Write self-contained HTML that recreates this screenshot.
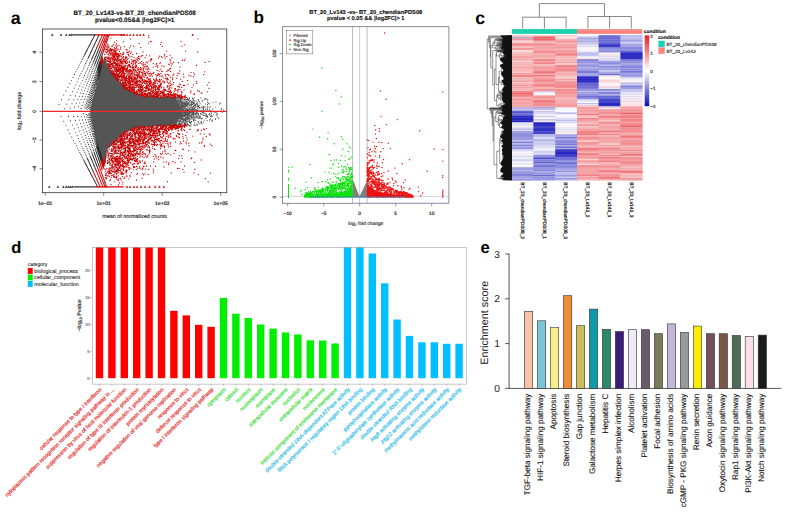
<!DOCTYPE html>
<html><head><meta charset="utf-8"><style>
html,body{margin:0;padding:0;background:#fff;}
svg{display:block;}
text{font-family:"Liberation Sans", sans-serif;text-rendering:geometricPrecision;}
</style></head><body>
<svg width="785" height="513" viewBox="0 0 785 513">
<rect width="785" height="513" fill="#fff"/>
<text x="10.8" y="23.6" font-size="17.8" text-anchor="start" font-weight="bold" fill="#000">a</text>
<text x="253.6" y="22.6" font-size="17.2" text-anchor="start" font-weight="bold" fill="#000">b</text>
<text x="475.3" y="23.6" font-size="17.8" text-anchor="start" font-weight="bold" fill="#000">c</text>
<text x="11.2" y="253.3" font-size="16.5" text-anchor="start" font-weight="bold" fill="#000">d</text>
<text x="480.6" y="253" font-size="16.6" text-anchor="start" font-weight="bold" fill="#000">e</text>
<text x="134.7" y="14.9" font-size="6.35" text-anchor="middle" font-weight="bold" fill="#111" stroke="#111" stroke-width="0.13">BT_20_Lv143-vs-BT_20_chendianPDS08</text>
<text x="134.7" y="21.9" font-size="6.35" text-anchor="middle" font-weight="bold" fill="#111" stroke="#111" stroke-width="0.13">pvalue&lt;0.05&amp;&amp; |log2FC|&gt;1</text>
<clipPath id="aclip"><rect x="42.5" y="29.0" width="184.3" height="163.7"/></clipPath>
<g clip-path="url(#aclip)">
<path d="M94.8 34.9h0M94.5 35.4h0M94.2 36h0M94 36.5h0M93.7 37.1h0M93.4 37.6h0M93.1 38.2h0M92.8 38.8h0M92.5 39.3h0M92.3 39.8h0M92 40.4h0M91.7 40.9h0M91.4 41.5h0M91.1 42h0M90.8 42.6h0M90.6 43.1h0M90.3 43.7h0M90 44.2h0M89.7 44.8h0M89.4 45.4h0M89.1 45.9h0M88.9 46.5h0M88.6 47h0M88.3 47.6h0M88 48.1h0M87.7 48.7h0M87.4 49.2h0M87.2 49.8h0M86.9 50.3h0M86.6 50.9h0M86.3 51.4h0M86 52h0M85.7 52.5h0M85.5 53.1h0M85.2 53.6h0M84.9 54.2h0M84.6 54.7h0M84.3 55.3h0M83.6 56.6h0M82.9 58h0M82.1 59.6h0M81.3 61.2h0M80.3 63h0M79.3 65h0M78.3 67.1h0M77.1 69.3h0M75.8 71.7h0M74.5 74.4h0M73 77.2h0M71.5 80.3h0M69.8 83.6h0M67.9 87.1h0M66 90.9h0M63.8 95.1h0M61.5 99.6h0M59.1 104.4h0M99 34.9h0M98.7 35.4h0M98.5 36h0M98.2 36.5h0M98 37.1h0M97.7 37.6h0M97.5 38.2h0M97.2 38.8h0M96.9 39.3h0M96.7 39.8h0M96.4 40.4h0M96.2 40.9h0M95.9 41.5h0M95.7 42h0M95.4 42.6h0M95.1 43.1h0M94.9 43.7h0M94.6 44.2h0M94.4 44.8h0M94.1 45.4h0M93.9 45.9h0M93.6 46.5h0M93.3 47h0M93.1 47.6h0M92.8 48.1h0M92.6 48.7h0M92.3 49.2h0M92.1 49.8h0M91.8 50.3h0M91.6 50.9h0M91.3 51.4h0M91 52h0M90.8 52.5h0M90.5 53.1h0M90.3 53.6h0M90 54.2h0M89.8 54.7h0M89.5 55.3h0M89.2 55.8h0M89 56.4h0M88.7 56.9h0M88.5 57.5h0M87.9 58.8h0M87.2 60.2h0M86.5 61.7h0M85.7 63.4h0M84.9 65.1h0M84 67h0M83.1 69h0M82 71.2h0M80.9 73.6h0M79.8 76.1h0M78.5 78.8h0M77.2 81.7h0M75.7 84.8h0M74.2 88.1h0M72.5 91.7h0M70.7 95.5h0M68.8 99.6h0M66.7 104.1h0M64.5 108.8h0M96.8 47.6h0M96.6 48.1h0M96.3 48.7h0M96.1 49.2h0M95.8 49.8h0M95.6 50.3h0M95.3 50.9h0M95.1 51.4h0M94.9 52h0M94.6 52.5h0M94.4 53.1h0M94.1 53.6h0M93.9 54.2h0M93.6 54.7h0M93.4 55.3h0M93.2 55.8h0M92.9 56.4h0M92.7 56.9h0M92.4 57.5h0M92.2 58h0M91.9 58.6h0M91.7 59.1h0M91.5 59.7h0M90.9 61h0M90.2 62.4h0M89.6 63.9h0M88.9 65.5h0M88.1 67.2h0M87.3 69.1h0M86.4 71h0M85.5 73.1h0M84.5 75.4h0M83.4 77.7h0M82.3 80.3h0M81.1 83h0M79.8 85.9h0M78.5 89h0M77 92.3h0M75.4 95.9h0M73.8 99.7h0M72 103.7h0M70.1 108h0M98.7 49.2h0M98.4 49.8h0M98.2 50.3h0M98 50.9h0M97.8 51.4h0M97.5 52h0M97.3 52.5h0M97.1 53.1h0M96.8 53.6h0M96.6 54.2h0M96.4 54.7h0M96.2 55.3h0M95.9 55.8h0M95.7 56.4h0M95.5 56.9h0M95.2 57.5h0M95 58h0M94.8 58.6h0M94.6 59.1h0M94.3 59.7h0M94.1 60.2h0M93.9 60.8h0M93.7 61.3h0M93.4 61.9h0M92.9 63.2h0M92.3 64.6h0M91.7 66.1h0M91 67.6h0M90.3 69.3h0M89.6 71.1h0M88.8 73h0M88 75h0M87.1 77.1h0M86.1 79.4h0M85.2 81.8h0M84.1 84.3h0M83 87h0M81.8 89.9h0M80.5 93h0M79.2 96.2h0M77.8 99.6h0M76.2 103.3h0M74.6 107.1h0M100.3 50.3h0M100.1 50.9h0M99.9 51.4h0M99.6 52h0M99.4 52.5h0M99.2 53.1h0M99 53.6h0M98.8 54.2h0M98.6 54.7h0M98.4 55.3h0M98.1 55.8h0M97.9 56.4h0M97.7 56.9h0M97.5 57.5h0M97.3 58h0M97.1 58.6h0M96.9 59.1h0M96.6 59.7h0M96.4 60.2h0M96.2 60.8h0M96 61.3h0M95.8 61.9h0M95.6 62.4h0M95.4 63h0M95.1 63.5h0M94.9 64.1h0M94.4 65.4h0M93.9 66.8h0M93.3 68.2h0M92.7 69.8h0M92.1 71.4h0M91.4 73.1h0M90.7 74.9h0M89.9 76.9h0M89.1 78.9h0M88.3 81h0M87.4 83.2h0M86.5 85.6h0M85.5 88.1h0M84.5 90.7h0M83.4 93.5h0M82.3 96.4h0M81.1 99.5h0M79.8 102.8h0M78.5 106.2h0M101.6 52h0M101.4 52.5h0M101.2 53.1h0M101 53.6h0M100.8 54.2h0M100.6 54.7h0M100.4 55.3h0M100.2 55.8h0M100 56.4h0M99.8 56.9h0M99.6 57.5h0M99.4 58h0M99.2 58.6h0M99 59.1h0M98.8 59.7h0M98.6 60.2h0M98.4 60.8h0M98.2 61.3h0M98 61.9h0M97.8 62.4h0M97.6 63h0M97.4 63.5h0M97.2 64.1h0M97 64.6h0M96.8 65.2h0M96.6 65.7h0M96.4 66.3h0M96 67.6h0M95.5 68.9h0M94.9 70.4h0M94.4 71.9h0M93.8 73.5h0M93.2 75.1h0M92.6 76.9h0M91.9 78.7h0M91.2 80.6h0M90.5 82.6h0M89.8 84.7h0M89 86.8h0M88.1 89.1h0M87.3 91.5h0M86.4 94h0M85.4 96.7h0M84.4 99.4h0M83.4 102.3h0M82.3 105.3h0M81.1 108.4h0M102.6 53.6h0M102.4 54.2h0M102.3 54.7h0M102.1 55.3h0M101.9 55.8h0M101.7 56.4h0M101.5 56.9h0M101.3 57.5h0M101.1 58h0M100.9 58.6h0M100.7 59.1h0M100.5 59.7h0M100.4 60.2h0M100.2 60.8h0M100 61.3h0M99.8 61.9h0M99.6 62.4h0M99.4 63h0M99.2 63.5h0M99 64.1h0M98.8 64.6h0M98.6 65.2h0M98.5 65.7h0M98.3 66.3h0M98.1 66.8h0M97.9 67.4h0M97.7 67.9h0M97.5 68.5h0M97.1 69.8h0M96.6 71.1h0M96.1 72.5h0M95.6 74h0M95.1 75.5h0M94.5 77.1h0M93.9 78.8h0M93.3 80.5h0M92.7 82.3h0M92.1 84.1h0M91.4 86h0M90.7 88h0M90 90.1h0M89.3 92.3h0M88.5 94.5h0M87.7 96.8h0M86.9 99.2h0M86 101.7h0M85.1 104.3h0M84.2 107h0M100.5 62.4h0M100.3 63h0M100.1 63.5h0M99.9 64.1h0M99.8 64.6h0M99.6 65.2h0M99.4 65.7h0M99.2 66.3h0M99 66.8h0M98.8 67.4h0M98.6 67.9h0M98.5 68.5h0M98.3 69h0M98.1 69.6h0M97.9 70.1h0M97.7 70.7h0M97.3 72h0M96.8 73.3h0M96.4 74.7h0M95.9 76.1h0M95.4 77.6h0M94.9 79.1h0M94.4 80.7h0M93.8 82.3h0M93.3 83.9h0M92.7 85.6h0M92.1 87.4h0M91.5 89.2h0M90.9 91h0M90.3 92.9h0M89.6 94.9h0M88.9 96.9h0M88.2 99h0M87.5 101.1h0M86.8 103.4h0M86 105.6h0M85.2 108h0M101 63.5h0M100.8 64.1h0M100.6 64.6h0M100.4 65.2h0M100.3 65.7h0M100.1 66.3h0M99.9 66.8h0M99.7 67.4h0M99.6 67.9h0M99.4 68.5h0M99.2 69h0M99 69.6h0M98.8 70.1h0M98.7 70.7h0M98.5 71.2h0M98.3 71.8h0M98.1 72.3h0M97.9 72.8h0M97.5 74.2h0M97.1 75.5h0M96.6 76.8h0M96.2 78.2h0M95.7 79.6h0M95.3 81.1h0M94.8 82.5h0M94.3 84h0M93.8 85.5h0M93.3 87.1h0M92.8 88.7h0M92.3 90.3h0M91.7 91.9h0M91.2 93.6h0M90.6 95.3h0M90.1 97h0M89.5 98.8h0M88.9 100.6h0M88.3 102.4h0M87.7 104.3h0M87.1 106.2h0M86.5 108.1h0M101.4 64.6h0M101.2 65.2h0M101.1 65.7h0M100.9 66.3h0M100.7 66.8h0M100.5 67.4h0M100.4 67.9h0M100.2 68.5h0M100 69h0M99.8 69.6h0M99.7 70.1h0M99.5 70.7h0M99.3 71.2h0M99.1 71.8h0M99 72.3h0M98.8 72.8h0M98.6 73.4h0M98.4 73.9h0M98.2 74.5h0M98.1 75h0M97.7 76.4h0M97.2 77.7h0M96.8 79h0M96.4 80.4h0M95.9 81.7h0M95.5 83.1h0M95.1 84.5h0M94.6 85.9h0M94.1 87.3h0M93.7 88.8h0M93.2 90.2h0M92.7 91.7h0M92.3 93.2h0M91.8 94.7h0M91.3 96.3h0M90.8 97.8h0M90.3 99.4h0M89.8 101h0M89.3 102.6h0M88.8 104.2h0M88.2 105.8h0M87.7 107.5h0M87.2 109.2h0M101.8 65.7h0M101.6 66.3h0M101.5 66.8h0M101.3 67.4h0M101.1 67.9h0M100.9 68.5h0M100.8 69h0M100.6 69.6h0M100.4 70.1h0M100.3 70.7h0M100.1 71.2h0M99.9 71.8h0M99.7 72.3h0M99.6 72.8h0M99.4 73.4h0M99.2 73.9h0M99.1 74.5h0M98.9 75h0M98.7 75.6h0M98.5 76.1h0M98.4 76.7h0M98.2 77.2h0M97.8 78.6h0M97.4 79.9h0M97 81.2h0M96.5 82.6h0M96.1 83.9h0M95.7 85.3h0M95.2 86.7h0M94.8 88.1h0M94.3 89.6h0M93.9 91h0M93.4 92.5h0M93 94h0M92.5 95.5h0M92 97h0M91.5 98.6h0M91.1 100.2h0M90.6 101.7h0M90.1 103.3h0M89.6 105h0M89 106.6h0M88.5 108.3h0M102.3 66.8h0M102.1 67.4h0M102 67.9h0M101.8 68.5h0M101.6 69h0M101.5 69.6h0M101.3 70.1h0M101.1 70.7h0M101 71.2h0M100.8 71.8h0M100.6 72.3h0M100.5 72.8h0M100.3 73.4h0M100.1 73.9h0M100 74.5h0M99.8 75h0M99.6 75.6h0M99.5 76.1h0M99.3 76.7h0M99.1 77.2h0M99 77.8h0M98.8 78.3h0M98.6 78.9h0M98.5 79.4h0M98.1 80.8h0M97.7 82.1h0M97.2 83.4h0M96.8 84.8h0M96.4 86.1h0M96 87.5h0M95.6 89h0M95.1 90.4h0M94.7 91.8h0M94.2 93.3h0M93.8 94.8h0M93.3 96.3h0M92.9 97.8h0M92.4 99.4h0M91.9 100.9h0M91.4 102.5h0M90.9 104.1h0M90.5 105.8h0M89.9 107.4h0M89.4 109.1h0M102.7 67.9h0M102.5 68.5h0M102.3 69h0M102.2 69.6h0M102 70.1h0M101.9 70.7h0M101.7 71.2h0M101.5 71.8h0M101.4 72.3h0M101.2 72.8h0M101 73.4h0M100.9 73.9h0M100.7 74.5h0M100.6 75h0M100.4 75.6h0M100.2 76.1h0M100.1 76.7h0M99.9 77.2h0M99.7 77.8h0M99.6 78.3h0M99.4 78.9h0M99.3 79.4h0M98.9 80.8h0M98.5 82.1h0M98.1 83.4h0M97.7 84.8h0M97.3 86.1h0M96.9 87.5h0M96.5 89h0M96 90.4h0M95.6 91.8h0M95.2 93.3h0M94.7 94.8h0M94.3 96.3h0M93.8 97.8h0M93.4 99.4h0M92.9 100.9h0M92.5 102.5h0M92 104.1h0M91.5 105.8h0M91 107.4h0M90.5 109.1h0M102.8 69.6h0M102.7 70.1h0M102.5 70.7h0M102.4 71.2h0M102.2 71.8h0M102 72.3h0M101.9 72.8h0M101.7 73.4h0M101.6 73.9h0M101.4 74.5h0M101.2 75h0M101.1 75.6h0M100.9 76.1h0M100.8 76.7h0M100.6 77.2h0M100.4 77.8h0M100.3 78.3h0M100.1 78.9h0M100 79.4h0M99.6 80.8h0M99.2 82.1h0M98.8 83.4h0M98.4 84.8h0M98 86.1h0M97.6 87.5h0M97.2 89h0M96.8 90.4h0M96.4 91.8h0M95.9 93.3h0M95.5 94.8h0M95.1 96.3h0M94.6 97.8h0M94.2 99.4h0M93.7 100.9h0M93.3 102.5h0M92.8 104.1h0M92.3 105.8h0M91.9 107.4h0M91.4 109.1h0M103.1 70.7h0M103 71.2h0M102.8 71.8h0M102.7 72.3h0M102.5 72.8h0M102.4 73.4h0M102.2 73.9h0M102 74.5h0M101.9 75h0M101.7 75.6h0M101.6 76.1h0M101.4 76.7h0M101.3 77.2h0M101.1 77.8h0M101 78.3h0M100.8 78.9h0M100.6 79.4h0M100.3 80.8h0M99.9 82.1h0M99.5 83.4h0M99.1 84.8h0M98.7 86.1h0M98.3 87.5h0M97.9 89h0M97.5 90.4h0M97.1 91.8h0M96.7 93.3h0M96.3 94.8h0M95.9 96.3h0M95.4 97.8h0M95 99.4h0M94.5 100.9h0M94.1 102.5h0M93.6 104.1h0M93.2 105.8h0M92.7 107.4h0M92.2 109.1h0M103.5 71.8h0M103.3 72.3h0M103.1 72.8h0M103 73.4h0M102.8 73.9h0M102.7 74.5h0M102.5 75h0M102.4 75.6h0M102.2 76.1h0M102.1 76.7h0M101.9 77.2h0M101.8 77.8h0M101.6 78.3h0M101.5 78.9h0M101.3 79.4h0M101 80.8h0M100.6 82.1h0M100.2 83.4h0M99.8 84.8h0M99.5 86.1h0M99.1 87.5h0M98.7 89h0M98.3 90.4h0M97.9 91.8h0M97.5 93.3h0M97.1 94.8h0M96.6 96.3h0M96.2 97.8h0M95.8 99.4h0M95.3 100.9h0M94.9 102.5h0M94.5 104.1h0M94 105.8h0M93.5 107.4h0M93.1 109.1h0M103.7 72.8h0M103.6 73.4h0M103.4 73.9h0M103.3 74.5h0M103.1 75h0M103 75.6h0M102.8 76.1h0M102.7 76.7h0M102.5 77.2h0M102.4 77.8h0M102.2 78.3h0M102.1 78.9h0M101.9 79.4h0M101.6 80.8h0M101.2 82.1h0M100.8 83.4h0M100.5 84.8h0M100.1 86.1h0M99.7 87.5h0M99.3 89h0M98.9 90.4h0M98.5 91.8h0M98.1 93.3h0M97.7 94.8h0M97.3 96.3h0M96.9 97.8h0M96.5 99.4h0M96 100.9h0M95.6 102.5h0M95.2 104.1h0M94.7 105.8h0M94.3 107.4h0M93.8 109.1h0M104 73.9h0M103.9 74.5h0M103.7 75h0M103.6 75.6h0M103.4 76.1h0M103.3 76.7h0M103.1 77.2h0M103 77.8h0M102.8 78.3h0M102.7 78.9h0M102.5 79.4h0M102.2 80.8h0M101.8 82.1h0M101.5 83.4h0M101.1 84.8h0M100.7 86.1h0M100.3 87.5h0M100 89h0M99.6 90.4h0M99.2 91.8h0M98.8 93.3h0M98.4 94.8h0M98 96.3h0M97.6 97.8h0M97.2 99.4h0M96.8 100.9h0M96.3 102.5h0M95.9 104.1h0M95.5 105.8h0M95 107.4h0M94.6 109.1h0M97.7 186.9h0M97.4 186.3h0M97.1 185.8h0M96.8 185.2h0M96.6 184.7h0M96.3 184.2h0M96 183.6h0M95.7 183.1h0M95.4 182.5h0M95.1 182h0M94.8 181.4h0M94.6 180.8h0M94.3 180.3h0M94 179.8h0M93.7 179.2h0M93.4 178.7h0M93.1 178.1h0M92.8 177.6h0M92.6 177h0M92.3 176.5h0M92 175.9h0M91.7 175.3h0M91.4 174.8h0M91.1 174.2h0M90.8 173.7h0M90.6 173.2h0M90.3 172.6h0M90 172.1h0M89.7 171.5h0M89.4 170.9h0M89.1 170.4h0M88.8 169.8h0M88.6 169.3h0M88.3 168.8h0M88 168.2h0M87.7 167.7h0M87.4 167.1h0M87.1 166.5h0M86.8 166h0M86.6 165.4h0M86.3 164.9h0M86 164.3h0M85.7 163.8h0M85.4 163.2h0M85.1 162.7h0M84.8 162.1h0M84.6 161.6h0M84.3 161h0M84 160.5h0M83.3 159.2h0M82.5 157.7h0M81.7 156.1h0M80.8 154.4h0M79.8 152.5h0M78.8 150.5h0M77.6 148.2h0M76.3 145.8h0M75 143.1h0M73.5 140.2h0M71.8 137.1h0M70 133.6h0M68.1 129.9h0M66 125.8h0M63.7 121.3h0M61.1 116.5h0M93 170.9h0M92.8 170.4h0M92.5 169.8h0M92.3 169.3h0M92 168.8h0M91.8 168.2h0M91.5 167.7h0M91.3 167.1h0M91 166.5h0M90.8 166h0M90.5 165.4h0M90.3 164.9h0M90.1 164.3h0M89.8 163.8h0M89.6 163.2h0M89.3 162.7h0M89.1 162.1h0M88.8 161.6h0M88.6 161h0M88.3 160.5h0M88.1 159.9h0M87.8 159.4h0M87.6 158.8h0M87.3 158.3h0M86.7 157h0M86.1 155.5h0M85.4 154h0M84.6 152.3h0M83.8 150.4h0M82.9 148.4h0M81.9 146.2h0M80.9 143.9h0M79.7 141.3h0M78.5 138.6h0M77.1 135.6h0M75.7 132.3h0M74.1 128.8h0M72.4 125h0M70.5 120.9h0M68.5 116.4h0M95.7 169.3h0M95.4 168.8h0M95.2 168.2h0M95 167.7h0M94.8 167.1h0M94.5 166.5h0M94.3 166h0M94.1 165.4h0M93.8 164.9h0M93.6 164.3h0M93.4 163.8h0M93.2 163.2h0M92.9 162.7h0M92.7 162.1h0M92.5 161.6h0M92.2 161h0M92 160.5h0M91.8 159.9h0M91.6 159.4h0M91.3 158.8h0M91.1 158.3h0M90.9 157.7h0M90.6 157.2h0M90.4 156.6h0M90.2 156.1h0M89.6 154.8h0M89 153.3h0M88.4 151.8h0M87.7 150.1h0M86.9 148.3h0M86.1 146.4h0M85.3 144.3h0M84.3 142h0M83.3 139.6h0M82.2 137h0M81.1 134.2h0M79.8 131.1h0M78.4 127.8h0M77 124.3h0M75.4 120.5h0M73.6 116.4h0M97.4 167.1h0M97.2 166.5h0M96.9 166h0M96.7 165.4h0M96.5 164.9h0M96.3 164.3h0M96.1 163.8h0M95.9 163.2h0M95.7 162.7h0M95.5 162.1h0M95.3 161.6h0M95 161h0M94.8 160.5h0M94.6 159.9h0M94.4 159.4h0M94.2 158.8h0M94 158.3h0M93.8 157.7h0M93.6 157.2h0M93.3 156.6h0M93.1 156.1h0M92.9 155.5h0M92.7 155h0M92.5 154.4h0M92.3 153.9h0M91.8 152.6h0M91.2 151.1h0M90.6 149.6h0M90 148h0M89.3 146.2h0M88.6 144.4h0M87.8 142.4h0M87 140.2h0M86.1 137.9h0M85.2 135.4h0M84.1 132.8h0M83.1 129.9h0M81.9 126.9h0M80.6 123.6h0M79.3 120.1h0M77.8 116.4h0M98.9 165.4h0M98.7 164.9h0M98.5 164.3h0M98.3 163.8h0M98.1 163.2h0M97.9 162.7h0M97.7 162.1h0M97.5 161.6h0M97.3 161h0M97.1 160.5h0M96.9 159.9h0M96.7 159.4h0M96.5 158.8h0M96.3 158.3h0M96.1 157.7h0M95.9 157.2h0M95.7 156.6h0M95.5 156.1h0M95.3 155.5h0M95.1 155h0M94.9 154.4h0M94.8 153.9h0M94.6 153.3h0M94.4 152.8h0M94.2 152.2h0M94 151.7h0M93.5 150.4h0M93 149h0M92.4 147.5h0M91.9 145.9h0M91.3 144.2h0M90.6 142.4h0M89.9 140.4h0M89.2 138.4h0M88.4 136.2h0M87.6 133.9h0M86.7 131.4h0M85.7 128.8h0M84.7 126h0M83.7 123.1h0M82.5 119.9h0M81.3 116.5h0M99.9 162.7h0M99.7 162.1h0M99.5 161.6h0M99.4 161h0M99.2 160.5h0M99 159.9h0M98.8 159.4h0M98.6 158.8h0M98.4 158.3h0M98.3 157.7h0M98.1 157.2h0M97.9 156.6h0M97.7 156.1h0M97.5 155.5h0M97.3 155h0M97.1 154.4h0M97 153.9h0M96.8 153.3h0M96.6 152.8h0M96.4 152.2h0M96.2 151.7h0M96 151.2h0M95.9 150.6h0M95.7 150.1h0M95.5 149.5h0M95.1 148.2h0M94.6 146.8h0M94.1 145.3h0M93.6 143.8h0M93 142.1h0M92.4 140.4h0M91.8 138.6h0M91.2 136.6h0M90.5 134.6h0M89.8 132.4h0M89 130.2h0M88.2 127.8h0M87.4 125.2h0M86.5 122.6h0M85.5 119.7h0M84.6 116.8h0M83.5 113.6h0M101.2 161.6h0M101 161h0M100.8 160.5h0M100.6 159.9h0M100.5 159.4h0M100.3 158.8h0M100.1 158.3h0M99.9 157.7h0M99.8 157.2h0M99.6 156.6h0M99.4 156.1h0M99.2 155.5h0M99.1 155h0M98.9 154.4h0M98.7 153.9h0M98.6 153.3h0M98.4 152.8h0M98.2 152.2h0M98 151.7h0M97.9 151.2h0M97.7 150.6h0M97.5 150.1h0M97.3 149.5h0M97.2 149h0M97 148.4h0M96.8 147.9h0M96.6 147.3h0M96.2 146h0M95.8 144.6h0M95.3 143.2h0M94.8 141.7h0M94.3 140.1h0M93.8 138.4h0M93.3 136.7h0M92.7 134.9h0M92.1 133h0M91.5 131h0M90.8 128.9h0M90.1 126.8h0M89.4 124.5h0M88.6 122.1h0M87.9 119.7h0M87 117.1h0M86.2 114.4h0M101.6 160.5h0M101.5 159.9h0M101.3 159.4h0M101.1 158.8h0M100.9 158.3h0M100.8 157.7h0M100.6 157.2h0M100.4 156.6h0M100.3 156.1h0M100.1 155.5h0M99.9 155h0M99.8 154.4h0M99.6 153.9h0M99.4 153.3h0M99.2 152.8h0M99.1 152.2h0M98.9 151.7h0M98.7 151.2h0M98.6 150.6h0M98.4 150.1h0M98.2 149.5h0M98 149h0M97.9 148.4h0M97.7 147.9h0M97.5 147.3h0M97.4 146.8h0M97.2 146.2h0M97 145.7h0M96.9 145.1h0M96.4 143.8h0M96 142.4h0M95.6 141h0M95.1 139.6h0M94.7 138h0M94.2 136.5h0M93.7 134.9h0M93.2 133.2h0M92.6 131.5h0M92.1 129.7h0M91.5 127.8h0M90.9 125.9h0M90.3 123.9h0M89.6 121.8h0M89 119.7h0M88.3 117.5h0M87.6 115.2h0M101.9 158.8h0M101.7 158.3h0M101.5 157.7h0M101.4 157.2h0M101.2 156.6h0M101 156.1h0M100.9 155.5h0M100.7 155h0M100.5 154.4h0M100.4 153.9h0M100.2 153.3h0M100.1 152.8h0M99.9 152.2h0M99.7 151.7h0M99.6 151.2h0M99.4 150.6h0M99.2 150.1h0M99.1 149.5h0M98.9 149h0M98.7 148.4h0M98.6 147.9h0M98.4 147.3h0M98.2 146.8h0M98.1 146.2h0M97.9 145.7h0M97.7 145.1h0M97.6 144.6h0M97.4 144h0M97.2 143.5h0M97.1 142.9h0M96.7 141.6h0M96.3 140.3h0M95.9 138.9h0M95.5 137.5h0M95 136h0M94.6 134.6h0M94.1 133.1h0M93.7 131.5h0M93.2 130h0M92.7 128.4h0M92.2 126.7h0M91.7 125h0M91.2 123.3h0M90.7 121.5h0M90.1 119.7h0M89.6 117.9h0M89 116h0M88.4 114.1h0M102.2 157.7h0M102.1 157.2h0M101.9 156.6h0M101.7 156.1h0M101.6 155.5h0M101.4 155h0M101.2 154.4h0M101.1 153.9h0M100.9 153.3h0M100.8 152.8h0M100.6 152.2h0M100.4 151.7h0M100.3 151.2h0M100.1 150.6h0M100 150.1h0M99.8 149.5h0M99.6 149h0M99.5 148.4h0M99.3 147.9h0M99.1 147.3h0M99 146.8h0M98.8 146.2h0M98.7 145.7h0M98.5 145.1h0M98.3 144.6h0M98.2 144h0M98 143.5h0M97.9 142.9h0M97.7 142.4h0M97.5 141.8h0M97.4 141.3h0M97.2 140.7h0M96.8 139.4h0M96.4 138.1h0M96 136.7h0M95.6 135.4h0M95.2 134h0M94.8 132.6h0M94.4 131.2h0M94 129.7h0M93.5 128.3h0M93.1 126.8h0M92.7 125.3h0M92.2 123.7h0M91.8 122.2h0M91.3 120.6h0M90.8 119h0M90.4 117.4h0M89.9 115.8h0M89.4 114.1h0M102.6 156.6h0M102.4 156.1h0M102.3 155.5h0M102.1 155h0M101.9 154.4h0M101.8 153.9h0M101.6 153.3h0M101.5 152.8h0M101.3 152.2h0M101.2 151.7h0M101 151.2h0M100.8 150.6h0M100.7 150.1h0M100.5 149.5h0M100.4 149h0M100.2 148.4h0M100 147.9h0M99.9 147.3h0M99.7 146.8h0M99.6 146.2h0M99.4 145.7h0M99.3 145.1h0M99.1 144.6h0M98.9 144h0M98.8 143.5h0M98.6 142.9h0M98.5 142.4h0M98.3 141.8h0M98.1 141.3h0M98 140.7h0M97.8 140.2h0M97.7 139.6h0M97.5 139.1h0M97.4 138.5h0M97 137.2h0M96.6 135.9h0M96.2 134.5h0M95.8 133.2h0M95.4 131.8h0M95 130.4h0M94.6 128.9h0M94.2 127.5h0M93.8 126h0M93.3 124.5h0M92.9 123h0M92.4 121.4h0M92 119.9h0M91.5 118.3h0M91.1 116.6h0M90.6 115h0M90.1 113.3h0M103 155.5h0M102.8 155h0M102.6 154.4h0M102.5 153.9h0M102.3 153.3h0M102.2 152.8h0M102 152.2h0M101.9 151.7h0M101.7 151.2h0M101.6 150.6h0M101.4 150.1h0M101.3 149.5h0M101.1 149h0M100.9 148.4h0M100.8 147.9h0M100.6 147.3h0M100.5 146.8h0M100.3 146.2h0M100.2 145.7h0M100 145.1h0M99.9 144.6h0M99.7 144h0M99.5 143.5h0M99.4 142.9h0M99.2 142.4h0M99.1 141.8h0M98.9 141.3h0M98.8 140.7h0M98.6 140.2h0M98.5 139.6h0M98.3 139.1h0M98.2 138.5h0M98 138h0M97.8 137.4h0M97.7 136.9h0M97.5 136.3h0M97.2 135h0M96.8 133.7h0M96.4 132.3h0M96 130.9h0M95.6 129.5h0M95.2 128.1h0M94.8 126.7h0M94.4 125.2h0M94 123.7h0M93.6 122.2h0M93.1 120.6h0M92.7 119.1h0M92.2 117.5h0M91.8 115.9h0M91.3 114.2h0M103.3 154.4h0M103.1 153.9h0M103 153.3h0M102.8 152.8h0M102.7 152.2h0M102.5 151.7h0M102.4 151.2h0M102.2 150.6h0M102.1 150.1h0M101.9 149.5h0M101.8 149h0M101.6 148.4h0M101.5 147.9h0M101.3 147.3h0M101.2 146.8h0M101 146.2h0M100.9 145.7h0M100.7 145.1h0M100.6 144.6h0M100.4 144h0M100.3 143.5h0M100.1 142.9h0M100 142.4h0M99.8 141.8h0M99.7 141.3h0M99.5 140.7h0M99.4 140.2h0M99.2 139.6h0M99.1 139.1h0M98.9 138.5h0M98.8 138h0M98.6 137.4h0M98.5 136.9h0M98.3 136.3h0M98 135h0M97.6 133.7h0M97.2 132.3h0M96.9 130.9h0M96.5 129.5h0M96.1 128.1h0M95.7 126.7h0M95.3 125.2h0M94.9 123.7h0M94.5 122.2h0M94 120.6h0M93.6 119.1h0M93.2 117.5h0M92.7 115.9h0M92.3 114.2h0M103.5 152.8h0M103.3 152.2h0M103.2 151.7h0M103 151.2h0M102.9 150.6h0M102.7 150.1h0M102.6 149.5h0M102.4 149h0M102.3 148.4h0M102.1 147.9h0M102 147.3h0M101.8 146.8h0M101.7 146.2h0M101.5 145.7h0M101.4 145.1h0M101.2 144.6h0M101.1 144h0M101 143.5h0M100.8 142.9h0M100.7 142.4h0M100.5 141.8h0M100.4 141.3h0M100.2 140.7h0M100.1 140.2h0M99.9 139.6h0M99.8 139.1h0M99.6 138.5h0M99.5 138h0M99.3 137.4h0M99.2 136.9h0M99 136.3h0M98.7 135h0M98.3 133.7h0M98 132.3h0M97.6 130.9h0M97.2 129.5h0M96.8 128.1h0M96.5 126.7h0M96.1 125.2h0M95.7 123.7h0M95.3 122.2h0M94.8 120.6h0M94.4 119.1h0M94 117.5h0M93.6 115.9h0M93.1 114.2h0M103.7 151.7h0M103.6 151.2h0M103.4 150.6h0M103.3 150.1h0M103.1 149.5h0M103 149h0M102.9 148.4h0M102.7 147.9h0M102.6 147.3h0M102.4 146.8h0M102.3 146.2h0M102.1 145.7h0M102 145.1h0M101.8 144.6h0M101.7 144h0M101.6 143.5h0M101.4 142.9h0M101.3 142.4h0M101.1 141.8h0M101 141.3h0M100.8 140.7h0M100.7 140.2h0M100.5 139.6h0M100.4 139.1h0M100.2 138.5h0M100.1 138h0M100 137.4h0M99.8 136.9h0M99.7 136.3h0M99.3 135h0M99 133.7h0M98.6 132.3h0M98.3 130.9h0M97.9 129.5h0M97.5 128.1h0M97.1 126.7h0M96.7 125.2h0M96.4 123.7h0M96 122.2h0M95.5 120.6h0M95.1 119.1h0M94.7 117.5h0M94.3 115.9h0M93.8 114.2h0M104 150.6h0M103.9 150.1h0M103.7 149.5h0M103.6 149h0M103.4 148.4h0M103.3 147.9h0M103.1 147.3h0M103 146.8h0M102.9 146.2h0M102.7 145.7h0M102.6 145.1h0M102.4 144.6h0M102.3 144h0M102.2 143.5h0M102 142.9h0M101.9 142.4h0M101.7 141.8h0M101.6 141.3h0M101.4 140.7h0M101.3 140.2h0M101.2 139.6h0M101 139.1h0M100.9 138.5h0M100.7 138h0M100.6 137.4h0M100.4 136.9h0M100.3 136.3h0M100 135h0M99.6 133.7h0M99.3 132.3h0M98.9 130.9h0M98.6 129.5h0M98.2 128.1h0M97.8 126.7h0M97.4 125.2h0M97 123.7h0M96.7 122.2h0M96.3 120.6h0M95.8 119.1h0M95.4 117.5h0M95 115.9h0M94.6 114.2h0M104.2 149.5h0M104.1 149h0M104 148.4h0M103.8 147.9h0M103.7 147.3h0M103.6 146.8h0M103.4 146.2h0M103.3 145.7h0M103.1 145.1h0M103 144.6h0M102.9 144h0M102.7 143.5h0M102.6 142.9h0M102.4 142.4h0M102.3 141.8h0M102.2 141.3h0M102 140.7h0M101.9 140.2h0M101.7 139.6h0M101.6 139.1h0M101.5 138.5h0M101.3 138h0M101.2 137.4h0M101.1 136.9h0M100.9 136.3h0M100.6 135h0M100.2 133.7h0M99.9 132.3h0M99.6 130.9h0M99.2 129.5h0M98.8 128.1h0M98.5 126.7h0M98.1 125.2h0M97.7 123.7h0M97.3 122.2h0M97 120.6h0M96.6 119.1h0M96.2 117.5h0M95.7 115.9h0M95.3 114.2h0M104.6 148.4h0M104.5 147.9h0M104.3 147.3h0M104.2 146.8h0M104 146.2h0M103.9 145.7h0M103.8 145.1h0M103.6 144.6h0M103.5 144h0M103.4 143.5h0M103.2 142.9h0M103.1 142.4h0M102.9 141.8h0M102.8 141.3h0M102.7 140.7h0M102.5 140.2h0M102.4 139.6h0M102.3 139.1h0M102.1 138.5h0M102 138h0M101.8 137.4h0M101.7 136.9h0M101.6 136.3h0M101.2 135h0M100.9 133.7h0M100.6 132.3h0M100.2 130.9h0M99.9 129.5h0M99.5 128.1h0M99.2 126.7h0M98.8 125.2h0M98.4 123.7h0M98 122.2h0M97.7 120.6h0M97.3 119.1h0M96.9 117.5h0M96.5 115.9h0M96.1 114.2h0" stroke="#2e2e2e" stroke-width="1.12" stroke-linecap="round" fill="none"/>
<path d="M102.4 34.9h0M102.2 35.4h0M101.9 36h0M101.7 36.5h0M101.4 37.1h0M101.2 37.6h0M100.9 38.2h0M100.7 38.8h0M100.5 39.3h0M100.2 39.8h0M100 40.4h0M99.7 40.9h0M99.5 41.5h0M99.2 42h0M99 42.6h0M98.8 43.1h0M98.5 43.7h0M98.3 44.2h0M98 44.8h0M97.8 45.4h0M97.5 45.9h0M97.3 46.5h0M97 47h0M104.6 34.9h0M104.4 35.4h0M104.1 36h0M103.9 36.5h0M103.7 37.1h0M103.5 37.6h0M103.2 38.2h0M103 38.8h0M102.8 39.3h0M102.5 39.8h0M102.3 40.4h0M102.1 40.9h0M101.9 41.5h0M101.6 42h0M101.4 42.6h0M101.2 43.1h0M101 43.7h0M100.7 44.2h0M100.5 44.8h0M100.3 45.4h0M100 45.9h0M99.8 46.5h0M99.6 47h0M99.4 47.6h0M99.1 48.1h0M98.9 48.7h0M106.3 34.9h0M106.1 35.4h0M105.9 36h0M105.7 36.5h0M105.4 37.1h0M105.2 37.6h0M105 38.2h0M104.8 38.8h0M104.6 39.3h0M104.4 39.8h0M104.2 40.4h0M103.9 40.9h0M103.7 41.5h0M103.5 42h0M103.3 42.6h0M103.1 43.1h0M102.9 43.7h0M102.7 44.2h0M102.4 44.8h0M102.2 45.4h0M102 45.9h0M101.8 46.5h0M101.6 47h0M101.4 47.6h0M101.1 48.1h0M100.9 48.7h0M100.7 49.2h0M100.5 49.8h0M107.8 34.9h0M107.6 35.4h0M107.4 36h0M107.2 36.5h0M107 37.1h0M106.8 37.6h0M106.6 38.2h0M106.4 38.8h0M106.2 39.3h0M106 39.8h0M105.8 40.4h0M105.6 40.9h0M105.4 41.5h0M105.2 42h0M105 42.6h0M104.8 43.1h0M104.6 43.7h0M104.4 44.2h0M104.2 44.8h0M104 45.4h0M103.8 45.9h0M103.6 46.5h0M103.4 47h0M103.2 47.6h0M103 48.1h0M102.8 48.7h0M102.6 49.2h0M102.4 49.8h0M102.2 50.3h0M102 50.9h0M101.8 51.4h0M109.1 34.9h0M108.9 35.4h0M108.7 36h0M108.5 36.5h0M108.3 37.1h0M108.1 37.6h0M108 38.2h0M107.8 38.8h0M107.6 39.3h0M107.4 39.8h0M107.2 40.4h0M107 40.9h0M106.8 41.5h0M106.6 42h0M106.4 42.6h0M106.2 43.1h0M106.1 43.7h0M105.9 44.2h0M105.7 44.8h0M105.5 45.4h0M105.3 45.9h0M105.1 46.5h0M104.9 47h0M104.7 47.6h0M104.5 48.1h0M104.3 48.7h0M104.2 49.2h0M104 49.8h0M103.8 50.3h0M103.6 50.9h0M103.4 51.4h0M103.2 52h0M103 52.5h0M102.8 53.1h0M102.3 56.9h0M102.1 57.5h0M102 58h0M101.8 58.6h0M101.6 59.1h0M101.4 59.7h0M101.2 60.2h0M101 60.8h0M100.9 61.3h0M100.7 61.9h0M102.6 58.6h0M102.4 59.1h0M102.2 59.7h0M102.1 60.2h0M101.9 60.8h0M101.7 61.3h0M101.5 61.9h0M101.3 62.4h0M101.2 63h0M103 59.7h0M102.8 60.2h0M102.6 60.8h0M102.5 61.3h0M102.3 61.9h0M102.1 62.4h0M101.9 63h0M101.8 63.5h0M101.6 64.1h0M103.3 60.8h0M103.2 61.3h0M103 61.9h0M102.8 62.4h0M102.7 63h0M102.5 63.5h0M102.3 64.1h0M102.1 64.6h0M102 65.2h0M103.8 61.9h0M103.6 62.4h0M103.5 63h0M103.3 63.5h0M103.1 64.1h0M103 64.6h0M102.8 65.2h0M102.6 65.7h0M102.5 66.3h0M104.1 63h0M104 63.5h0M103.8 64.1h0M103.6 64.6h0M103.5 65.2h0M103.3 65.7h0M103.2 66.3h0M103 66.8h0M102.8 67.4h0M104.3 64.6h0M104.1 65.2h0M104 65.7h0M103.8 66.3h0M103.6 66.8h0M103.5 67.4h0M103.3 67.9h0M103.2 68.5h0M103 69h0M104.5 65.7h0M104.4 66.3h0M104.2 66.8h0M104.1 67.4h0M103.9 67.9h0M103.8 68.5h0M103.6 69h0M103.5 69.6h0M103.3 70.1h0M104.8 66.8h0M104.7 67.4h0M104.5 67.9h0M104.4 68.5h0M104.2 69h0M104.1 69.6h0M103.9 70.1h0M103.8 70.7h0M103.6 71.2h0M105.1 67.9h0M104.9 68.5h0M104.8 69h0M104.6 69.6h0M104.5 70.1h0M104.3 70.7h0M104.2 71.2h0M104 71.8h0M103.9 72.3h0M105.3 69h0M105.2 69.6h0M105 70.1h0M104.9 70.7h0M104.7 71.2h0M104.6 71.8h0M104.4 72.3h0M104.3 72.8h0M104.2 73.4h0M100.2 186.9h0M100 186.3h0M99.7 185.8h0M99.5 185.2h0M99.2 184.7h0M99 184.2h0M98.7 183.6h0M98.5 183.1h0M98.2 182.5h0M98 182h0M97.7 181.4h0M97.5 180.8h0M97.2 180.3h0M97 179.8h0M96.7 179.2h0M96.5 178.7h0M96.2 178.1h0M96 177.6h0M95.7 177h0M95.5 176.5h0M95.3 175.9h0M95 175.3h0M94.8 174.8h0M94.5 174.2h0M94.3 173.7h0M94 173.2h0M93.8 172.6h0M93.5 172.1h0M93.3 171.5h0M103 186.9h0M102.8 186.3h0M102.5 185.8h0M102.3 185.2h0M102.1 184.7h0M101.9 184.2h0M101.6 183.6h0M101.4 183.1h0M101.2 182.5h0M100.9 182h0M100.7 181.4h0M100.5 180.8h0M100.3 180.3h0M100 179.8h0M99.8 179.2h0M99.6 178.7h0M99.3 178.1h0M99.1 177.6h0M98.9 177h0M98.7 176.5h0M98.4 175.9h0M98.2 175.3h0M98 174.8h0M97.7 174.2h0M97.5 173.7h0M97.3 173.2h0M97.1 172.6h0M96.8 172.1h0M96.6 171.5h0M96.4 170.9h0M96.1 170.4h0M95.9 169.8h0M105 186.9h0M104.8 186.3h0M104.6 185.8h0M104.4 185.2h0M104.2 184.7h0M103.9 184.2h0M103.7 183.6h0M103.5 183.1h0M103.3 182.5h0M103.1 182h0M102.9 181.4h0M102.7 180.8h0M102.5 180.3h0M102.2 179.8h0M102 179.2h0M101.8 178.7h0M101.6 178.1h0M101.4 177.6h0M101.2 177h0M101 176.5h0M100.8 175.9h0M100.6 175.3h0M100.3 174.8h0M100.1 174.2h0M99.9 173.7h0M99.7 173.2h0M99.5 172.6h0M99.3 172.1h0M99.1 171.5h0M98.9 170.9h0M98.6 170.4h0M98.4 169.8h0M98.2 169.3h0M98 168.8h0M97.8 168.2h0M97.6 167.7h0M106.6 186.9h0M106.4 186.3h0M106.2 185.8h0M106 185.2h0M105.8 184.7h0M105.6 184.2h0M105.4 183.6h0M105.2 183.1h0M105 182.5h0M104.8 182h0M104.6 181.4h0M104.4 180.8h0M104.2 180.3h0M104 179.8h0M103.8 179.2h0M103.6 178.7h0M103.4 178.1h0M103.2 177.6h0M103 177h0M102.8 176.5h0M102.7 175.9h0M102.5 175.3h0M102.3 174.8h0M102.1 174.2h0M101.9 173.7h0M101.7 173.2h0M101.5 172.6h0M101.3 172.1h0M101.1 171.5h0M100.9 170.9h0M100.7 170.4h0M100.5 169.8h0M100.3 169.3h0M100.1 168.8h0M99.9 168.2h0M99.7 167.7h0M99.5 167.1h0M99.3 166.5h0M99.1 166h0M102.3 169.8h0M102.1 169.3h0M101.9 168.8h0M101.7 168.2h0M101.6 167.7h0M101.4 167.1h0M101.2 166.5h0M101 166h0M100.8 165.4h0M100.6 164.9h0M100.5 164.3h0M100.3 163.8h0M100.1 163.2h0M103.3 168.2h0M103.1 167.7h0M102.9 167.1h0M102.7 166.5h0M102.6 166h0M102.4 165.4h0M102.2 164.9h0M102 164.3h0M101.9 163.8h0M101.7 163.2h0M101.5 162.7h0M101.3 162.1h0M103.7 167.1h0M103.5 166.5h0M103.3 166h0M103.2 165.4h0M103 164.9h0M102.8 164.3h0M102.6 163.8h0M102.5 163.2h0M102.3 162.7h0M102.1 162.1h0M102 161.6h0M101.8 161h0M104 166h0M103.9 165.4h0M103.7 164.9h0M103.5 164.3h0M103.4 163.8h0M103.2 163.2h0M103 162.7h0M102.9 162.1h0M102.7 161.6h0M102.5 161h0M102.4 160.5h0M102.2 159.9h0M102 159.4h0M104.3 164.9h0M104.2 164.3h0M104 163.8h0M103.8 163.2h0M103.7 162.7h0M103.5 162.1h0M103.4 161.6h0M103.2 161h0M103 160.5h0M102.9 159.9h0M102.7 159.4h0M102.5 158.8h0M102.4 158.3h0M104.6 163.8h0M104.5 163.2h0M104.3 162.7h0M104.2 162.1h0M104 161.6h0M103.9 161h0M103.7 160.5h0M103.5 159.9h0M103.4 159.4h0M103.2 158.8h0M103.1 158.3h0M102.9 157.7h0M102.7 157.2h0M105 162.7h0M104.8 162.1h0M104.7 161.6h0M104.5 161h0M104.4 160.5h0M104.2 159.9h0M104 159.4h0M103.9 158.8h0M103.7 158.3h0M103.6 157.7h0M103.4 157.2h0M103.3 156.6h0M103.1 156.1h0M105.1 161h0M105 160.5h0M104.8 159.9h0M104.7 159.4h0M104.5 158.8h0M104.4 158.3h0M104.2 157.7h0M104.1 157.2h0M103.9 156.6h0M103.8 156.1h0M103.6 155.5h0M103.5 155h0M105.4 159.9h0M105.2 159.4h0M105.1 158.8h0M104.9 158.3h0M104.8 157.7h0M104.6 157.2h0M104.5 156.6h0M104.3 156.1h0M104.2 155.5h0M104 155h0M103.9 154.4h0M103.8 153.9h0M103.6 153.3h0M105.6 158.8h0M105.5 158.3h0M105.3 157.7h0M105.2 157.2h0M105 156.6h0M104.9 156.1h0M104.7 155.5h0M104.6 155h0M104.5 154.4h0M104.3 153.9h0M104.2 153.3h0M104 152.8h0M103.9 152.2h0M105.9 157.7h0M105.7 157.2h0M105.6 156.6h0M105.4 156.1h0M105.3 155.5h0M105.1 155h0M105 154.4h0M104.9 153.9h0M104.7 153.3h0M104.6 152.8h0M104.4 152.2h0M104.3 151.7h0M104.1 151.2h0M106.1 156.6h0M105.9 156.1h0M105.8 155.5h0M105.6 155h0M105.5 154.4h0M105.4 153.9h0M105.2 153.3h0M105.1 152.8h0M104.9 152.2h0M104.8 151.7h0M104.7 151.2h0M104.5 150.6h0M104.4 150.1h0M106.2 155h0M106.1 154.4h0M106 153.9h0M105.8 153.3h0M105.7 152.8h0M105.6 152.2h0M105.4 151.7h0M105.3 151.2h0M105.1 150.6h0M105 150.1h0M104.9 149.5h0M104.7 149h0" stroke="#D00000" stroke-width="1.12" stroke-linecap="round" fill="none"/>
<path d="M104.5 56L107.8 67.2L116.8 79.7L125.7 88.6L134.6 93.1L143.5 95.8L152.4 96.4L161.3 96.7L170.3 96.7L174 97.5L177 100L179 106L179.5 111.3L179 117L177 122.5L174 125.5L170.3 126L161.3 126L152.4 126.4L143.5 126.9L134.6 127.8L125.7 131.4L116.8 138.5L107.8 148.3L104 162L99.8 150L95.3 136L92 122L90 111.3L92.5 100L96.3 88L100.3 74L104 58Z" fill="#555555"/>
<path d="M186.7 106.2h0M175.6 109.4h0M176.6 109.2h0M176.7 108.1h0M174.8 105.3h0M177.4 107.8h0M181.5 109.2h0M175 109.5h0M172 125.2h0M181.4 106.8h0M178.9 116.2h0M178.2 108.9h0M172.4 120.3h0M186.9 102.7h0M187.3 119.2h0M174.2 112.1h0M194.3 103.2h0M186.2 113.8h0M180 107.3h0M176.1 111.5h0M218.6 118.6h0M197 112.9h0M177.4 109.5h0M204.9 115.4h0M187.4 109.4h0M198.4 113.1h0M216.7 115.1h0M176.6 102.6h0M207.5 116h0M184.4 114.3h0M172.8 125.6h0M173.3 114.5h0M175.3 124h0M178 107.9h0M197.6 124.8h0M189.8 118.1h0M172.9 114.4h0M182.1 104.1h0M207.3 120.5h0M181.7 105.9h0M176.6 113.3h0M189.2 100.1h0M179.9 111.3h0M187.3 118.1h0M180.4 108.4h0M172.7 109.1h0M178.3 104.1h0M183.9 110.3h0M203.4 112.9h0M176.7 124.8h0M194 106.1h0M184 120.9h0M190 102.5h0M184.5 111.7h0M187.1 118.2h0M178.3 123.6h0M176 109.6h0M188.9 124.8h0M174.1 108.6h0M178.6 115.7h0M179.8 102.9h0M175.6 106.3h0M188.3 99.3h0M190 119h0M173.4 114.3h0M190.9 112.5h0M185.4 112.3h0M174.7 107h0M174.9 108.3h0M203.2 108.3h0M172.5 118.6h0M178.4 119h0M194.1 112.4h0M185.5 121h0M183.1 112.7h0M181.9 108.8h0M179.4 118.5h0M172 107.9h0M195.2 117.4h0M180.2 114.7h0M211.9 121.2h0M186 120.7h0M182.8 102.7h0M208.4 103.5h0M194.4 120h0M172.8 116.9h0M189.7 113.7h0M184.3 108.8h0M181.3 118.1h0M173.3 117.2h0M193.4 120.9h0M175.1 103.9h0M204.1 107.3h0M183.3 111.7h0M181 109.6h0M191.6 109.6h0M172.1 100.5h0M174.4 122.7h0M179.6 112.6h0M193.5 102.4h0M182.7 107.1h0M182 108.9h0M196.1 112.2h0M177.7 109.9h0M175.3 116.8h0M179.7 101h0M175.2 110.6h0M173.3 102.2h0M202.8 110.9h0M179.4 109.7h0M198 115.4h0M172.9 113.1h0M203.6 107.5h0M174.5 112.7h0M172.5 100.7h0M182.1 110.2h0M175.3 102.9h0M184.5 116.4h0M206.1 116.5h0M179.4 117.7h0M190 118.8h0M204.3 110.6h0M186.2 122.9h0M173.8 108.1h0M175.9 110.5h0M185 122.3h0M211.6 113.5h0M176.3 104h0M181.7 116.1h0M222.2 112.3h0M209.2 107.6h0M176.9 103.3h0M206 118.2h0M173.2 113h0M180.5 99.2h0M172.7 105.5h0M175.1 105.1h0M173 107h0M173.2 125h0M172 101.1h0M183.8 111.1h0M188.7 113.7h0M177.3 107.3h0M172.1 107.1h0M174.9 99.7h0M177.9 107h0M173.3 102.7h0M178 110.3h0M199.4 118.5h0M180.8 118.3h0M177.4 105.1h0M172.3 104.3h0M178 118.4h0M179.5 124.7h0M209.8 103.8h0M172.5 101.6h0M176.6 124.3h0M210.8 110.8h0M186.4 118.9h0M179.1 116.8h0M179.1 103.1h0M178.2 107.7h0M182 112.5h0M189.1 105.4h0M173.6 125.1h0M186.5 105h0M176.3 116.5h0M172.2 100.6h0M200.7 113.3h0M178.6 105.5h0M182.7 115h0M176.2 106.6h0M179.8 119h0M176.2 121h0M173.4 123.4h0M179.7 110.7h0M178.7 114h0M172.5 112.8h0M182.6 108.8h0M177.4 107.9h0M175.1 123.6h0M176.1 106.9h0M187.4 109.9h0M174.7 115.5h0M178.9 124.2h0M183.7 120.1h0M185.9 121.7h0M178.8 112.6h0M172.6 118.3h0M172.5 124.8h0M176.5 117.6h0M176.1 108.2h0M177.4 118h0M178.1 106.4h0M183.3 120.5h0M196.5 112.1h0M177.9 113.1h0M179 101.8h0M187.4 112.4h0M221.3 108.4h0M176.9 115.6h0M179.3 105.8h0M178.5 118.5h0M173.5 116.2h0M181.7 99.8h0M199.9 108.2h0M173.6 107.3h0M172.1 110.8h0M180.4 120.8h0M196 107.4h0M176.7 121.8h0M175.9 122.9h0M172 109.9h0M183.6 107.8h0M191.1 117.7h0M177.1 110.6h0M197.1 125.3h0M182.8 110.4h0M199.1 111.2h0M185.8 118.4h0M175.1 109.4h0M176.6 100.1h0M193.7 120.3h0M201.9 100.8h0M180.1 111h0M187.9 108.6h0M181 110h0M179.9 114.8h0M172.6 123.7h0M173.1 121h0M186.4 117.7h0M187 119h0M176 125.9h0M182.9 116h0M173.6 108.9h0M176.9 107.3h0M187.2 111.2h0M176.2 111.6h0M176.3 117.4h0M177.1 116.2h0M172.1 106.8h0M175.4 115.9h0M192.1 114.1h0M198.2 114.8h0M177.2 108.5h0M204.7 113.4h0M172.1 100.4h0M179.7 114.9h0M194.7 117.9h0M179.7 125.8h0M190.6 122.6h0M174.1 107.8h0M181.1 119.4h0M178.9 107.9h0M173.2 116.5h0M187.2 121.8h0M187.7 99.3h0M172.5 110.6h0M174.6 120.1h0M179.8 120.9h0M185.9 109.3h0M174.3 103.3h0M177.1 118.4h0M177.2 114.9h0M174.7 115.9h0M184.9 123h0M199.2 105.5h0M188.1 107.5h0M193.5 120.3h0M186.9 104.2h0M184.7 122.7h0M188.2 121.1h0M174.2 118.2h0M173.5 118.3h0M175.5 102.4h0M172.2 111.4h0M179.6 122.4h0M179.6 104.9h0M172.6 108.5h0M195.7 104.6h0M195.3 113.7h0M172.1 99.3h0M175 117.5h0M176.4 122h0M172.4 114.3h0M176 103.2h0M186 109.9h0M186.1 105.6h0M190.3 110.1h0M173.6 108.6h0M209.2 114.7h0M175.4 108.4h0M189.5 113.7h0M176.3 125h0M184.2 120.4h0M174.2 115.4h0M179.4 103.8h0M175.9 113h0M182.7 107.3h0M182.1 98.7h0M189.6 109.9h0M195.4 105.5h0M176 110.1h0M173.7 122.4h0M184.6 106.8h0M212.8 109.2h0M198.8 106.7h0M178.2 125.9h0M175 103.5h0M175.8 104.2h0M177.1 110.3h0M173.7 108.3h0M180.9 112h0M207.6 117.2h0M176.4 106.2h0M174.5 114.6h0M172.6 116.7h0M179.5 99.8h0M177 110.8h0M174.1 117.9h0M179 110.7h0M175.8 114.7h0M174.4 115.5h0M194.7 108.5h0M192.1 112.6h0M200.4 113.9h0M181.2 113.4h0M187.6 123.5h0M177.5 113.6h0M172.9 101.8h0M175.7 98.6h0M185.7 111h0M193.5 115.3h0M175.9 108.7h0M184.2 106.6h0M174.4 118.6h0M183.2 115h0M177.8 103.7h0M173.5 102h0M181 124.7h0M183.1 110.8h0M185.7 106.7h0M207.5 108.9h0M172.5 112.5h0M175.6 113.8h0M185.5 110.8h0M181.7 103.8h0M204.3 111.8h0M184.6 115.6h0M174.5 126.1h0M189.3 105.7h0M181.4 102.6h0M207.6 104.4h0M186.1 109.3h0M179.9 112.4h0M172.9 114.2h0M186 99.7h0M175.3 121.1h0M215.7 112.5h0M187.3 116.2h0M178.7 106.8h0M191.4 112.7h0M174.2 104.2h0M198.5 113.3h0M172.2 113.7h0M172.9 111.9h0M187.6 104.7h0M178.8 117.7h0M172.3 124.4h0M200.9 118.4h0M192.5 104.6h0M177 115.3h0M212.5 111.6h0M174.8 120.9h0M176.5 113.3h0M184.2 116.3h0M174.8 112.2h0M184.5 124.7h0M178.5 102h0M181.2 101.7h0M189.1 117.3h0M177.5 97.7h0M193.3 110.9h0M180 106.4h0M181.2 124.1h0M210.6 111.5h0M180.7 104.7h0M172.8 102.7h0M180.9 100.2h0M213.4 111.3h0M192.7 98.9h0M190 112.5h0M181.8 103.8h0M194.3 109h0M174.7 116.3h0M172.4 121.9h0M172.7 119.2h0M184.7 99h0M175.6 112.2h0M172.7 98.9h0M173.3 105.7h0M175.7 106.1h0M177.7 106h0M180.4 111.6h0M180.8 102.1h0M203.5 121.9h0M194.9 104.2h0M189.2 121.9h0M174.1 118.4h0M181 120.2h0M184.2 126.2h0M179.1 125.2h0M172.6 119.9h0M172.8 98h0M176.5 101.9h0M188.7 111.7h0M196.3 113.1h0M190.2 104.8h0M180.9 111.7h0M172.4 117h0M177.1 102h0M184.4 113.1h0M180.1 101.4h0M192.8 104.6h0M178.6 111h0M183.7 112.7h0M194.5 122.8h0M174.5 97h0M175.7 113.1h0M177.7 105.3h0M177.7 113.9h0M176.9 119.6h0M185.8 102.9h0M182.6 118.5h0M186.2 109h0M175.6 110.6h0M180.3 100.4h0M192.4 108.5h0M176.8 105.2h0M183.1 116.6h0M185.7 104.4h0M191.6 115.1h0M190.3 115.2h0M177.8 107.1h0M179.8 111.5h0M181 106.9h0M178.5 118.1h0M173.7 114.1h0M202.8 100.8h0M172.4 112h0M182.6 104.1h0M173.4 119.3h0M174.4 114h0M182.4 102h0M175.2 103.5h0M179.6 116.3h0M195.9 110.6h0M187 101.6h0M192.8 113.8h0M198.1 121.6h0M194.1 107.6h0M172.3 105.9h0M191.6 121.5h0M172.5 112.6h0M189.4 101.5h0M189.4 115.5h0M176.1 115h0M174.5 103.3h0M173.7 113.8h0M185.9 111.9h0M174.3 121.7h0M174.4 115.3h0M191.9 110.3h0M189 110.4h0M172.4 101.4h0M185.2 123.4h0M181.1 102.5h0M181.7 118.6h0M172.7 99.1h0M177.5 113h0M206.1 113.8h0M178.6 114.3h0M196.2 109.5h0M180.8 118.9h0M175.5 97.6h0M173.8 121.7h0M179.5 121.3h0M181.6 105.1h0M200.4 111.2h0M193.5 111.3h0M181.8 102.8h0M175.3 122.1h0M174.7 120.9h0M173.7 115.1h0M177 108.1h0M175.3 107.2h0M185.7 117.8h0M190.8 115.2h0M183.5 112.1h0M176.2 119.7h0M180 97.6h0M201.2 121.4h0M187.2 111.7h0M175.7 115.7h0M190.4 115.8h0M200.2 116.2h0M207.3 106.1h0M180.6 120.3h0M172.9 110.9h0M187.8 103.6h0M186 120.3h0M173.1 120.2h0M173.5 107.6h0M181.2 113.3h0M189.3 112.3h0M177.1 106.8h0M173 112.8h0M175.3 110h0M182.2 112.8h0M174.9 101.6h0M185.3 120h0M173.5 124.4h0M173.1 116.4h0M196.2 100.9h0M186.5 116h0M173.2 107.7h0M174.9 106.1h0M207.9 102.5h0M179.7 125.2h0M175.8 116.2h0M176.6 119.2h0M172.4 103.3h0M185.3 113.4h0M173.7 111.1h0M173.5 100.4h0M186.6 115.5h0M178.4 114h0M217.6 114.2h0M185.5 118.8h0M172.5 104.3h0M173.7 107.4h0M174 111.2h0M184.6 113.5h0M172.6 97.6h0M215.2 107h0M174.6 112.5h0M173 116.6h0M181.3 107.6h0M186.4 121.5h0M172.5 120.9h0M175.2 118h0M175.6 115.1h0M192 117.6h0M177.4 114.7h0M176.1 116.9h0M172.1 116.6h0M178.6 104.2h0M172.6 110.4h0M191.1 103.8h0M174.4 97.6h0M194.4 111.4h0M174.9 106.2h0M182.7 111.5h0M173.8 102.3h0M180.2 112.6h0M178.8 98.4h0M180.8 111.4h0M172.5 117.8h0M176.6 108.4h0M177.7 107.2h0M173 117.8h0M195.3 125h0M180.5 110.4h0M176.3 117.1h0M179.8 115.3h0M186 110.1h0M206.2 98.7h0M182.2 103.3h0M185.7 124.2h0M202.2 107.7h0M174.5 110.9h0M181.7 116.6h0M193.4 112.7h0M197.3 117.4h0M201.8 122.9h0M188 119.7h0M175.9 98.8h0M182.5 105.3h0M176.1 121.3h0M176.3 103.6h0M190.6 122.5h0M174.3 97.7h0M187 110.3h0M176 119.7h0M172.7 122.5h0M183.4 116h0M187 102.9h0M176.3 116.7h0M179.3 118.9h0M180.7 120.9h0M211.2 112.2h0M179.1 118.8h0M186.8 113.7h0M188.3 111h0M173.3 110.7h0M195.7 106.2h0M181 110.4h0M183.7 103.2h0M172.2 118.5h0M206.6 116.4h0M178.2 114.8h0M172.1 117h0M176.1 110h0M181.4 99.8h0M188.4 116.1h0M178.7 111.1h0M183.3 112.7h0M193.3 109.6h0M189.4 113.9h0M173.4 108.4h0M188.7 118.5h0M179.4 113.4h0M181 110.5h0M173.3 120.1h0M179.9 118.8h0M174.1 104.2h0M174 108.5h0M194.6 105.3h0M175 111.5h0M174.3 102.5h0M195.1 114.5h0M172.4 110.9h0M175.2 111h0M173.5 116.8h0M196.3 114.4h0M189.3 108.4h0M172.4 113.5h0M174.1 110.2h0M209.5 113.6h0M209.6 120.2h0M180 101.4h0M185.2 111.4h0M187.8 113h0M174.6 104.9h0M175.8 103.7h0M172.5 112.2h0M189.7 119.4h0M175.3 105.2h0M174.3 125.9h0M175.3 114h0M192.5 113.3h0M172.4 111.1h0M181.1 104.1h0M174.7 114.8h0M178.2 119.4h0M179 103.7h0M196.6 116.1h0M174 118.3h0M174 126.1h0M185.1 99.6h0M178.7 101.3h0M189.9 119.9h0M172.6 115.2h0M181.7 124.2h0M173.4 120.6h0M216.7 113.1h0M177 114.3h0M172.1 121.6h0M196 116.1h0M175.5 105.2h0M214.3 112h0M178.8 115.2h0M175.6 101.3h0M184.5 108.3h0M174.9 126.1h0M172.1 102h0M212.6 120.9h0M178.2 118.2h0M175.3 124.5h0M173.1 107.7h0M172.7 111.9h0M194.3 110.8h0M175.5 110.4h0M173.2 105.5h0M173.7 111.6h0M186.1 119.5h0M186.2 103.8h0M190.9 108.9h0M191.3 121.6h0M173.2 118.5h0M176.5 106.8h0M175.7 104.4h0M192.8 112.6h0M172 118.7h0M174.1 111.1h0M179 105.4h0M187.6 121.1h0M194.9 109.3h0M172.2 113.1h0M180.1 118.9h0M179.4 117.6h0M177.5 112.6h0M174.1 119.8h0M220 103.6h0M181.8 123.4h0M179.8 114.7h0M207.7 102.4h0M175.2 98.3h0M182.5 105.5h0M176.9 109.2h0M200.1 103.7h0M177 114.9h0M177.9 106.4h0M175.4 112.5h0M175.4 110.4h0M179.3 110.7h0M176.1 119h0M182.2 122.6h0M175.4 125.9h0M179.1 107.4h0M172.2 104.5h0M177 104.4h0M173.1 124.6h0M211.1 116.5h0M185.9 108.6h0M177.3 96.9h0M181 112.2h0M191.7 106.9h0M176.8 110.3h0M180.3 113.6h0M174.3 113.5h0M176.8 122.6h0M183.1 113.1h0M172 124.1h0M177.6 108.2h0M175.5 113h0M176.4 106.7h0M182.2 97h0M174.3 103.3h0M172.2 118.4h0M173.9 118.7h0M180.2 115.3h0M187.5 124.2h0M172.1 112.3h0M179.5 116.6h0M172.5 117.8h0M172.8 115.7h0M180.5 117.9h0M172.6 104.9h0M186.1 114.1h0M175.9 118.1h0M172.9 106.2h0M180 115.2h0M173.6 114.8h0M173.1 109.9h0M185.6 111.1h0M172.6 115h0M173.6 106.7h0M177.1 118.3h0M175.9 118.3h0M172.2 113.3h0M180.1 110.9h0M178 109.6h0M182.4 107.6h0M174.4 117h0M177.9 105h0M184.8 125.1h0M174.6 126.1h0M177.2 114.5h0M194.1 113.1h0M176.5 107.8h0M178.4 123.5h0M198.3 115.9h0M193.5 103.7h0M186.6 125.8h0M178.5 112.1h0M173.6 99.1h0M207.2 99.9h0M180.5 98.7h0M178.7 107h0M193.4 109.6h0M184.7 125.6h0M191.6 101.7h0M176.7 114.1h0M176.4 107.6h0M184.9 116.2h0M179.8 115.4h0M172.1 110h0M174 111.5h0M173.7 114h0M190.8 110.9h0M177.1 115.4h0M178.5 123.1h0M174.7 104.1h0M210.1 114.6h0M181 97h0M172.6 117.1h0M172.3 99.4h0M172.7 118.8h0M173.5 107.2h0M185.3 99.5h0M174.4 114h0M190.4 112.2h0M183.9 113.2h0M176.3 106.3h0M191.9 104.4h0M177.4 104.8h0M174.9 107.6h0M172.5 105.1h0M172.5 117.3h0M172.7 108.2h0M174.3 102.3h0M172.8 101.1h0M172.2 97.3h0M183.4 122.8h0M184.5 123.4h0M176.2 111.4h0M176.2 112.1h0M197.7 108.5h0M182 100.1h0M174.2 117.3h0M179.7 97.7h0M185.2 105.7h0M172.6 105.4h0M179.4 113.4h0M177 104.9h0M178.7 110.7h0M172.8 115.8h0M180.2 123.7h0M173.5 114.5h0M176.3 122.4h0M189.6 112.9h0M189 104.5h0M193.7 116.8h0M181.3 101.6h0M184.2 113.1h0M198 105.1h0M221.2 109.8h0M174 119.6h0M183.3 111.1h0M175.6 125.6h0M174.8 110h0M179.6 108.2h0M172.4 104.5h0M178 114.8h0M194.5 125.3h0M173 104.4h0M187.3 112.3h0M176.4 104.3h0M174.5 101.7h0M212.2 119.9h0M184.8 119h0M179.8 103.5h0M175.5 100.9h0M174.5 122.6h0M177.2 104.3h0M178.3 100.5h0M176.1 113.6h0M197.3 102.6h0M202.6 118.2h0M183.3 101.2h0M178.4 116.1h0M187.8 116.1h0M172.3 105.6h0M173.9 105.9h0M182.8 109.2h0M176.1 106.7h0M189.8 120.8h0M183.7 110.7h0M174.3 119.4h0M174.7 115.1h0M176.2 114.4h0M184.3 100h0M180.6 99.7h0M185.9 103.9h0M172.5 118.6h0M187.8 125h0M186.3 111.8h0M189.4 112.7h0M173.7 101.8h0M198 109.2h0M178.1 105.4h0M180 108.9h0M176.8 100.4h0M190.7 109.1h0M177.4 113.2h0M183.7 112.5h0M177.2 119.5h0M172.8 110.7h0M186.2 114.5h0M183.9 120.2h0M186.8 113.5h0M175.3 102.7h0M175.1 106.4h0M194.8 101.8h0M176 118.1h0M174.6 99.6h0M177.3 111.1h0M177 98.3h0M205.2 106.8h0M213.7 114.3h0M173.9 107.1h0M180.3 99.2h0M184.2 119.4h0M173.5 115.2h0M173.9 107.7h0M182.1 102.9h0M178.1 106.2h0M172.9 111.3h0M192 104.6h0M188.6 103.2h0M184.4 102.7h0M173.8 111.8h0M172.3 113h0M184.8 114.6h0M212.3 116.5h0M173.9 116.9h0M176.4 110.8h0M173.4 100.6h0M175.4 111.3h0M178.2 117.2h0M210.4 118.9h0M193.9 112.4h0M176.1 116.8h0M184.7 112.7h0M175.7 106h0M173.7 118.9h0M172.4 119.2h0M179.7 121.2h0M176.1 118.8h0M190.1 116.4h0M197.7 113.2h0M179.2 114.1h0M173.4 122.8h0M173.9 118.5h0M184.2 103.4h0M172.5 116.7h0M180.4 111.5h0M194.5 120.1h0M177.3 102.8h0M175.1 100.2h0M172.1 105.7h0M177.5 116.8h0M172.8 110.8h0M172.1 102.7h0M183.2 113.3h0M198.1 106.4h0M174.8 113h0M173.8 123h0M181.7 105.8h0M193 115.2h0M176.4 120h0M179.2 116.5h0M173.2 116.2h0M188.1 100.4h0M194.1 115.8h0M172.8 113.3h0M177.1 118.3h0M178.3 104.9h0M172.9 115.9h0M193.4 106.4h0M174.1 119.4h0M205.3 104h0M178.7 113.3h0M185.3 117.2h0M176 111.6h0M172.5 118.6h0M183.7 115.4h0M182.9 106.5h0M172.3 115.2h0M172.5 106.9h0M174 102.2h0M172.1 118.9h0M178.2 109.2h0M202.6 112.9h0M177.1 110.1h0M172.4 116.5h0M172.6 113.8h0M181.4 99.3h0M172.9 119.1h0M188.5 116.3h0M174.6 119.4h0M174.3 119.4h0M187.8 124.5h0M172 110h0M203.4 109.2h0M207.1 109.6h0M172.8 116.2h0M181.2 121.9h0M174.2 101.7h0M175.9 122.5h0M178.8 101.9h0M183.2 102.6h0M174.7 103.5h0M192.4 101.3h0M184.2 107.4h0M180.2 121.2h0M180 116.7h0M176.7 118.2h0M197.6 110.5h0M198.3 118.2h0M177.1 113.4h0M173.8 112.9h0M173.7 102.8h0M172 114.7h0M182.5 103.1h0M175.2 117.3h0M184.3 107.4h0M189.1 99h0M173.5 123.4h0M186.5 105.5h0M174.2 117.9h0M175.5 122.6h0M175.1 110.2h0M188.2 119.5h0M185.6 125.6h0M181.4 105.6h0M180.4 107.2h0M175.7 102.8h0M175.7 105.4h0M183.3 117.8h0M182.8 119.7h0M174.7 107.3h0M193.1 116.7h0M174.2 108.1h0M175.6 124.2h0M174.1 112.8h0M191.5 110.9h0M174.7 106.8h0M176.9 115.6h0M173.1 120.1h0M175.9 110.4h0M174.2 97.1h0M177.4 106.2h0M186.6 114.7h0M192.4 108.9h0M172.5 105.3h0M192.6 117.3h0M173.3 119.9h0M180.1 106.3h0M186.6 109h0M173.1 113h0M173.4 124.3h0M172.5 103.9h0M179.1 107.5h0M188.1 100.9h0M177.3 105.5h0M172.1 101.2h0M182.7 105.2h0M199 116.1h0M191.8 103.2h0M190.6 110.5h0M177.3 105.4h0M180.9 108.9h0M173 120.5h0M192.6 111.3h0M177.9 107.2h0M188 118.8h0M174 98.3h0M172.5 107.2h0M178.6 104.5h0M174.9 102.2h0M179.9 112.8h0M192.2 102h0M185.3 99h0M217.4 116.9h0M173.3 111.5h0M174.9 104.9h0M179.7 109.2h0M180.5 115.9h0M184.6 110.6h0M172 98.6h0M175.4 124.8h0M183.6 105.8h0M200.9 122.6h0M178.7 124.3h0M190.3 126h0M177.8 108.6h0M179.8 116.2h0M181.8 121.5h0M193.1 110.3h0M181.1 108.6h0M194.3 110.8h0M178.8 121.4h0M185.4 103h0M180.3 111.3h0M181.5 103.5h0M179.2 115.8h0M176 123.3h0M182.1 98.5h0M172.1 114.5h0M189.5 122.3h0M200.4 117.2h0M177.1 112.5h0M175.7 110.1h0M176.3 98.6h0M180.5 112.5h0M197.3 104.2h0M179.9 113.4h0M180.7 101.7h0M178.3 116.2h0M201.7 114.5h0M174.9 110.2h0M172.2 110.4h0M185.3 110.6h0M181 107.8h0M176.8 107.6h0M181.9 97.9h0M172.5 104.1h0M203.5 108.8h0M182.4 122.5h0M175.5 121.2h0M182.2 122.6h0M177.7 118.2h0M180.2 108.5h0M205.8 115.2h0M172.9 116.2h0M173.1 109.5h0M179.3 107.5h0M177.7 118.6h0M182.9 119.7h0M182.6 98.5h0M174.3 112.6h0M197 103h0M187 115.6h0M172.5 118.3h0M175.7 114.2h0M200.8 97.9h0M178.6 113.7h0M172.6 109.9h0M183.1 120.5h0M183.6 104.8h0M172.2 123.6h0M174.3 111.1h0M178.3 97.4h0M174.8 120.6h0M179.3 115.6h0M189.5 106h0M181.1 96.9h0M174.3 116.9h0M182.7 117h0M190.9 101.1h0M174.9 120.1h0M173.7 107.3h0M193.8 99.1h0M196.2 109.7h0M176.9 111.8h0M196.4 117.8h0M206.7 115.2h0M184.2 115.2h0M194.7 110.4h0M172.2 115.1h0M187.6 113.7h0M207.1 110.4h0M172.6 119.5h0M185.3 112.5h0M215.6 118.7h0M208.9 111.2h0M176.1 109.1h0M193.1 113.4h0M173.6 114.4h0M174 120.8h0M178.5 105h0M174.9 109.5h0M175.9 114.2h0M172.3 106.6h0M172.4 106.7h0M175.5 107.5h0M194.4 108.1h0M177.2 96.8h0M175.5 125.1h0M201.8 107.1h0M177.2 121.8h0M175.6 104.9h0M177 99.8h0M177.7 113.8h0M189.4 97.9h0M173.8 110.4h0M172.4 121.7h0M179.3 123.1h0M182.8 125.6h0M188.2 102.5h0M189.3 113h0M216.1 115h0M172.8 102.3h0M188.8 117.3h0M185.3 108.9h0M178.9 125.4h0M182 113.6h0M181.6 117.8h0M178.9 107.6h0M178.8 108.8h0M182.7 115.7h0M172.2 113.3h0M191.3 122.1h0M177.9 118.2h0M173 106.4h0M177.4 121h0M174.9 111.2h0M198.4 114.3h0M186.9 105.6h0M177.1 118.6h0M185.4 99.5h0M173.5 116h0M183.7 106.1h0M179.3 107.8h0M180.5 106.6h0M178.4 106.5h0M183.8 119.2h0M175.3 102.5h0M178.1 101.9h0M209.7 110.2h0M177.5 119.6h0M172.6 99.9h0M176.9 115.8h0M192.8 103h0M172.9 97.3h0M190 125.7h0M187.8 98.1h0M181.1 117.7h0M175 108.3h0M193.2 108.2h0M175.4 116.6h0M177.9 107h0M172.5 124.5h0M181.3 114.7h0M176.9 117.7h0M196.4 113.3h0M175.7 122.6h0M177.1 113.9h0M181.7 111.7h0M184.6 113h0M196.1 110.4h0M178 113.8h0M178.1 115h0M176.7 104.4h0M172.9 108.4h0M172.1 112.8h0M187.7 113.2h0M188.5 109.9h0M176.4 105.4h0M196.5 112.8h0M193.9 98.1h0M178.1 123.4h0M172.3 122h0M182.3 108.8h0M173.5 124.4h0M186.7 102h0M180.2 123.9h0M185.9 114.9h0M172.1 110h0M202.9 115h0M173.4 117.5h0M191.1 105.1h0M183.7 99.1h0M172.6 104.5h0M181.2 109.6h0M173.1 104h0M191.5 105.5h0M180.1 114.4h0M185.5 121.7h0M172.7 109.9h0M178.3 115.7h0M184.1 107.5h0M182 98.5h0M177.5 109.3h0M199.6 101.8h0M181 100h0M174.3 116.1h0M172.6 100.1h0M198.1 99.6h0M172.7 106.4h0M177.9 111.4h0M178.6 104.9h0M177.4 105.2h0M180.7 102.8h0M177.9 109.8h0M172.5 109h0M173.9 104.4h0M172.6 120.8h0M186.2 112.4h0M201.2 110.4h0M184.4 120.2h0M174.9 106.2h0M178.1 107.6h0M175.6 103h0M179.7 113.9h0M185.4 121h0M173 112.3h0M181.1 107h0M213.1 102.6h0M185.3 116.4h0M180.2 116.6h0M190.4 123.4h0M185.6 119.6h0M173.8 125.7h0M174.2 117.6h0M178.3 108h0M177.4 116.7h0M189.3 100h0M172.3 100.2h0M181.9 109h0M172.4 101.6h0M181.7 109.1h0M177 117.7h0M180.3 113.5h0M187.8 110.4h0M186.4 99.5h0M182.2 115.6h0M177.4 108.3h0M207.3 107.5h0M173.7 121.5h0M181.3 115.4h0M191.7 102.8h0M172.1 109.2h0M180.1 124.1h0M180.5 108.3h0M174.1 103.1h0M174.9 102.5h0M188.1 117.2h0M173.2 117h0M184 107.2h0M201.7 119.1h0M187.7 116.8h0M216 101.9h0M187.2 118.9h0M186.7 117.6h0M178 104.6h0M188.9 114.4h0M173 117.4h0M211.3 115.6h0M189.6 118.1h0M195 117.4h0M177.4 101.8h0M173.4 115.8h0M186.4 109.1h0M178 120.8h0M181.4 116.3h0M174 109.4h0M175.4 101.2h0M192 119.5h0M192.4 114.6h0M175.6 121.1h0M172.6 120.8h0M192.6 109.4h0M174.1 100.6h0M189.4 125.9h0M199.7 123.6h0M204.9 120.1h0M173.6 118.6h0M176.1 125.1h0M195.5 105.3h0M186.4 113.6h0M184.2 106.2h0M175.7 119.5h0M183.9 104.6h0M182.6 116.1h0M196.8 111h0M178.5 107.1h0M175.8 116.6h0M184.8 104.3h0M173 103.8h0M173.6 109.6h0M205.5 109.4h0M172.3 108.7h0M178.9 116h0M175.4 110.9h0M179.6 115.4h0M182.2 105.9h0M179.5 123.5h0M184 114.5h0M198.2 113.4h0M175.2 110h0M197.2 105.1h0M191.2 124.8h0M180.6 124.7h0M175.7 112h0M197.5 106.6h0M198.5 122.7h0M173 111.9h0M181.3 107.1h0M194.1 113.6h0M178.3 114.7h0M188.1 112.3h0M177.1 101.6h0M177.9 100h0M184.8 113.1h0M184.8 104h0M198.6 101h0M191.3 117.3h0M183.3 121.4h0M178.9 103.5h0M189.6 117.9h0M176.1 107.6h0M179.7 107h0M174.1 116.4h0M177.8 104h0M178.8 105.9h0M172.6 113.1h0M183.3 117.8h0M173.7 110.7h0M173.5 112.3h0M179.7 120.8h0M199.4 117.2h0M173.7 119.6h0M186.8 104.8h0M172.2 105.6h0M183.6 103h0M203.2 106.4h0M203.3 109.7h0M175.7 124.1h0M178.4 120.6h0M173.7 117.9h0M196.5 103.5h0M172 112.8h0M174.8 119.3h0M173.1 109h0M175.3 112.2h0M210.3 116.4h0M177 120.3h0M176.1 108.4h0M175.8 112.5h0M188.3 114.7h0M204.6 99.4h0M189.2 103h0M173.1 112.4h0M173.4 111h0M174.8 111.9h0M186 108.1h0M176.7 121.9h0M178.4 123.6h0M174 116.1h0M175.7 114.2h0M175.7 109.8h0M182.9 113.3h0M179.5 116.1h0M178.7 104.7h0M180.3 112.8h0M178.2 113.4h0M179.6 112.9h0M177.5 105.1h0M185.3 111.2h0M179.1 105.6h0M173.8 102.9h0M223.4 109.9h0M183.1 101.1h0M173.7 112.8h0M172.6 102.9h0M198.9 110.1h0M172 99.4h0M172.4 114.1h0M187.3 99.7h0M201.7 111.9h0M174.5 107.6h0M174.7 108.6h0M172.9 115.3h0M191.3 116.3h0M186.4 105.8h0M190.4 110h0M173.5 118.2h0M179.8 111.4h0M174.1 109.7h0M196.9 103.7h0M173.4 98.8h0M179.2 113.3h0M188.8 103.9h0M175.9 116.4h0M174 121.4h0M176.6 114.3h0M174.2 100.9h0M197.4 117.4h0M180.6 113.8h0M173.6 105.2h0M177.1 106.9h0M174.4 104h0M176.5 97h0M186.2 115.6h0M173.7 104.8h0M174.2 123.8h0M176.2 111.3h0M187.5 115.1h0M174.3 119.2h0M180.9 124.9h0M182.7 114.4h0M178.7 101.1h0M173 122.3h0M186 101.5h0M192.3 107.2h0M175 108.8h0M180.5 125.9h0M178.1 101.2h0M182 103.3h0M215.4 119.3h0M184.6 101.9h0M176.4 98.7h0M181.3 110.2h0M181.5 105.1h0M190.9 107.7h0M174.5 106.1h0M172.5 108.7h0M174.8 116.1h0M177.1 103.8h0M182.3 108h0M173.6 103.2h0M175 109.5h0M188.4 103.2h0M180.3 116.7h0M186.4 117.6h0M196.3 113.9h0M180.8 113.9h0M179.3 103.8h0M193.9 111.5h0M172.4 105.4h0M188.1 115.4h0M174.8 106.6h0M176.9 114.7h0M173.4 116.6h0M177.9 119.6h0M173.6 104.8h0M179.4 114.2h0M203.2 112.6h0M192.6 98.8h0M178.4 99.2h0M174.3 98.3h0M186.8 110.4h0M184.1 115.3h0M220.3 103h0M172.5 104h0M175.7 122.2h0M196 114.8h0M187.8 104.3h0M190.6 100.4h0M182 114.7h0M175.5 124h0M191.2 103.7h0M180.4 116.7h0M185 103.9h0M172.1 100.9h0M192.2 110.3h0M191.8 114.4h0M185.8 115.6h0M193.4 100.7h0M185.3 118.8h0M184.8 123.2h0M181 107.9h0M181.3 107.4h0M182.6 119.4h0M190.2 107.1h0M183.7 109.3h0M172.6 124.4h0M173.3 114h0M172 116.3h0M187.9 103.4h0M175.4 109.8h0M201.8 123.8h0M177.7 108.8h0M191 113.2h0M174.3 121h0M172 119.9h0M173.9 101.3h0M172.4 111.7h0M174.5 104.9h0M173.4 114.3h0M182.9 110h0M173.5 98h0M185.2 119.6h0M174.5 99.8h0M178 101.1h0M172.5 105.6h0M192 118.3h0M181.9 113.3h0M181.9 119.1h0M172 113.8h0M180.9 110.9h0M201.1 110.4h0M177.8 113.2h0M184.2 125h0M187.7 114.2h0M176.1 108.5h0M193 109.4h0M209.6 109.6h0M180.2 100.5h0M185.9 101.2h0M203.5 115.6h0M186.8 110.6h0M186.9 117.7h0M176.7 120.8h0M179.1 113.5h0M176 98.2h0M172.5 124.9h0M175.9 109.1h0M177.6 112.2h0M172.1 106.8h0M172.8 122h0M189.5 109.3h0M173.7 118.4h0M180.8 112.7h0M178.2 114.6h0M181.1 117.1h0M187.8 106.3h0M187.2 115.7h0M181.4 107.2h0M183.9 111.8h0M177.4 105.5h0M210.3 106.7h0M188.6 113.8h0M181 105.5h0M219.7 103.9h0M193.5 107.9h0M175.7 105h0M181.9 108.5h0M177 119.4h0M194.2 100.5h0M175.7 111.5h0M176.2 104h0M184.8 104.8h0M172.1 110.3h0M187.2 98.8h0M180.8 116h0M180.3 111.5h0M174.2 109.8h0M182.9 103.4h0M178.7 118.3h0M177 111.7h0M190.2 122.4h0M186 124.7h0M176.8 106.9h0M183.1 121.3h0M197.4 105.1h0M205.5 98.9h0M173 121h0M174.1 108.2h0M187.1 126.1h0M173.2 98.4h0M176.7 117.7h0M172.1 101.1h0M197.8 106.9h0M193.8 118.2h0M211.5 115.4h0M196.5 123.8h0M172.3 111h0M191 104.4h0M207.8 100.1h0M199.8 107.3h0M191.9 117.1h0M173.2 122h0M186.8 110.3h0M181.7 99.8h0M172.9 118h0M193.7 114.1h0M181.6 113.5h0M184.6 99.6h0M174.9 120.6h0M174.5 98.8h0M175.7 117.9h0M174.4 104.4h0M184.3 119.4h0M195.8 109.4h0M175.8 112.6h0M174.8 107.5h0M210.1 119.1h0M175.3 106.5h0M184.9 105.9h0M175.7 103.6h0M187.8 107.3h0M193.9 124.8h0M193.7 119.4h0M198.8 100h0M199.2 107.6h0M175.4 118.8h0M177.3 99.9h0M185.6 108.9h0M185.2 113.9h0M176.5 111.5h0M172.4 108.9h0M173.7 117.8h0M173 122.9h0M186.5 97.3h0M174.6 120.8h0M174.9 124h0M177.7 109.7h0M192.4 98.2h0M178.1 107.3h0M172.8 110.2h0M176.9 115h0M180.4 107.2h0M172.3 119.9h0M195.1 106h0M195.5 120.2h0M179 117.9h0M172.9 107.3h0M175.3 106.2h0M175.4 107.8h0M177 104.9h0M184.2 118.5h0M175.1 102.2h0M180.6 102h0M177.8 108.3h0M172.6 116.3h0M172.8 122.5h0" stroke="#555555" stroke-width="1.2" stroke-linecap="round" fill="none"/>
<path d="M122.9 85.5h0M147 96h0M145.8 88.7h0M124.4 82.7h0M117.9 80h0M120.3 81.3h0M122.3 81.1h0M126.6 79.5h0M154.3 91.5h0M123.2 85.4h0M132.8 91.8h0M143.3 89.8h0M153.1 85.8h0M117.1 78.4h0M152.9 95.2h0M142 78.1h0M107.6 66.3h0M118.9 79.2h0M133.2 91h0M150 96h0M108.7 64.9h0M122.1 82.5h0M121 77.9h0M122 83.9h0M126.2 86.6h0M151.2 94.2h0M118.3 73.5h0M129.9 76.7h0M116.6 72.8h0M123.5 76.2h0M116.4 78.7h0M128 89.7h0M124.9 65.8h0M114.2 68.8h0M142.6 80h0M170.1 90.9h0M140.5 93.6h0M150.2 89h0M134.2 83.7h0M157.4 88.8h0M133.1 84.8h0M120.3 83.2h0M114 61.9h0M109.1 65.6h0M107.5 58.2h0M127.6 65.9h0M156 94.6h0M128.8 89.9h0M130.2 89.1h0M142.2 92.6h0M125.9 78.3h0M140.8 94.4h0M150.6 82.9h0M106 58.2h0M109.3 62h0M160.8 94.5h0M141.7 90.2h0M140 94.3h0M140 94.7h0M115.8 75.4h0M138.3 86.2h0M121.8 83.7h0M110.9 71.2h0M147.8 95.2h0M130.6 69.8h0M114.1 73.2h0M124.5 74.2h0M146.2 95.6h0M145.6 88.6h0M138.7 93.9h0M136.3 83.6h0M115.4 77.6h0M125.6 88.5h0M110.1 50.8h0M137.1 89.3h0M139 88.8h0M137.9 74.3h0M150 95.3h0M118.3 78.1h0M122.9 73.1h0M108.2 67.7h0M116.6 72.6h0M130.4 87.3h0M127.1 89h0M122.7 84.8h0M107.8 46.7h0M107.2 54.2h0M121.5 78.3h0M135 91.6h0M136.8 91h0M142.6 91.8h0M140 94.7h0M135.6 78.2h0M164.9 95.7h0M152.9 92.1h0M122.7 85.4h0M107.2 64.3h0M110.6 70.3h0M118 69.6h0M113.5 71h0M129.5 86.3h0M130 80.3h0M120.6 83.5h0M132.8 88.8h0M155.6 86.8h0M110.5 66.2h0M114.3 57.3h0M129.4 82.1h0M147.2 95.4h0M154.4 94.1h0M144.3 90.1h0M108.2 67.6h0M137.3 78.6h0M112.1 72.9h0M114.3 76.1h0M121.9 75.7h0M155.4 94.9h0M162.8 92.1h0M107.8 61.7h0M124.6 73.2h0M143.9 91.4h0M148.2 95.2h0M172.4 96.6h0M152.6 96h0M128.1 87h0M110.1 50.6h0M114.9 77.1h0M121.8 71.9h0M105.2 50h0M106.3 61.4h0M154.4 95.6h0M140.2 94.5h0M143.6 95.7h0M118.3 77h0M132.6 88.7h0M119.4 66.3h0M123.6 80.5h0M127 80.1h0M135.9 83h0M169.9 96.5h0M149.7 94.3h0M122 83.4h0M108.6 66.4h0M119.5 79.2h0M120.3 70.9h0M127.6 74h0M119 77.6h0M123 85.7h0M108.9 58.3h0M159.1 95h0M128.5 83h0M111 71.4h0M118.4 80.6h0M152.9 86.7h0M122.7 84.4h0M139.9 77.6h0M111 61.4h0M138.7 86.2h0M131.7 88.3h0M121 62.2h0M141.9 88h0M136.1 80.9h0M162.3 92.3h0M116.3 68h0M109 61.8h0M126.4 80.3h0M129.8 90.1h0M135.1 91.7h0M181.7 96.5h0M125.8 64.8h0M122 60.8h0M155.8 96.4h0M154.2 96.5h0M113.8 65.9h0M117.4 76.3h0M117.3 80.1h0M145 93.6h0M122.7 83.8h0M113 73.1h0M117.7 80.4h0M118.1 74.8h0M132 73.6h0M129.9 79.9h0M131.5 76.2h0M107.8 59h0M142.2 82h0M175 96.1h0M113.5 72h0M156.9 96.5h0M179.8 95.3h0M154.8 85.9h0M153.9 84.8h0M177.2 95.5h0M119.4 71.6h0M117.1 61.6h0M148 94.4h0M141.1 85.8h0M115.9 64h0M170.4 92.2h0M123.6 85.7h0M126.1 71.3h0M126.6 79.7h0M129.4 90.3h0M146.6 95h0M178.7 96h0M136.5 87.3h0M127.4 88.2h0M159.3 89.1h0M111.7 63.4h0M118.5 78h0M119.8 82.1h0M129.9 88.5h0M154.9 87.4h0M118.6 70.7h0M109 57.4h0M113.3 74.6h0M134.4 71.9h0M111.1 71.8h0M131.5 91.4h0M116.1 69.8h0M107.1 48.4h0M136 93.5h0M107.4 65.1h0M118.4 66.9h0M147.2 90.7h0M127.5 75.7h0M115.5 59.6h0M147.5 95h0M163.6 90.8h0M127.3 65.6h0M167 96.7h0M138.1 89.2h0M121.2 80h0M141.2 94.7h0M156.7 91.3h0M128.3 89.6h0M124.6 87.4h0M116.7 68.7h0M129.5 90.5h0M128.8 89.6h0M125.9 77.2h0M138.8 93.8h0M132.4 89.7h0M135.1 92.5h0M106.6 63h0M159.2 87h0M117.7 74.9h0M131.6 91.3h0M163.9 89h0M113.8 71.2h0M122.4 77h0M136.4 87.6h0M125 65.4h0M105.3 48.2h0M118 78.5h0M160.4 95.7h0M124.6 82h0M126.5 88.3h0M153.8 87.7h0M114 68.8h0M125 85.6h0M115.1 66.8h0M143.9 90.8h0M123.2 82.6h0M131.7 87.6h0M112.7 61h0M124.3 67.5h0M119 75.4h0M133.3 73.3h0M106.9 52.4h0M118.2 67.5h0M115.2 62.3h0M134.6 89.9h0M127.5 87.7h0M164.2 94.5h0M159 94.4h0M116.4 77.3h0M123.5 81.9h0M140.8 79.2h0M112.1 71.3h0M169.5 96.7h0M144.1 91.6h0M130.2 84.8h0M133.5 79h0M134.9 92.8h0M113.3 73.5h0M181.9 96.6h0M111.4 72.1h0M131.5 72.1h0M136.7 93.5h0M149.5 96.2h0M116.1 75.5h0M137.4 93.7h0M121.9 64h0M148.5 92.8h0M145.3 94.2h0M114.4 59.6h0M147.4 89h0M142.6 94.6h0M109.2 68.8h0M109 51.8h0M151.7 94.9h0M132.4 79.5h0M119.3 76.8h0M151.9 96.3h0M149.3 95.9h0M135.4 93.1h0M119.2 82h0M145.3 81.7h0M133.4 84.4h0M138.7 94h0M132 85.5h0M117 75.4h0M142 83.1h0M120.4 83.3h0M146.6 96h0M145.8 83.3h0M116.5 65.5h0M142.1 95h0M118.7 59.3h0M128.3 86h0M149.7 95.7h0M168.6 96.7h0M121.1 80.5h0M112.2 64.6h0M133 91.8h0M124.9 86.9h0M140.8 91.7h0M108.7 63.8h0M132.4 91.7h0M125.1 85.1h0M139 93h0M134 87.4h0M128.1 78.4h0M124.1 86.3h0M116.1 71.6h0M165.2 95.7h0M145.3 84.1h0M123.4 85.5h0M153.3 94.2h0M115.3 77.1h0M116.5 77.5h0M120.5 80.8h0M125.4 83h0M118.7 77.3h0M138.1 93.8h0M115.6 77.9h0M177.9 96.8h0M136 78.1h0M130.1 90.7h0M106.8 46.6h0M181.2 96.9h0M163.3 91.8h0M139.7 81.6h0M156.4 96.1h0M129.7 89.1h0M119.6 81.5h0M134.4 78h0M131.8 91.7h0M134.9 93.2h0M156.8 96.5h0M124.8 87.5h0M118.2 73.6h0M117.6 80.4h0M120.2 70.5h0M112.3 73.2h0M127.8 88.5h0M120.7 83.4h0M113.7 62.8h0M165.3 95.9h0M116.1 69.2h0M115.1 69.7h0M146.3 90.8h0M127 85.4h0M165.1 96.6h0M116.7 72.4h0M116.1 73.5h0M139.9 81.4h0M145.9 86.9h0M113.7 74.6h0M121.4 84.3h0M117.1 71.9h0M114.8 67h0M115.2 76.5h0M112 63.8h0M110.5 61.7h0M125.4 82.4h0M110.1 63.1h0M136.9 92.7h0M146.9 96h0M126.7 87.8h0M147.3 94.9h0M136.7 79.9h0M129.1 80.1h0M111.6 69h0M138.9 94.4h0M116.8 74.6h0M152.2 95.4h0M152.2 95.5h0M138.3 89.4h0M132.4 91.8h0M126.6 72.6h0M130.7 86.6h0M111.8 66.9h0M109.6 69.5h0M112 72.4h0M176 96.8h0M158.6 96.6h0M115.8 75.3h0M135.8 92.9h0M118.7 80.5h0M122.4 81.4h0M122.7 84.9h0M118.6 79.7h0M152.1 96.4h0M113.4 64h0M145.6 94h0M114.9 55.8h0M115 75.1h0M142.8 88.3h0M127.8 85h0M153.9 87.6h0M154.8 96.4h0M149.8 95.2h0M129.7 71.4h0M109.2 68.8h0M146.1 94.1h0M166.9 96.6h0M142.4 93.9h0M119.4 81.3h0M129.2 76.5h0M116.6 79.3h0M119.5 73h0M116.2 69.2h0M130.5 75.1h0M118.5 75.2h0M157.9 89.8h0M158 92.7h0M145.3 127.9h0M140.4 135.6h0M122.2 134.2h0M127.9 151.8h0M137 137.4h0M164.4 126h0M113.9 152.4h0M109.5 147h0M145.8 129.4h0M129 133.7h0M141.2 128.2h0M126.2 139.5h0M124.2 149.4h0M139.7 127.5h0M129.8 153.1h0M122.7 133.8h0M134.4 129.8h0M120.6 135.6h0M128.3 149.4h0M141.5 128h0M120.2 136.1h0M159.6 130.5h0M120.2 158.2h0M150.9 131.9h0M114.1 147.3h0M108.5 156.6h0M123.6 138.6h0M124 154.9h0M117.9 146.3h0M123.3 155.9h0M141.3 140h0M113.5 144.2h0M137.1 128.9h0M111.2 144.8h0M138.6 127.4h0M108.4 154.4h0M138.6 135.5h0M116.5 138.9h0M132.5 135.7h0M129.9 142.5h0M122.9 154.8h0M173.6 126h0M112.2 162.9h0M149 127h0M131.7 129.4h0M137.9 142.3h0M122.2 134.5h0M129.2 130.1h0M133.5 128.6h0M130.1 139.8h0M153.8 128.8h0M137.1 130.2h0M136.1 147.8h0M131.8 138.5h0M159.3 131.3h0M116.7 139.2h0M163.7 129.5h0M140.5 136.6h0M138.7 130.1h0M126.8 145.3h0M119.2 150.3h0M154.7 128.2h0M133.9 133.5h0M132 128.9h0M159.2 128.8h0M119.2 136.6h0M128.8 131h0M160.9 126.1h0M117.1 142.7h0M119.1 158.2h0M115.4 166.2h0M146 133.2h0M105.4 182.2h0M133.7 135h0M119.3 158h0M174.6 126.4h0M146.5 128.9h0M113.9 148.6h0M171.7 126h0M108.3 173.1h0M131.9 133.9h0M174.5 125.8h0M124.9 141.4h0M124.7 140.2h0M113.2 154.5h0M135.7 130.2h0M153.1 129.6h0M148.5 126.7h0M109.3 160h0M138.4 134.5h0M124 134.4h0M115.4 159.6h0M123.3 135.9h0M152.7 126.4h0M127.1 130.8h0M151.2 137.2h0M124.7 151.1h0M113.3 162.1h0M155.4 136.1h0M118.3 146.9h0M145.3 132.9h0M137.1 143.3h0M143.2 127h0M120.3 152.4h0M113.9 163.4h0M124.3 148.6h0M114.3 143.9h0M141.8 127.6h0M141.3 128h0M148.2 134h0M161.1 127.1h0M135.4 127.7h0M111.2 148.7h0M110.8 155.5h0M126.7 131h0M172.3 125.9h0M110.6 173.8h0M151.2 127.8h0M124.9 148.7h0M150.2 126.8h0M137.7 140.8h0M131.3 130.7h0M166.4 126.8h0M119.8 142.1h0M121 138.7h0M115 146.9h0M141.7 139.5h0M162.2 126.1h0M123.4 163.3h0M117.1 146.7h0M164.6 131h0M111.5 150.7h0M125.1 143.4h0M124.4 132.8h0M175.6 126.7h0M132.5 128.8h0M141.5 129.8h0M131.6 130.6h0M141.7 127.2h0M123.5 135h0M112 171.6h0M134 151.6h0M151 135.4h0M117.7 148.8h0M118.9 160.6h0M125.5 147.2h0M139.9 146.8h0M116.7 139.8h0M115.9 139.8h0M123.5 145.9h0M130.8 142.1h0M125 133.8h0M117 145h0M110.1 155.8h0M134 128.7h0M163.8 126h0M115 140.5h0M116.3 141.6h0M129.9 133.4h0M112.2 148.6h0M121.1 165.3h0M139 133.3h0M129.9 130.2h0M141.9 132h0M124.3 132.8h0M137.4 140.3h0M126.4 142.2h0M140.6 128.2h0M136.5 127.7h0M110.5 153.4h0M143.9 127.3h0M144.7 135.1h0M118.8 137.7h0M151 138.5h0M122.2 147.3h0M167.9 128h0M147.2 129.7h0M119.1 141.7h0M149.1 135.8h0M147.9 128.4h0M147.4 126.9h0M131.4 129.3h0M110.7 145.7h0M137.1 141.5h0M151.1 140.6h0M149.1 136.7h0M124.2 133.2h0M116.1 156.5h0M134.3 137.3h0M161.3 128.1h0M135.8 144.7h0M174.7 126h0M125.4 144.7h0M107.2 152.4h0M166.5 130.5h0M119.1 140.6h0M177.4 125.7h0M147.1 130.4h0M129.8 129.8h0M152.7 128.9h0M121.7 136.3h0M155.8 137.1h0M146.3 127.2h0M149.9 132h0M151.5 126.7h0M115.7 166.7h0M134 136.8h0M121.4 134.9h0M113.7 143.8h0M115.3 141.4h0M130.4 136.4h0M115.1 140.4h0M125.8 131.6h0M105 165.6h0M159.1 135.4h0M117.2 138.2h0M154 133.5h0M175.4 127.7h0M144.4 133.3h0M120.8 139h0M178.8 128.8h0M104.8 183h0M154.5 127.8h0M118.1 141.5h0M115.9 143.9h0M145.4 127.7h0M127.7 150.2h0M123.4 155.5h0M125.6 135.9h0M143.4 143.6h0M117.4 150h0M173.2 126.5h0M156.5 132.3h0M125.5 134h0M117.8 164h0M124.8 132.3h0M124.9 132.1h0M128.9 133.9h0M107.1 150.9h0M125.2 131.8h0M113.2 149.8h0M171.7 127.8h0M129.9 133.1h0M108.7 147.4h0M123.1 144.9h0M165.2 133.3h0M113.2 146.3h0M139.2 134h0M168.4 128.7h0M118.4 137.3h0M170.9 127.2h0M120.6 136.8h0M122.6 157.7h0M159.4 133.4h0M177.6 127.1h0M114.3 143.6h0M134.6 141h0M136.4 133.4h0M138.4 137.2h0M112.9 146.6h0M132.8 138.2h0M143 128.7h0M112 144h0M129.9 135h0M142.9 145.5h0M109.8 146.3h0M117.6 139.4h0M135.7 137.8h0M124.9 142.1h0M146.1 134.5h0M109.1 160.5h0M141.4 129.7h0M138.9 144.9h0M129.9 148.9h0M122.6 146.3h0M119.7 136.2h0M120.4 137.1h0M128.9 130.1h0M134.6 145.7h0M176.9 127.9h0M125.8 150.9h0M148.1 127.3h0M149.3 126.6h0M117.7 139.5h0M165.5 127.7h0M122.1 135.4h0M119.2 155h0M121.6 139h0M124.6 134.4h0M132.7 154.6h0M139.9 127.5h0M141.1 129.5h0M157.6 134.1h0M121.7 136.5h0M110.8 172.6h0M158.4 126.6h0M125.4 148.4h0M111.8 151.5h0M116.3 147.8h0M170.1 126.4h0M114.1 147.8h0M118.2 153.5h0M122.9 151.9h0M155.7 130.2h0M150.4 138.8h0M126.2 139h0M118.2 142.3h0M138.5 131.1h0M130.4 137.5h0M126.5 137.2h0M121.9 159.6h0M164.3 128.6h0M125.7 131.7h0M131 130.1h0M162.2 126.7h0M143.4 128.4h0M120.8 135.4h0M175.8 129.1h0M117.5 159.8h0M107.8 151.1h0M133.1 130.2h0M145.7 133.1h0M113.2 154.4h0M152.8 132h0M156 135.6h0M132.1 136.3h0M120.4 139.4h0M115.8 144.2h0M170.8 127h0M124.4 153.2h0M136.4 130h0M162.5 131.6h0M127.3 132.4h0M120.1 150.6h0M113.1 172.3h0M139.2 128.4h0M180.9 127.1h0M121.4 139.4h0M116.9 141.7h0M139.8 128.7h0M135.6 137.7h0M148.1 128h0M181.6 128.6h0M131.3 145h0M124.9 157.1h0M144.1 133h0M128.7 130.5h0M152.3 126.7h0M144.8 134.4h0M116.2 140.4h0M128.7 130.2h0M121.7 149.5h0M163.5 126h0M130.1 146.9h0M121.4 149.9h0M127 134.1h0M129.7 156.4h0M127.9 141.4h0M139.9 128h0M141.3 132.1h0M152.8 132.3h0M148.1 126.8h0M126.7 131.2h0M132.6 138h0M123.9 145.3h0M133.7 144.5h0M117.4 138.4h0M119.1 136.6h0M163.1 127.8h0M178.7 126.8h0M147.9 136.3h0M168.6 130.5h0M137.4 141.6h0M118.1 148.6h0M160.4 126.5h0M178.2 126.6h0M137.3 127.6h0M138.2 127.9h0M117 142h0M119.3 141.8h0M136 141.8h0M141.7 131.6h0M117.6 142h0M123.5 134.3h0M148.7 128.4h0M123 149.9h0M119.5 141h0M129.2 139.3h0M127.3 130.8h0M149.1 136.5h0M116 167.9h0M143 129.3h0M121.1 147.3h0M120.3 139.5h0M111.9 151.2h0M113.7 141.9h0M123.7 133.7h0M118.6 138.8h0M127.5 144.7h0M135.4 134.4h0M147.5 129.3h0M149.9 127.2h0M113.5 142.8h0M142.8 140.9h0M132 128.9h0M117.4 138.3h0M109.8 146.6h0M123.4 145.2h0M126.1 131.6h0M154.7 127.5h0M144.9 136.6h0M130.8 143.7h0M126.8 133.7h0M127.6 130.6h0M152 128.7h0M152.6 131.8h0M121.8 138.6h0M119.7 137.8h0M120.7 142.2h0M122.4 140h0M167.6 131.9h0M144.9 136.2h0M133.6 153.7h0M149.5 130.4h0M123.4 142.6h0M137.4 133.9h0M124.7 136.7h0M143.9 127.9h0M174.6 129.2h0M177.2 126.2h0M150.4 137.9h0M161.3 127h0M163.1 127.4h0M134.1 128.2h0" stroke="#555555" stroke-width="1.1" stroke-linecap="round" fill="none"/>
<path d="M153.4 86.4h0M125.5 87.7h0M129.5 90.9h0M125.2 78.7h0M148.4 85.2h0M130.7 76.5h0M132.2 78.7h0M150 83.8h0M133.5 92.7h0M164.3 96.3h0M114.5 63.5h0M156.5 94.8h0M121.6 71.4h0M124.8 76.6h0M131.1 81.5h0M121.9 71.8h0M113.6 58.1h0M139.2 94.5h0M109.1 61.5h0M165.4 89.6h0M122.6 80h0M141.8 90.3h0M133 87.5h0M119.9 64.4h0M119.9 76.8h0M134.1 91.4h0M128.6 84.3h0M113.3 55.3h0M144.9 91.2h0M119 75.5h0M129.2 85.9h0M164.3 90.2h0M128 70.4h0M138.8 87.4h0M116.4 55.3h0M157.9 96.8h0M122.6 85.9h0M138.4 81.5h0M118.2 76.4h0M147.3 87h0M170.5 91.7h0M166.1 97.3h0M124.6 68.9h0M132.4 89.4h0M155.7 88.7h0M133.3 92.8h0M105.5 58h0M125 69.1h0M169.8 97.4h0M168.4 94h0M116.6 77.7h0M135 82.8h0M131.1 74.7h0M120.2 71.9h0M134.9 90h0M132.8 82.6h0M153.2 96.9h0M151.4 87.9h0M133 82.1h0M132.3 84.4h0M134 74.3h0M133.5 86.9h0M169.5 97h0M135.3 83.7h0M114.5 70.8h0M162.3 97.2h0M129.3 76.5h0M150.5 92.6h0M127.6 68.1h0M142.4 86.7h0M126.2 71.2h0M118.4 57.9h0M131 69.3h0M124.2 67.7h0M134.3 92.4h0M124.7 84.7h0M111.4 58.2h0M122.5 68.3h0M125.4 89h0M116.5 57h0M145.5 87.9h0M122.3 61.2h0M146.2 86.5h0M115.1 77.3h0M136.8 75.7h0M106.1 59.7h0M111.9 73.4h0M129.9 87.8h0M145.8 93.5h0M124.9 77.5h0M136.4 78.9h0M118 60.4h0M136 85.5h0M150.8 83.5h0M145.3 96.6h0M138.9 90h0M149.9 86.1h0M155 89.7h0M173.5 97.5h0M115 60.6h0M125.2 85.3h0M122.3 76.8h0M123.2 83.4h0M129.3 89.5h0M124.1 69.2h0M134.3 76.9h0M171.1 95.1h0M136.1 79.6h0M109 64.9h0M117 63.4h0M117.4 65.9h0M154.8 94.1h0M109.8 58.1h0M142.1 93.2h0M124.2 77.2h0M124.6 73.6h0M133 83.3h0M112 52.8h0M128.2 78.2h0M126.5 83.2h0M122.1 70.6h0M131.2 73.6h0M132 90h0M174.4 97.1h0M131.6 91.6h0M141.4 92.7h0M109 55.2h0M135.2 87.6h0M108.7 67.9h0M131.6 81.8h0M112.9 74.4h0M184.4 97h0M108.2 66.4h0M125 79.5h0M157.8 93.5h0M149.6 82.7h0M153.5 84.8h0M125.4 79.9h0M113.6 56.5h0M128.4 82.1h0M118.5 69.8h0M117.5 75.9h0M173.7 94.5h0M144.7 87.5h0M124.3 77.4h0M138.3 87.1h0M151 93.9h0M146.9 86h0M108.7 66.5h0M107.1 60.8h0M126.2 78.8h0M133.3 92.9h0M147.7 94.2h0M137 83.4h0M139.3 75.9h0M134.8 87.8h0M157.3 87.6h0M129.7 72h0M114.2 73.2h0M159.2 94h0M146.1 87.3h0M120.9 80.9h0M118 65h0M133.2 87h0M139.7 86h0M128.3 83.2h0M128.9 87.8h0M123.4 83.1h0M121.3 67.3h0M123.9 65.1h0M148.2 90.6h0M108.1 47.8h0M140.6 95.1h0M117.2 71.4h0M120.5 80.8h0M173.8 96.1h0M109.9 53.5h0M133 73.3h0M111.6 63.9h0M130.4 77.7h0M126.2 84.5h0M132.8 77.9h0M145.4 94.6h0M109 56.8h0M115.2 75.7h0M140.7 77.4h0M125.5 80.6h0M131.9 73.9h0M141 84.6h0M150.8 83.6h0M148.6 96.5h0M127.5 71h0M132.6 75.3h0M156.5 92h0M114 57.3h0M146.1 82.3h0M168.4 93.3h0M147.5 93.6h0M128.8 73.4h0M113.7 67.3h0M110.9 63.1h0M185 95.8h0M151.3 95.1h0M137.4 94.3h0M120.4 82.4h0M110.8 58.2h0M125.4 83.7h0M171 96.8h0M135.8 93.8h0M184.6 96.8h0M139.5 86.5h0M161.2 92.1h0M156.1 89.6h0M117.1 70h0M129 80.4h0M123.7 82.2h0M140.4 87.5h0M117 79.5h0M137.7 91.6h0M151.3 96.8h0M151.9 91.1h0M135.3 85.1h0M112.7 53.2h0M173.6 95.8h0M125.2 67h0M138.2 87.8h0M141.9 95.3h0M123.2 76.2h0M131.5 73.8h0M111.7 73.4h0M153 84.3h0M121.4 84.4h0M117.8 67h0M116.9 73.1h0M145.8 96.6h0M146.6 81.9h0M129.4 86.3h0M149.2 92.9h0M108.5 58.3h0M143.4 96.1h0M149.3 84.3h0M114.8 62.2h0M164.1 91.9h0M155.5 92.8h0M132.2 72.7h0M113.4 61.6h0M122.3 83.1h0M111.2 53h0M124.7 80.3h0M137.7 75.4h0M119.9 65.3h0M158 93.6h0M122.8 75.9h0M127.6 80.9h0M141.8 77.8h0M146.9 81.9h0M129 74.5h0M116.5 64.1h0M130.2 78.3h0M111.4 51.2h0M114.5 56.7h0M131.9 91.7h0M115.5 69h0M141 92.9h0M171.3 97h0M143.2 95.7h0M129.9 71.5h0M137.4 76.5h0M112.4 55.7h0M127.3 67.8h0M147 96.8h0M117.1 59.5h0M130.1 85.3h0M112.1 56.8h0M117.8 58.4h0M141.3 86.1h0M151.1 83.8h0M118.8 76.8h0M112 73.7h0M132.4 86.6h0M155.8 85.4h0M149.6 86.4h0M124.5 75.4h0M121.3 62.3h0M141.9 78.6h0M134.5 81.2h0M171.5 92.5h0M122.6 75.2h0M131.1 87.1h0M164.5 95.7h0M113.3 59.1h0M104.5 54.5h0M110.4 65.2h0M135.4 74.9h0M117.9 81.1h0M161.3 87.9h0M109.8 61.6h0M135.5 93.6h0M123.5 68.1h0M151.3 86.2h0M125.5 81.7h0M133.7 81.2h0M118.3 74.7h0M156.5 92h0M136.4 91.8h0M129.2 90.9h0M162 92.9h0M111.5 72.1h0M180.5 97.6h0M152.4 96.8h0M108.2 68.2h0M170.3 94.3h0M184.1 96.7h0M137.4 77.7h0M142 93.1h0M112.6 59.4h0M115.1 55.1h0M185 96.2h0M158.6 88.3h0M118.1 69.1h0M137.1 81h0M172.9 95.5h0M115.8 78.3h0M133.5 90.4h0M138.2 84.5h0M115.6 65h0M135.4 93.1h0M126.4 68.8h0M115 76.4h0M151.5 87.2h0M145.4 80.4h0M107.6 50h0M125.3 73.8h0M121.7 66.8h0M123.7 77.7h0M111.5 51h0M155.5 94.1h0M151.6 88.3h0M164.2 92.2h0M127.5 67h0M122.2 69.4h0M114.3 60.9h0M110.5 61.5h0M118 64.1h0M163 92.2h0M163.8 96.2h0M133.9 77.6h0M142.4 80.6h0M181.8 97.5h0M130.5 84h0M160.8 93h0M146.6 82.6h0M125.7 65.8h0M137.2 74.5h0M120.5 67.7h0M114.2 54h0M123.9 87.5h0M123.4 87h0M131.5 85h0M131.7 88.9h0M140.4 78.4h0M162 91h0M106.4 52.1h0M119.9 69.6h0M158.3 87.1h0M149.1 93.6h0M159.3 95.7h0M119.5 65.7h0M141 80.7h0M119 65.2h0M113.5 65.6h0M164.2 97h0M119.7 59.1h0M109.8 51.2h0M118.3 71h0M142.6 79.6h0M129.4 69.6h0M121.4 62.6h0M128.5 76.7h0M120.6 69h0M128.3 82.2h0M117.5 70.5h0M113.3 74.1h0M158.3 92.2h0M123.7 66.8h0M109.8 68h0M155.9 89.8h0M126.3 69.4h0M134.3 79.5h0M153.5 88.3h0M122.2 73.7h0M127.9 71h0M164 95h0M149 87h0M135.3 93.9h0M121.2 68.5h0M135.5 75.3h0M114.9 54.3h0M115.9 77.6h0M139.8 81.5h0M137.2 82.7h0M156.6 93.9h0M120.8 67.4h0M137.4 91.3h0M167.3 91.2h0M166 94.1h0M137.6 81h0M110 70.9h0M179.4 96.2h0M130.7 81.3h0M171.1 97.4h0M116.5 72.1h0M126.5 88h0M118.1 76.6h0M145.7 87.9h0M146.5 81.8h0M142.8 94.9h0M151.2 90.9h0M113.2 73.2h0M111.3 64.3h0M114.7 55.6h0M119.9 59.9h0M117.3 58.6h0M109.6 52.5h0M111.2 72.6h0M126 81.6h0M129.4 86.3h0M137.1 81.9h0M123.7 71.1h0M155.4 92.7h0M129.7 82.4h0M120.1 67.5h0M179.2 95.7h0M141.7 82.7h0M145.5 91.6h0M146.3 86h0M136.5 92.3h0M185.8 97.3h0M131.7 78.3h0M168.4 95.3h0M113.8 74.3h0M123.6 70h0M140.8 86.7h0M111.9 57.2h0M141.2 86.6h0M139.7 89.2h0M121.9 61.6h0M155 89.1h0M114.7 74h0M153.1 89.3h0M127.1 89.7h0M142.4 89.5h0M108 49.8h0M129.4 81.7h0M116 59.8h0M148.8 92.4h0M128.6 87.4h0M153 93h0M127.3 85.3h0M119.5 79.1h0M149 89.6h0M155.2 85.4h0M125.9 80.6h0M134.1 79.5h0M169.7 95.2h0M154.7 93.1h0M131.6 84.9h0M123.8 68.4h0M170.3 93.5h0M182.4 97.7h0M132.4 82.2h0M144.1 95.4h0M115 70.4h0M123.5 69.3h0M120.5 75.9h0M168.1 94.2h0M128.9 81.2h0M122.2 70h0M136.9 94.6h0M171.2 94.8h0M114.7 59.7h0M179.4 96.9h0M153.3 87.1h0M144.9 94.5h0M130.1 83.9h0M152.1 90.9h0M120.7 70.6h0M114.9 63h0M140 82.3h0M122.7 85.1h0M138.1 75.4h0M157.7 92.5h0M129.3 85.5h0M123.2 63.1h0M145.6 88.4h0M155.9 94.3h0M119.6 69.5h0M164.9 89.5h0M135.8 75.1h0M110.4 60h0M122.9 70.6h0M104.1 49.2h0M126.3 88.8h0M181.6 97.9h0M107.5 58.4h0M120.7 76.6h0M128.1 70.8h0M127.1 80.4h0M114.2 59.8h0M140.8 95.4h0M115.5 54.6h0M143.4 85.5h0M150.8 85.4h0M148.5 88.3h0M185.2 97.7h0M122.4 71.8h0M154.4 95.6h0M175.3 95h0M182.9 96.8h0M140.2 77.3h0M119.5 69.4h0M160.4 91.5h0M127 87.5h0M156.7 94.2h0M119 70.1h0M164.9 94.4h0M112.2 54.2h0M112.9 52.7h0M142 93.8h0M116.6 64.9h0M110.6 49.9h0M163.1 94.2h0M117.4 66.1h0M122.2 70.9h0M124.9 82.9h0M168.5 96.2h0M119.2 60.6h0M171.6 95.6h0M134.2 85.3h0M126.1 82.7h0M146.9 83.2h0M112.5 60.1h0M122.7 70h0M157.9 94.9h0M144.5 93.5h0M156.6 91.9h0M179 95.5h0M137.2 84.8h0M129 81h0M135.2 83.3h0M174.9 94.6h0M130.5 70.1h0M130 88.8h0M127 88.5h0M134.4 87.2h0M126.7 79h0M140.5 81.9h0M134.1 85.2h0M163.8 89.1h0M124.7 82.8h0M124 79.8h0M147.5 81.4h0M116.3 77.8h0M135.7 79.2h0M147.3 95.3h0M168.5 91.2h0M139 76.5h0M109.7 62.8h0M159.5 87.7h0M128.9 80.1h0M146.9 86.2h0M119.1 60.3h0M181.3 96.4h0M131.9 79.3h0M170.9 95h0M150.1 84.8h0M140.8 95.2h0M166.3 90.8h0M118.6 75h0M146.9 87.5h0M123.4 86h0M156.4 97.2h0M142.8 95.4h0M180.9 95.2h0M115.1 77.2h0M166.4 96.2h0M107.7 49.9h0M132.7 81.7h0M130 75.1h0M141.9 86.1h0M136.6 91.8h0M129 72.9h0M165 95.5h0M122.1 63.9h0M120.8 69.3h0M182.3 97.3h0M116.5 74.5h0M121.6 76.3h0M166.4 94.7h0M127.5 82h0M118.1 61.1h0M152.4 84.4h0M156.9 91.6h0M129.9 86.3h0M166.5 96.5h0M139.1 91.7h0M112.6 63.1h0M108.3 58h0M128.8 75.9h0M118.9 63.1h0M156.3 96.5h0M148.6 88.4h0M148.1 92.9h0M119.8 67.1h0M110.2 66.7h0M119.3 77.4h0M169.2 91.6h0M175.1 96.6h0M143 93.1h0M125.4 70.6h0M138.2 75.3h0M118.2 68.5h0M111.7 66.1h0M159.8 93.7h0M106.8 61.1h0M132.7 87.4h0M125.5 85.6h0M141 94.9h0M114.2 67.5h0M135.5 93.3h0M142.8 89.7h0M129 78.5h0M136.9 90.6h0M144.4 96.6h0M179.7 97h0M136.6 86h0M124.1 73.8h0M129.9 90.8h0M128.8 72h0M135.4 87.3h0M135.1 77.1h0M153.2 94.8h0M150.5 93.9h0M138.2 84.9h0M115.1 65.4h0M138.9 87.6h0M158.1 89.5h0M127.2 87.4h0M167.2 96.8h0M124.4 66.8h0M115.3 54.2h0M118.4 70.5h0M132.1 80.4h0M178.9 96.6h0M175.2 93.6h0M108.6 64h0M164 96h0M129.4 86h0M115.5 58.5h0M109.8 68.2h0M140 86.2h0M115.3 68.8h0M115.7 62.7h0M126 77.8h0M114.2 60.7h0M117.4 76.7h0M128.2 87.8h0M138 80.7h0M111.4 50.4h0M131 80.8h0M114.8 55.9h0M118.6 71.2h0M146 90.5h0M121.8 65.7h0M178.1 95.8h0M117.7 69.7h0M121.8 63.7h0M131.3 77.4h0M113.4 57.4h0M148.5 89.9h0M128.9 77.1h0M144.5 93.1h0M141.5 92.2h0M111.7 51.1h0M142.6 87.3h0M114.4 69h0M154.7 85.9h0M113.4 75.6h0M110 71h0M155.5 89.1h0M150.8 90.7h0M149.4 84h0M156.3 92.8h0M119.7 60.8h0M112.9 66.8h0M107.8 63.3h0M134.8 93.8h0M112.8 65.6h0M138.6 89.9h0M172.6 95.1h0M134.2 74.1h0M113.5 75.3h0M174.5 96.3h0M114.6 75.5h0M136.8 81.4h0M160.3 97.4h0M133.9 80.2h0M104.7 41.9h0M136.9 83.8h0M130.9 73.5h0M114.4 63.1h0M115 54.4h0M110.6 69.8h0M174.1 96.7h0M129.7 87.4h0M161.6 97.2h0M105.9 49.9h0M124 86.1h0M130.6 86.8h0M143.1 92.6h0M106.6 52.8h0M161.9 95.5h0M119.1 73.5h0M117.1 66.2h0M155 96.9h0M161.5 97.4h0M123.7 75h0M147.1 94.8h0M123.5 66.9h0M143.6 95.4h0M119.5 72.8h0M157.8 92h0M155.4 86.9h0M118.3 79.6h0M143.9 95.5h0M115.9 74.3h0M163.3 93.3h0M141.7 89.6h0M138.6 90.5h0M131.9 90.7h0M127.1 72.2h0M116.8 72.4h0M158.4 90.9h0M147 81.3h0M144.9 81.2h0M109.6 64.8h0M163.2 94.9h0M152.6 87.9h0M179.2 97.8h0M129.5 85.9h0M156.4 93.1h0M117 56.3h0M154.5 93.2h0M139.5 76.7h0M125.6 71h0M114.1 72.7h0M146.1 91.5h0M109.4 51.3h0M125.4 86.8h0M149.5 94.6h0M124.9 68.8h0M127 70.8h0M182.6 97.9h0M155.9 91.1h0M141.6 87.6h0M134.5 77.9h0M164.3 94h0M140.1 84.7h0M123.4 85.3h0M110.7 64.6h0M110.1 49.8h0M121.7 77h0M112.1 54.3h0M112.2 64.4h0M146.9 88.2h0M138.6 76h0M177.8 94.8h0M115.7 71.5h0M105.2 51.9h0M109.9 66.9h0M127.5 69.2h0M142.6 83.7h0M134.3 91.6h0M175.5 96.5h0M121.5 76.1h0M125 79.8h0M163.3 94.5h0M143.7 82.4h0M119.7 66.9h0M115.1 67h0M174.8 97.5h0M111 50h0M148.7 96.1h0M109.5 67.4h0M127.2 78.5h0M138.1 94.7h0M171.1 96h0M139.3 92.6h0M153.3 90.3h0M144.6 83.5h0M115.9 76.4h0M168.4 91.3h0M122.9 73.4h0M177.2 95.6h0M112.5 69.9h0M117.3 62.9h0M176.4 94.2h0M108.5 58.4h0M130.4 78.7h0M155.2 87.3h0M123.4 82.4h0M121.6 77.9h0M131.7 80.6h0M132.9 76.3h0M127.9 81.9h0M122.5 66.9h0M150.1 96h0M110.6 60.3h0M122.7 62.9h0M131.3 71h0M145.4 95.1h0M115.9 67.5h0M132.4 89.8h0M117.5 80h0M134.1 81.1h0M132.3 81.2h0M106.9 49.5h0M143.1 88.2h0M152.4 91.8h0M155.2 93h0M157.4 94.5h0M130.1 87.1h0M138.5 84.7h0M145.5 93.9h0M140.1 90.3h0M111.8 71.5h0M121.3 74.7h0M140 94.8h0M132.4 88.5h0M126.6 76.7h0M120.2 75.3h0M137.1 93h0M159.7 87.7h0M142.8 94.2h0M116.3 70.9h0M158.7 95.7h0M130.4 83h0M123.8 71.6h0M114 73.9h0M125.3 77.5h0M120.1 67.4h0M140.7 89.7h0M146.4 81.6h0M112.1 59.4h0M125.3 83.4h0M173.7 92.9h0M110.8 62.7h0M175.2 94.8h0M139.6 84.6h0M116.3 60h0M126 85.2h0M113.4 62h0M110.6 50.4h0M137.5 85.8h0M123.9 72.7h0M155.1 87.4h0M134.1 81.3h0M160.8 96.1h0M113.1 71.9h0M161.1 96.7h0M133.6 91.4h0M117.1 57.4h0M146.9 85.6h0M120.7 76.7h0M117.1 79.3h0M124.3 78.3h0M166.8 94.9h0M107.6 51.7h0M167.8 96.1h0M127.3 88.1h0M179.6 97.5h0M133.6 84.4h0M124.3 85.4h0M139.4 77.4h0M134.9 82.7h0M156.1 89.5h0M129.4 79.8h0M120.2 70.4h0M133.6 89.5h0M114.2 73.8h0M123.6 86.4h0M159.1 86.9h0M108.4 53.9h0M147.2 83.5h0M173.9 95.6h0M132.2 88h0M120.8 59.8h0M108.6 58.9h0M107.1 57.2h0M150.3 95.8h0M117.8 69.8h0M153.4 91.7h0M133.7 90.5h0M129.2 85.9h0M131.2 90.2h0M135.2 92.8h0M147.1 95.1h0M126.8 78.6h0M183.3 96.8h0M153.8 86.3h0M150.2 90.2h0M147.2 95.4h0M131.9 78.7h0M121.6 84.8h0M167.8 96.5h0M172.3 95.4h0M146.6 88.8h0M109.9 48.9h0M113.7 54.2h0M122.8 79.2h0M131.2 87.1h0M127 83.9h0M117.6 56.6h0M131.1 70.9h0M153.2 85h0M148 89.4h0M135.4 83h0M114.9 57.2h0M117.2 57.4h0M121.7 68.6h0M141.5 84.7h0M130.1 88.7h0M117 67.3h0M152.2 93.4h0M126.4 68.6h0M150 83.1h0M111.7 70.8h0M136.1 82.2h0M129.1 83.4h0M130.5 90.6h0M147.2 81.3h0M169.1 94.8h0M124.8 88.1h0M122 78.1h0M122.1 69.9h0M105.9 57h0M124.9 69.8h0M114 58.2h0M121 80.5h0M117 61.2h0M115.8 59.4h0M118.1 65.3h0M119.9 73h0M147.7 94.1h0M118.8 68.7h0M113.1 55.7h0M117.3 78h0M172.1 94.8h0M133.5 80.9h0M137.7 84.2h0M117.7 60.5h0M185.3 95.5h0M155.5 90.7h0M155.7 96.1h0M105.6 59.6h0M175 97.4h0M134.2 74.9h0M125.4 81.3h0M140.3 88.5h0M130.4 84.4h0M146.9 84h0M137.8 94.3h0M121.9 73.7h0M149.8 89h0M163.9 89.5h0M168.4 94.7h0M113.8 71.1h0M159 89.2h0M135.3 82.6h0M132.8 86.7h0M141.4 95.9h0M123.4 69.1h0M126.1 80.8h0M144 94.7h0M117.3 61h0M112.2 55.8h0M157.3 95.9h0M133 88.9h0M129.9 80.6h0M124.8 86.6h0M143.1 92.3h0M153.7 96.2h0M119.7 76.2h0M121 72.8h0M126.2 70.6h0M112.5 59.3h0M169.8 92.5h0M121.6 67.3h0M138.8 90.4h0M119.9 67.9h0M148.2 85.7h0M109.3 65.9h0M137.7 77.1h0M180.9 97.4h0M110.8 55.2h0M179.3 95.2h0M140.9 87.5h0M141.7 86.3h0M147.5 87.6h0M124.1 87.2h0M136.3 82.8h0M139.4 80.4h0M133.4 86.6h0M137 75.7h0M124.9 73.4h0M132.4 86.4h0M137.3 83.5h0M144.5 91.1h0M115.5 73.9h0M142.1 89.8h0M148.6 90.4h0M167.5 93.9h0M153.4 90.6h0M129.9 86.1h0M151.6 88.3h0M148.4 89.3h0M120.4 61.6h0M123.3 85.2h0M137.1 84.9h0M127.5 89.6h0M158.1 96.6h0M129 70.3h0M142.3 87.5h0M107.9 61.1h0M125.3 86.5h0M119.9 60.9h0M140.5 90.7h0M144.1 82h0M110.8 54h0M120.5 63h0M112.3 67.4h0M125.7 83.4h0M122.1 80h0M158.6 91.2h0M142.6 90.1h0M163.1 92h0M134.8 72.7h0M129.7 77.9h0M152 96.9h0M156.7 86.6h0M126.2 77.2h0M138.7 90.8h0M114.3 53.2h0M135.7 78.2h0M129.1 73.2h0M115.9 73.7h0M123.9 66.5h0M113.1 58.2h0M165.1 90.5h0M127 85.1h0M157.5 88.8h0M138.1 78.9h0M130.3 71.3h0M172.6 97.3h0M134.2 91.4h0M162.1 92.2h0M111.9 71.9h0M134.7 79h0M140.6 86.8h0M121.2 83.9h0M153 92.1h0M130.7 73.5h0M119.2 77.3h0M151.6 89.3h0M115.4 74.3h0M137.4 93.1h0M116.4 69h0M110.8 64.6h0M174.4 94.9h0M112.2 56.6h0M124 74.5h0M132.3 71.4h0M141.2 78.9h0M112.9 63.4h0M122.2 66.5h0M115.7 78.2h0M113 65.3h0M130.8 86.8h0M123.1 77.8h0M150.5 92.4h0M123.7 83.9h0M157.5 92.1h0M117.6 63.9h0M131.2 70.4h0M130.2 84.8h0M141.2 90.9h0M153 88.1h0M128.7 76.2h0M123.2 72.6h0M177.7 94.4h0M117.8 65h0M151.2 85.6h0M136.7 74.3h0M181.8 96.4h0M126.5 89.1h0M116.6 79.9h0M159.7 90.1h0M119.1 73.8h0M122.2 61.5h0M148.6 82.3h0M173.7 94.5h0M124 76.9h0M117.8 80.6h0M122.8 67.3h0M129.3 79.9h0M110 60.3h0M147 84.6h0M140.1 90.4h0M125.9 68.6h0M109.9 58.8h0M149.3 94.2h0M144.5 81.4h0M122.6 63.9h0M175.7 94.2h0M180.5 95.7h0M125.9 78.5h0M126.8 78.6h0M135.4 81.1h0M146.3 87.4h0M149.8 92.9h0M118.7 63.2h0M120 65.7h0M110.7 68.5h0M108.2 60.3h0M115.6 63.7h0M134.3 78h0M126.1 70.9h0M144.1 79.4h0M149.9 93.9h0M107.4 64.6h0M147 88.1h0M157 97.2h0M130.4 78.5h0M140.6 81.9h0M139.9 83h0M126.9 73.9h0M109 50.5h0M145.7 91.2h0M128.5 79.3h0M116 78.7h0M156.3 91.8h0M163.5 96.2h0M126.8 75.7h0M111.6 68.3h0M126.6 76.8h0M110.2 64.5h0M117.5 65.9h0M140.2 91.5h0M134 79.4h0M181.2 95.6h0M146 95.2h0M120.8 65.7h0M122.8 68.2h0M145.3 81.2h0M119.5 62.8h0M144.9 80.6h0M134.8 83h0M129.4 86.7h0M155.8 94h0M120.4 74.9h0M120.8 79.6h0M150.8 91.9h0M123 70.8h0M162.5 93.6h0M131.2 78.5h0M154.4 96.9h0M129.3 87.6h0M155.6 89.1h0M136.2 94.2h0M131.7 79.4h0M109.7 66.2h0M108.6 68.1h0M123.1 72.7h0M146.1 80.3h0M108.1 61.3h0M116.7 60.2h0M120.8 61.2h0M135 83.8h0M109.1 59.1h0M124.4 85.1h0M133 87.1h0M146 81.4h0M174.5 94.5h0M139.7 85.9h0M147.2 85h0M118.5 71.7h0M121.3 84.4h0M143 80.9h0M117.5 74.6h0M130.9 77.4h0M115.1 77.2h0M142 92.6h0M160.6 93.4h0M141.8 82.3h0M146 94.4h0M147.6 81.7h0M150.9 95.9h0M152.5 96h0M122.5 67.9h0M156.1 86.8h0M137.5 82.8h0M157.4 94.7h0M113.7 54.7h0M107 47.1h0M135.3 92.5h0M130.8 88.7h0M128.9 90.3h0M128.6 90h0M146.4 94.5h0M130.8 91.6h0M118.8 80.7h0M181.5 96h0M134.5 88.6h0M158.9 91.3h0M172.1 94.1h0M145.8 90.4h0M143.8 81.2h0M138.9 71.9h0M123.6 59.4h0M193.9 94.5h0M128.2 65.3h0M120.1 55.7h0M184.7 44.8h0M137.2 68.7h0M115.4 51.2h0M110.4 48.3h0M126.6 60.9h0M154 80.1h0M157.8 65.6h0M150.6 75.9h0M158.5 85.7h0M159.5 79.8h0M151.3 58.7h0M143.7 68.6h0M131.2 52h0M133.1 64.4h0M182.4 60.2h0M168.1 79.7h0M141.6 56h0M190.8 76.2h0M124.3 46.7h0M118.3 54.3h0M172.7 78h0M142.9 75.5h0M148.4 43.1h0M150.7 59.5h0M147.3 78.2h0M113.8 51.6h0M149.8 55.8h0M169.7 68.9h0M133.6 46.3h0M138.6 56.5h0M130 56.9h0M165.6 75.9h0M150.3 41.7h0M159.1 82h0M170 55.2h0M166.7 78.2h0M133 69.8h0M112.3 49.3h0M175.5 88.4h0M132.8 67.1h0M160.5 44.3h0M126.9 63.1h0M161.5 79.7h0M170.4 71.4h0M148.7 37.4h0M143.5 69.8h0M107.7 44.2h0M184.3 60.5h0M149.2 73.6h0M135.4 65h0M118.9 55.1h0M136.6 65.2h0M122 55h0M204.6 71.8h0M140 57h0M136.1 58.9h0M152.1 73.6h0M142.3 64.9h0M137.5 57.9h0M142 76.7h0M132.1 67.3h0M113.9 50.4h0M156.9 79.9h0M128 54.6h0M146 75.1h0M131.7 59.6h0M197.9 38.8h0M205.1 62.4h0M115.7 45.8h0M119.4 55.3h0M123.4 41.8h0M132.5 65.8h0M137.2 59.9h0M168.7 83.7h0M174.4 91.6h0M143.4 70.3h0M117.5 53.9h0M169.7 82.6h0M162.3 75.8h0M166.9 56.5h0M167.4 74.3h0M142.9 67.7h0M135.4 63.3h0M117.3 53.7h0M185.6 51.1h0M127.6 62.8h0M153.7 79.2h0M157.6 83.7h0M116.2 53.8h0M134.2 68.8h0M197.9 52h0M162.1 57.6h0M169.1 75.4h0M127.3 49.8h0M145.4 73.7h0M143 73.9h0M118.3 55.4h0M125.2 57.8h0M123.3 60.9h0M162.2 46.5h0M147.3 77.5h0M129.3 62.6h0M203.7 74.7h0M170.5 90.8h0M172.9 75.2h0M136.8 72.3h0M132.8 65.9h0M132.9 54.3h0M140.8 75.9h0M167.2 87.2h0M137.5 72.5h0M173.8 74.1h0M169.1 70.2h0M159.7 85.9h0M113.6 44.8h0M122.9 54.1h0M141 69.2h0M172.2 63.9h0M188 84.1h0M157.2 70.4h0M114.6 42.2h0M158.7 81.4h0M181.2 91.5h0M146.8 78.2h0M140.9 75.7h0M153.8 72.5h0M135.8 70.6h0M178.5 62.6h0M191 72.4h0M181.1 41.6h0M118.8 53.7h0M148.3 67.6h0M111.4 49.4h0M140.8 70.8h0M182 46.1h0M118.6 54.3h0M127.2 59.5h0M122.4 58.1h0M142.1 76.7h0M159 85.7h0M128.5 52.3h0M161.3 42.4h0M179.2 73.5h0M134 62.9h0M123.2 52.6h0M143.9 64.4h0M114.2 50.9h0M125.4 58h0M163.2 77.8h0M163.6 81.1h0M156.9 75.1h0M167.3 85.7h0M156.6 63.3h0M150.6 78.9h0M148.9 74.9h0M165.3 74.5h0M167.6 78.4h0M154.6 82.1h0M145.6 64.2h0M116.6 47.3h0M178.5 86.7h0M176.7 78.2h0M124.4 61.7h0M122.6 57.8h0M148.3 80h0M159.4 74.5h0M115 52.8h0M149 79.1h0M150.3 81.4h0M145.5 74.6h0M153.8 82.9h0M130.1 67.2h0M113.9 44.8h0M159.1 71.1h0M160.6 85.6h0M136.6 62h0M157.8 67h0M139.2 43.6h0M156.2 64.3h0M135.5 67h0M132.7 68.2h0M130.4 53.3h0M117.3 54.7h0M142.9 71.9h0M158.4 57.9h0M139.9 63.1h0M125.6 63.1h0M126.2 49.7h0M167.8 86.2h0M116.2 52.8h0M138.1 67.3h0M129.4 51h0M160.4 85h0M130.4 38.9h0M160.1 84.2h0M124.3 59.8h0M140.6 67.4h0M122.4 54.6h0M178 92.2h0M126.9 57.6h0M207.4 85.1h0M139.3 71.9h0M148.9 78.6h0M145.8 68.8h0M183.6 74.2h0M167.3 82.3h0M139.3 72h0M134.4 60.8h0M114.8 51.1h0M178.5 89.7h0M151.3 82.3h0M119.4 51.4h0M132.7 66.3h0M193.4 76.7h0M114.8 49.1h0M157.6 75.4h0M162.6 81.5h0M148.5 79.4h0M138.9 68.7h0M144.3 73.1h0M179.7 70.9h0M151.1 41.3h0M127 62.7h0M192 87.6h0M146.6 55.1h0M175.8 90.2h0M133.7 70.7h0M142.7 74.6h0M155.7 83h0M165.5 78.5h0M142 63.6h0M154.5 80.4h0M144.5 77.1h0M155.3 81.1h0M132.7 61.3h0M147.3 69.8h0M128.8 55.7h0M153 82.8h0M112.3 45.9h0M128.2 65.5h0M130.9 66.8h0M146.1 69.1h0M139.5 72.3h0M123.7 59.3h0M147.1 72.1h0M149.3 79.6h0M154.2 83.7h0M116.8 54.7h0M123.9 61.3h0M168.7 74.9h0M126.8 52.1h0M166.9 71.5h0M196.9 83.5h0M173.2 84.2h0M149.5 81.2h0M167.2 81.9h0M133.1 60.6h0M133.9 69.1h0M209.1 61.5h0M158.2 74.9h0M131.9 56.6h0M124.9 61.1h0M133.3 70.1h0M199.5 91.3h0M143.6 62.8h0M156 66.4h0M145.1 74.8h0M170.6 61.1h0M190.6 92.7h0M118.2 49.3h0M162.2 71.4h0M120.8 47.1h0M134.2 57.6h0M177.4 90.7h0M148 68.5h0M185.2 58.8h0M139.2 73.5h0M126.1 57h0M130.3 67.3h0M115.1 49.8h0M166.4 51.1h0M123.2 52.7h0M159.5 81.4h0M208.9 82.6h0M133.1 61.5h0M139.8 71.5h0M197.9 91.1h0M108.1 45.5h0M160.3 62.6h0M184.6 85.4h0M182.1 92.4h0M149 69.7h0M144.4 71.3h0M127.3 62.8h0M114.3 47.3h0M179.4 87h0M151.7 59.6h0M184 89.9h0M131.9 62.1h0M160.2 86.2h0M140.2 69.4h0M160.8 73.6h0M159.9 63.6h0M138.1 60.6h0M146.5 66.7h0M145.9 75.8h0M135.2 69.9h0M164.5 54.4h0M130.3 66.7h0M140.7 67.8h0M147.4 66h0M150.8 61h0M156.6 76.9h0M123.8 53.1h0M164.2 82.9h0M151.5 74.5h0M111.9 46.5h0M193.4 84.9h0M151.2 81.1h0M144.7 66.9h0M117.2 45.9h0M135.2 60.5h0M194.6 74.6h0M112 34.9h0M142.9 55.6h0M141.7 61.4h0M123.1 57.3h0M159.7 79.1h0M136.6 53.5h0M155.5 74.6h0M115.5 52.5h0M167.2 79.7h0M143 51.9h0M196.5 81.3h0M170.6 77.4h0M157.6 80.9h0M178.1 89.4h0M140.9 47.6h0M177.3 75.5h0M133.1 61.3h0M164.5 55.9h0M177.8 73.1h0M153.3 63.7h0M144.8 66.9h0M188.9 75.2h0M118.4 56.4h0M149.1 81.2h0M127.2 62.2h0M125.5 61.9h0M129.6 47.8h0M120.5 53.7h0M129 65.8h0M171.9 57.7h0M143.6 65.8h0M150.4 73.2h0M129.9 65.5h0M134.9 66.6h0M144 76.7h0M123.9 61.3h0M161.8 65.9h0M156.6 79.4h0M148.8 35.6h0M138.2 73.8h0M115.3 52.8h0M136 67.4h0M142.2 72.4h0M146.1 72.1h0M142.2 74.1h0M115.8 50.9h0M153.1 67.1h0M142.9 74h0M135.8 62h0M158.2 73.5h0M116.7 40.8h0M110.9 38.1h0M160.8 69.2h0M161.4 86.8h0M138.7 63.6h0M144.3 77.2h0M129.3 66.8h0M201.8 93h0M197.8 90.3h0M123.4 56.4h0M141.1 72.6h0M144.3 73.6h0M170.1 59.5h0M121.2 56.7h0M146.4 62.2h0M139.4 59.2h0M136 71.5h0M121.1 56.6h0M180.6 79.1h0M173.7 82.3h0M116.4 52.9h0M179.3 84.2h0M161.5 56.3h0M183.8 77h0M131.8 63.6h0M116 52.4h0M177.7 86.3h0M138.4 70h0M129.4 61.3h0M120.8 48.1h0M147.5 62.8h0M159.6 56.2h0M164 66.5h0M169.3 85.9h0M149 61.1h0M171.5 65.8h0M109 47h0M156.2 78.7h0M129.4 64.6h0M161.3 83.1h0M156.5 80.9h0M166.8 79.9h0M161.2 84h0M125.9 63.4h0M154.7 83.6h0M116.4 44h0M133.4 67.4h0M169.1 64.5h0M128.6 54.4h0M115.3 48.5h0M125.5 60.9h0M146.7 72.3h0M150.1 76h0M152.5 76.1h0M134.9 70.1h0M136.2 62.4h0M175 88.7h0M207.3 91.8h0M136.4 66.4h0M119.4 56.8h0M161.3 76.1h0M170.3 90.1h0M153.2 82.4h0M145.2 57.7h0M155.4 81.4h0M170.9 83.7h0M139.5 74.2h0M196.5 65.4h0M209.1 88.4h0M121.4 59h0M125.9 56.8h0M127.4 52.5h0M164.8 82h0M183.4 85.5h0M160.5 83.1h0M181.7 87.4h0M170.8 68.4h0M116 53.2h0M132.4 67.3h0M133.5 69.5h0M113 50.1h0M182.3 81.4h0M180 89.3h0M181.4 94h0M168.4 89h0M180 67.2h0M145 66.4h0M133.2 69.4h0M167.8 70.2h0M125.8 58.5h0M140.4 62.7h0M133.7 60.1h0M134.2 70h0M111.9 49.5h0M190.9 91h0M128.1 58.9h0M168.8 64.2h0M125 59.1h0M159.8 76.1h0M174.9 90h0M169.8 87.5h0M147.7 73.4h0M116.9 50.4h0M161.8 71.2h0M153.3 73.2h0M172.5 79.6h0M187.6 80.6h0M123.5 54.3h0M147.3 77.2h0M171.8 87.9h0M135.4 67.8h0M113.5 50.4h0M169.5 88.9h0M118.9 45.3h0M165.1 58.2h0M141.9 69.1h0M148.6 71.5h0M138.6 58.5h0M170.4 81.1h0M136.1 61.9h0M170.3 85.5h0M150.4 80.7h0M128.8 64.3h0M126.1 56.7h0M170.7 62.9h0M180.4 84.9h0M173.6 62.4h0M193.7 72.9h0M194.5 93.9h0M163.9 87.3h0M125.2 62.4h0M171.8 84.9h0M148.9 74.8h0M160.3 80.9h0M131.4 63.7h0M130.7 45.9h0M120.1 49.3h0M116.8 48.7h0M138 70.4h0M154.8 80.3h0M133.8 63h0M137.6 70.4h0M201.3 93.1h0M121.2 136.8h0M117.6 141h0M124.5 137.5h0M131.4 129.5h0M142.8 133.5h0M145.8 128.7h0M130.4 139h0M162.6 133.2h0M119 164.2h0M179.9 126.3h0M141.5 129.5h0M113.6 143.4h0M117.1 162.1h0M129.4 145.3h0M143.6 129.3h0M130.5 130.4h0M174.9 128.2h0M140.4 143.6h0M116.3 140.5h0M135.5 147.4h0M132.6 130.9h0M133.8 150.7h0M184.7 124.8h0M129.8 140.7h0M114.3 144.2h0M127.8 133.7h0M110.9 153.4h0M116.7 144.5h0M120.5 142.9h0M156 131.1h0M137.9 144.8h0M113.8 149.8h0M152.6 135.1h0M144 132.5h0M137.8 129.5h0M117.7 156.4h0M132.2 138.4h0M111.5 153.7h0M134.6 143.5h0M120.2 156.5h0M112.1 167h0M114.5 157.3h0M132.2 142.5h0M138.7 140h0M144.3 130.2h0M148.6 133.7h0M160.6 127.7h0M161.5 126.8h0M146.9 135h0M135.7 137.5h0M133.9 151.3h0M118.4 146.7h0M130 132.4h0M108.9 146.8h0M161.8 126.9h0M136.3 144.6h0M122.9 160.9h0M128.4 153.7h0M116 140.3h0M116.7 163.2h0M166.5 131.9h0M118.7 153.3h0M148.3 132.9h0M112.9 154h0M118.2 164h0M116.4 156.8h0M133.7 145.4h0M118.6 162.8h0M173.9 126.4h0M177.5 128.2h0M121.3 147.2h0M138.3 134.3h0M124.5 134.9h0M139.1 139h0M124.9 141.6h0M127.9 135.7h0M171.5 128.8h0M127.4 147.5h0M121.6 148h0M143 136.1h0M152.5 133.7h0M119.5 162.7h0M116.9 158.6h0M114 150h0M131.1 136.9h0M118.7 141h0M121.7 144.7h0M140.4 136.3h0M122.8 138.5h0M145.6 134.8h0M162.3 127.7h0M136.9 127.8h0M119.7 138h0M142.2 138.9h0M179.3 127.4h0M112.7 164.5h0M129.2 151.2h0M154.5 133.8h0M120.6 139.7h0M121.7 139.7h0M184.1 125.7h0M119.5 156.9h0M128.3 156.2h0M124.8 143h0M125.1 145.4h0M120.2 154.1h0M134.6 128.7h0M173.1 127.3h0M174.1 126.8h0M170.1 128.7h0M104.4 168.8h0M147.7 136.1h0M133.4 142h0M122.4 161.4h0M136.8 126.8h0M112.4 143.2h0M177 125.3h0M145 133.6h0M114.7 148.1h0M172 127.2h0M133.5 140.1h0M137.4 132.3h0M121.1 144.6h0M138.8 128.1h0M151.3 137.4h0M129 148.6h0M158.2 130.7h0M129.2 139h0M139 128.1h0M115.2 151h0M131.9 142.8h0M138.6 147.6h0M123.3 139.9h0M115.4 164.2h0M153 135h0M111 156h0M121.9 143h0M119.6 149h0M135 150.1h0M121.2 152.2h0M120.3 135.4h0M107.7 150.8h0M105.5 175.4h0M147.7 139.9h0M176.8 127h0M125.4 151.5h0M136.6 127.8h0M116.9 147.2h0M127.3 154.9h0M135.8 144.8h0M116.8 166.1h0M118.5 147.6h0M149.5 128.7h0M125.9 147.4h0M139.4 133.4h0M124.7 134.5h0M120.2 158.6h0M156 127.2h0M122.4 133.6h0M122.6 142h0M133.6 141.7h0M166.7 126.3h0M157.7 135.7h0M115 157.4h0M113 156.3h0M130 134.2h0M140 132.6h0M143.3 141.7h0M156.4 128.2h0M111.6 160.7h0M135.3 140.9h0M178.1 127.3h0M153.1 126.2h0M147.1 134.5h0M128.1 151.4h0M149.4 130.3h0M125 145.6h0M122 140.9h0M138.5 128.6h0M125.7 148.8h0M159.1 130.1h0M176.5 126.7h0M120.6 136.1h0M136.7 131h0M132.9 138.7h0M117.9 158.9h0M135.8 126.9h0M129.1 153.6h0M111 170.8h0M135.8 139.4h0M118.5 145h0M132.5 145.7h0M130.7 154.7h0M121.5 140.3h0M136.7 129.6h0M126.4 158.3h0M166.9 128.3h0M137.9 147.8h0M132.5 130h0M130.5 130.3h0M163.8 132.8h0M140.9 135.1h0M124.6 138.2h0M165.7 129.1h0M157.4 136.1h0M137.6 149.5h0M149.7 135.9h0M148.7 128.8h0M157.1 126.7h0M166.4 127.3h0M138.4 142h0M131.3 135.5h0M184.1 126.6h0M120.6 164.8h0M107.3 162.8h0M137.9 142.5h0M127.8 133.9h0M160.3 132h0M118.1 142.4h0M134.8 150.5h0M112.1 151.2h0M122.8 159.9h0M166.7 126.6h0M168.5 127.7h0M116.8 165.1h0M142.9 130.1h0M141.6 127.9h0M133.8 148.5h0M180.4 124.9h0M116.1 167.6h0M178.4 127.6h0M140 141.6h0M123.7 161.3h0M112 165.9h0M105.3 160.8h0M147 142.1h0M120.6 138.9h0M115.4 160.1h0M111.3 165.1h0M113.3 156.3h0M117.3 146.8h0M114.7 142.4h0M144.7 138.8h0M128.7 144.6h0M179.1 127.2h0M155.3 131.4h0M170 125.7h0M115.2 160.3h0M114.8 151.4h0M159.6 132.2h0M124.5 156.1h0M116.7 139.5h0M120.7 158h0M135.6 144.7h0M119.2 139.8h0M157.6 127.7h0M140.5 135.4h0M124.8 142.2h0M165.5 126.4h0M128.4 154.7h0M148.1 137.6h0M134.7 133.7h0M111.8 156.7h0M168.9 127.5h0M126.6 156.4h0M173.1 126.1h0M115 144h0M126.9 142.1h0M127.2 147h0M120.7 161.5h0M142.2 129.8h0M165 126.6h0M132.6 138.7h0M154.9 135.6h0M154.8 132.9h0M134.5 129.8h0M142 126.8h0M122.7 163.1h0M129.3 148.6h0M152.3 135.9h0M129.7 151.1h0M146.7 130h0M144.9 137.6h0M132.6 136.1h0M126.3 153.2h0M159.2 125.8h0M153.8 133.5h0M151.5 137.5h0M143.4 134.4h0M136.8 140.7h0M144.4 134.1h0M159.5 134.5h0M112.6 162.1h0M148.2 127.2h0M108 155.3h0M106.8 178.2h0M138.4 139.5h0M116.9 156.9h0M119.1 158.2h0M150.4 137.9h0M140.6 136.3h0M118.8 160h0M117.5 160.1h0M109.2 159.5h0M151.7 135.7h0M143.3 128.9h0M138 147.6h0M167.6 131.5h0M121.3 152.5h0M115.9 158.3h0M135.6 150.3h0M119.8 147.7h0M115.8 164.5h0M116.9 149.1h0M113.2 171.3h0M148.9 140.5h0M123.2 132.6h0M111 151.1h0M135.8 129h0M140 147.2h0M122.2 146.8h0M132.6 151.6h0M120.8 138.3h0M128.7 147.8h0M144 139.1h0M133.1 129.2h0M151 130.5h0M134.7 130.4h0M116.4 150.9h0M133.5 149.8h0M152.7 127.5h0M154.4 131h0M119.2 161h0M169.9 129.2h0M145 129.2h0M132 128.8h0M113.4 142.4h0M107.1 153.8h0M117.1 163h0M118.9 160.9h0M131.6 142.6h0M144.5 126.7h0M131.8 138.1h0M116.5 143.8h0M147.6 140.4h0M148.6 133.2h0M107.4 172.3h0M142.7 139.7h0M182.7 126.5h0M111.3 143.7h0M142.4 137.1h0M185.2 125.2h0M126.8 131h0M116.8 164.7h0M178.3 128.3h0M126.7 136.2h0M115.2 147h0M121.3 137.9h0M114.1 159.2h0M155.9 136.5h0M150.3 126.8h0M138.9 144h0M120.4 164.4h0M122.2 157.5h0M156.2 132.3h0M121.3 158.8h0M115.4 164.3h0M125.1 154.3h0M121.9 138.7h0M124.6 161.2h0M113.2 158.4h0M162.3 133.8h0M140.9 133.9h0M138.3 129.5h0M184.9 126.7h0M131 153.3h0M142.5 127h0M118.2 145.6h0M117.1 158.3h0M117.2 155.8h0M153.7 135.7h0M165.4 128.3h0M112.5 160.6h0M139.3 136.3h0M151.3 131.8h0M108.1 151.1h0M139.6 147.1h0M113.2 167.5h0M135.8 137.5h0M150.6 131.1h0M112.2 165.3h0M140.1 130.8h0M173.1 125.2h0M176.6 127.9h0M153.9 134h0M150.6 132.6h0M117.2 153h0M150.2 136h0M166.9 126.5h0M123.8 144.5h0M132.7 129.1h0M115.2 165.3h0M150.2 129.7h0M133.4 150.3h0M128.2 158.2h0M118.6 162.9h0M149.9 134.6h0M115.1 158.8h0M115.4 145h0M120.2 151.3h0M118.4 150.6h0M148.7 141.6h0M136.7 131.8h0M173.3 127.5h0M122.8 136.4h0M128.5 135.7h0M116.6 144.4h0M136.3 141.3h0M127.9 148.6h0M150.8 134.6h0M134.9 150.9h0M116.4 159.8h0M115.2 148.2h0M150.3 130.2h0M177.2 125.3h0M117 153.8h0M150.6 132h0M145.7 126.6h0M105.3 171.8h0M109.9 168.5h0M119.4 158.3h0M129.5 144.8h0M157.2 126.5h0M176.1 128.6h0M163 132.9h0M119.2 166.1h0M148.5 126.2h0M129.3 152.9h0M118 142.7h0M146.3 136.9h0M173.4 126.7h0M134.6 140.2h0M123.1 154h0M135.7 144.6h0M129.9 139.8h0M154.4 132.9h0M109.8 163.2h0M158.9 131.9h0M133.6 133.2h0M142.9 136.7h0M107.1 176.1h0M117 161.5h0M134 130.6h0M121.4 136.4h0M111.2 160.1h0M118.7 162.1h0M185.8 124.8h0M122.3 153.2h0M139.4 127.5h0M120.4 150.6h0M152.6 130.4h0M135.7 144.7h0M124.6 131.6h0M121.5 152.5h0M165.9 130.8h0M108.3 152.9h0M130.4 129.5h0M137.7 144.5h0M130.6 137.6h0M116.6 160h0M128.1 148.2h0M142.6 126.3h0M128.4 154.8h0M184.6 124.7h0M156.4 128.6h0M176.8 126.4h0M146.5 138.6h0M159.1 135.4h0M122.7 153h0M123.1 159.4h0M129.3 133.4h0M112 162h0M112.4 166.9h0M120.5 141.1h0M156.9 126.9h0M151.9 126.5h0M111.2 159.4h0M143.5 139.3h0M138.9 136.9h0M129.8 138.9h0M176 125h0M122.5 136.9h0M142.7 139.4h0M136 139.4h0M114.3 166.9h0M126 150.1h0M143.2 129.3h0M140 139.1h0M168 128.5h0M144.5 135.4h0M137 146.1h0M114 150h0M138.3 138.1h0M136.4 146.3h0M144.8 135.4h0M114.4 166.7h0M155.5 130.8h0M134.1 144.6h0M122.3 141.9h0M128.9 152.9h0M129.9 140.2h0M122.6 158.1h0M182.1 125h0M129.2 141.9h0M129.5 144.6h0M118.7 165.5h0M163.1 126h0M141.4 139.2h0M133.7 151.8h0M123.9 135.1h0M107.9 157.1h0M109.5 159.3h0M129.2 141.2h0M109.5 168.1h0M138 131.7h0M114.6 160.8h0M156.1 131.4h0M116.6 164.8h0M127.4 146.5h0M140.1 137.6h0M142.8 131.2h0M138.8 142.2h0M139.6 141h0M135.8 146.4h0M174.7 125.6h0M150.2 132.5h0M171 126.5h0M176.8 128.5h0M121.9 144.9h0M176.5 126.6h0M151 135.5h0M149 138.9h0M134.9 136h0M157.1 129.1h0M159.4 125.5h0M180.7 125.6h0M130.3 141.9h0M124.5 148.2h0M138.1 132.4h0M105.7 177.5h0M153.4 127h0M142 145.9h0M118.5 158.1h0M165.6 129.5h0M157.6 135.6h0M177.1 125.6h0M119.8 144.7h0M109.5 153.2h0M156.4 127.6h0M123.6 136h0M116.2 161.9h0M140 133h0M116.8 167.5h0M114.7 168.9h0M110.1 169.2h0M126.3 156.8h0M142.9 142.3h0M171 127.8h0M120.7 154.2h0M118.7 148.5h0M131.5 136.4h0M125.9 132.5h0M152.4 133.8h0M176.9 128.6h0M145.8 141.8h0M172.2 127.5h0M144.6 143h0M122.7 143.4h0M152.2 127.3h0M128.4 152.2h0M153.6 133.1h0M156.1 129.7h0M177.7 125.4h0M126.3 157.9h0M114.3 158.9h0M109.6 164.8h0M123.5 145.5h0M125.9 147.5h0M128.1 145.5h0M132.4 141.1h0M150 138h0M127.2 146.8h0M127.6 155.5h0M164.9 127.1h0M109.5 171.7h0M124.1 155.3h0M152.3 130h0M147.9 130.7h0M115.2 161.5h0M176 125.9h0M109.9 172.9h0M125.5 151.1h0M127.7 139h0M110.4 163.4h0M112.6 158h0M131.5 154.1h0M143.8 130.5h0M127.4 150.4h0M136.8 140.4h0M134.3 149.2h0M141.6 132.7h0M166.7 126.4h0M131.1 133.9h0M135.9 134.1h0M120.7 148.2h0M117.6 161.3h0M131.9 139.7h0M106.8 168.5h0M121.2 146.8h0M114.6 164.4h0M126.2 157h0M127.3 134.6h0M129.8 134.3h0M184 124.7h0M152.7 136h0M124.7 138.6h0M144.1 137.5h0M109.7 153.4h0M112.1 150h0M149 133.1h0M118.7 151.3h0M120.4 161.5h0M144.1 133.4h0M106.9 175.2h0M122.9 144.4h0M115.5 160.9h0M120 139.6h0M123.9 161.7h0M154.8 131.1h0M125.2 139.4h0M140.1 140.2h0M115.3 153.2h0M158.2 131.2h0M123.4 142.9h0M136.4 132.4h0M109.1 173h0M117.4 153.3h0M175.3 125.1h0M133.4 143.3h0M165.4 126.1h0M181.9 127.6h0M136.4 140.1h0M148.7 125.8h0M163.3 127.8h0M134.5 134.7h0M164.3 129.6h0M130.5 145.7h0M151.6 129.7h0M126.2 156.6h0M125.9 131.3h0M149.8 133.3h0M129.3 134.7h0M137.4 139h0M119.4 147.2h0M172.1 127.8h0M117.4 139.7h0M143.2 129.9h0M153.3 137.4h0M144.7 127.3h0M135.3 133.2h0M135.1 143.2h0M132 145.4h0M120.2 144.8h0M143.1 130h0M119.2 163.2h0M140.5 141.3h0M120.6 144.2h0M132.4 134.6h0M178.2 125.4h0M168.1 129.3h0M127.3 141.5h0M162.9 129.4h0M153.8 128.8h0M164.7 125.6h0M130 147.3h0M148.9 138.3h0M108.2 175.8h0M130.6 141.3h0M124.5 131.7h0M186 125h0M135.3 132.4h0M112 158.5h0M158.8 129.2h0M122.1 145.3h0M122.9 135.5h0M158.6 132.5h0M111.3 168h0M120.4 159h0M174.5 125.3h0M121.2 135.1h0M129.1 141.5h0M122.3 146.5h0M138.3 135.5h0M177.9 127.7h0M140.7 132.5h0M112.1 159.9h0M121.8 141.3h0M109.5 173.6h0M174.3 125.7h0M123.6 143h0M119.6 138.2h0M139.2 127.8h0M165.2 129.5h0M151.7 128.8h0M127.4 159.1h0M124.2 146h0M149.8 139h0M144.6 140h0M137.3 131.6h0M150.9 139.2h0M129.8 153.6h0M130.4 155.9h0M132.9 129.5h0M147.5 141h0M173.8 125.5h0M149.2 129.4h0M132.3 132.3h0M115.6 153.3h0M134.2 142.6h0M107.9 148.6h0M153.7 131.8h0M174.1 127.5h0M169.3 129.5h0M139.7 129.6h0M147 141.8h0M122.8 162h0M150.6 130.9h0M180.3 127h0M129.5 135.6h0M127.8 141.7h0M106 179h0M118.7 164.1h0M151.5 131.2h0M128.6 147.3h0M128.9 145.4h0M128.8 141.8h0M126.1 132.2h0M151.4 128.9h0M120.5 138.6h0M112.2 161.6h0M134.5 143h0M141.7 126.4h0M137.9 148.3h0M138.2 140.6h0M176.5 126.7h0M113.6 143.5h0M162.2 128.6h0M119.4 136.1h0M140.7 136.9h0M122.3 155.4h0M133.4 138.9h0M119.3 156.8h0M148.1 129.2h0M113 146.6h0M172 126h0M142.2 133.1h0M125.3 147.8h0M157.7 129.5h0M132.1 141.6h0M172.1 125.5h0M121.6 144h0M160.9 125.5h0M134.1 149.8h0M177.3 126.9h0M149.5 129.9h0M109.3 149.4h0M123.3 140.6h0M144.1 132.5h0M132.6 141.8h0M115.4 165.7h0M119.5 163.2h0M171.6 130h0M143.8 139.3h0M128.5 145.2h0M120.4 153.4h0M145.6 136h0M152.8 130.3h0M147 142.7h0M111 160.2h0M142.7 131.5h0M125.6 142.7h0M130.6 132.5h0M139.4 128.8h0M109.5 145.8h0M164.6 125.7h0M140.3 133.7h0M116.3 156.9h0M134.7 138.3h0M147.7 131.1h0M122.5 133.6h0M114.7 146.5h0M144.8 134.7h0M172.4 129.4h0M117.6 161.6h0M118.8 140.5h0M124.5 152.5h0M111.6 149.3h0M126.4 132.2h0M138.3 133.4h0M120.5 144.1h0M147.3 129.9h0M128.8 157h0M113.7 147.3h0M139.6 145h0M119.8 147.1h0M124.7 157.3h0M169.1 126.7h0M158.2 131.4h0M153.6 133.3h0M124.6 137h0M160.3 129.3h0M157.3 133.4h0M145.2 131.9h0M108.3 155.5h0M127.6 136.9h0M114.2 157.9h0M154.3 138.3h0M184.4 124.8h0M153.3 131.3h0M155.5 137.1h0M125.9 134.7h0M126 136h0M156.5 125.7h0M133.4 145.5h0M122.8 161h0M141.5 143.7h0M122.6 161.1h0M145.4 143h0M133 146.6h0M133.6 148h0M145.6 142.4h0M143.5 140.7h0M151.3 127.3h0M159.4 130.4h0M131.1 145.7h0M127.9 145.5h0M184 125.5h0M140.6 131.4h0M115.5 163.9h0M123.3 136.2h0M158.1 125.9h0M170 126.9h0M154.1 137.2h0M108.7 158.3h0M114.2 158.2h0M145.2 129.5h0M112.6 166.4h0M123.2 148.1h0M138.2 130.2h0M117 149.1h0M142.1 137.8h0M112.6 161.9h0M110.8 156.8h0M131.2 151.6h0M128 151.9h0M139.9 136.1h0M127.6 158h0M113.5 144h0M159.1 129.3h0M171.7 126.9h0M117.6 139h0M131.7 129.1h0M170.8 125.2h0M172.8 127h0M110.3 170.9h0M132.9 130.3h0M130 138.5h0M109.8 170.7h0M172.7 128.6h0M149.7 133.1h0M168.7 125.3h0M116.8 153.6h0M151.1 128.9h0M155 128.4h0M159.7 130.8h0M112.7 160.9h0M132.6 140.1h0M145.2 137.8h0M145.2 143.8h0M125 158.9h0M161.6 129h0M138.8 147.8h0M127.7 144.8h0M125.6 149.7h0M136.8 149.9h0M178.6 126.7h0M143.7 126.2h0M142.5 143.6h0M169.6 129.7h0M120.6 142h0M125.5 133.9h0M114.9 141.7h0M134.8 142.1h0M172 129.4h0M106 173.5h0M117.9 163.6h0M172 126.9h0M144.4 131.7h0M138 140.6h0M133.4 131.4h0M141.4 137.1h0M119.4 161h0M169.9 129.3h0M145.3 135.9h0M117.7 165h0M139.6 138.2h0M129.5 150h0M124.9 151h0M123.4 148.2h0M110.1 157.9h0M116.7 159.4h0M144.3 137.1h0M182.6 126.6h0M138.1 135.4h0M127.4 151.8h0M153.6 131.9h0M135.7 144.8h0M151.9 128.6h0M144.2 130.2h0M153.8 130.4h0M123.2 144.5h0M127 138.4h0M168.6 130.4h0M145 127.7h0M143.3 143.8h0M111.8 170h0M145 138.6h0M115.3 159.7h0M156.1 133.5h0M135.9 144.4h0M139 135.3h0M142.2 141.5h0M176.4 125.9h0M136.4 129.8h0M105.1 162h0M113.4 148.4h0M137.3 142.1h0M117.8 156.7h0M129.1 146.2h0M115.9 143.5h0M116.1 151.9h0M114.9 169.3h0M132.2 136.2h0M130.7 143.5h0M154.2 129.6h0M121.6 135.9h0M166.5 130h0M138.9 138.8h0M129.7 143.4h0M134.2 132.6h0M130.4 150.4h0M184.8 125.7h0M134.1 128.3h0M132 138.3h0M122.5 140.4h0M174.6 127.3h0M161.4 125.4h0M161.2 129.1h0M112.1 155.2h0M132.7 140.7h0M135.1 128.5h0M123 152.2h0M125.3 138.6h0M129.6 141.2h0M156.4 130.6h0M134.4 132h0M135.2 132.6h0M168.8 130.1h0M172.8 127.9h0M140 128.3h0M160.8 128.3h0M121.1 137.2h0M172.7 126.4h0M127.1 143.2h0M112.7 153.9h0M126.7 131.1h0M131.2 151.9h0M114 161.2h0M121 155.3h0M107.7 160.4h0M114 141.6h0M139.9 138.5h0M152.5 135.8h0M145.7 138.1h0M130.3 151.8h0M120.9 146.3h0M132.4 146.9h0M123.5 132.6h0M121.8 160.5h0M181.9 126.4h0M177.1 125.4h0M179.3 126.2h0M138.6 144h0M125.3 156.9h0M180.6 126.6h0M158.3 126.1h0M181.9 127.6h0M127.7 137.6h0M149.2 130.9h0M126.6 137.7h0M142.8 142.3h0M121.7 148.2h0M157.5 125.8h0M126 147.5h0M140.4 134.7h0M112.3 161.1h0M109.6 161.7h0M127.1 159h0M146.2 133.5h0M163.9 126h0M137.6 133.3h0M125.2 139.2h0M139.4 147.2h0M123.1 133.9h0M128.9 155.2h0M124.9 158.3h0M115.9 158.4h0M132.2 136h0M148.7 134.6h0M143.7 132.7h0M111.3 173.5h0M164.8 130.3h0M130 152.2h0M120.6 141.2h0M125.8 152.7h0M146.1 141.5h0M114.5 153.8h0M124.6 139.3h0M123.6 152.2h0M112.7 168.7h0M110.6 144.8h0M155.9 135.7h0M163.3 127h0M123.8 156.6h0M116.3 151h0M115.3 153.2h0M170.1 127.1h0M139.4 137.6h0M145.7 129h0M107.5 163.4h0M141.3 127.8h0M124.3 156.1h0M148.5 127.4h0M120.8 162.8h0M134.2 128.7h0M108.8 154.9h0M120 153.7h0M128.8 140.2h0M169.4 127.4h0M121.4 140.7h0M162.1 129.7h0M175.5 128.9h0M111.7 145.3h0M149.7 133.2h0M133 140.1h0M140.9 133.6h0M134.1 132.4h0M108.8 169.2h0M108.6 171.2h0M133.4 141.9h0M161.7 127.4h0M124 141.4h0M129.7 145h0M169.8 129.1h0M133.2 145.2h0M144.2 127.1h0M170.7 126.6h0M174.3 125h0M122.3 154.5h0M143.7 139h0M112.8 160.9h0M161.7 125.2h0M143.2 130.9h0M120.4 155.8h0M164.1 132.8h0M162.1 129.6h0M131.5 153.6h0M131.8 153.3h0M122.7 139.2h0M115.3 150.4h0M124.5 137.7h0M125.6 154.5h0M137.2 141h0M136 136.7h0M147 141.2h0M110.8 165.1h0M155.9 134.4h0M130.9 143.2h0M124.3 133.1h0M132 151.2h0M107.1 171.1h0M135 146.4h0M125.3 147.1h0M140.8 146.5h0M135.8 143.4h0M135.1 136h0M159.9 128.5h0M139.4 131.4h0M114.7 144.1h0M135.2 135.2h0M115.4 141.4h0M167 126.3h0M146.6 142h0M150.3 132.9h0M133 152h0M150.7 139.1h0M112.6 150.7h0M134.6 135.1h0M151.2 130.9h0M120.3 141.7h0M140.6 134.2h0M132.9 146.9h0M144.5 132.8h0M135 127h0M123.1 152.4h0M112.3 171.3h0M114 169.9h0M119 163.8h0M141.2 135.6h0M176.2 127.4h0M127.8 158.3h0M113.8 144.9h0M137.9 149.2h0M161.4 127.3h0M129 141.4h0M135.8 149.8h0M163.5 131.7h0M130.7 139.4h0M121.7 145.6h0M151.5 126.6h0M129.2 150.6h0M129.9 148.2h0M136.2 148.5h0M137 132.1h0M134.1 127.7h0M172 129.1h0M136.7 140.3h0M114.1 152.2h0M105.8 174h0M121.4 143.3h0M148.7 140h0M118.4 148.5h0M157.9 133.1h0M181.7 126.5h0M131 155.1h0M113.8 149.9h0M146.1 142.1h0M153 125.7h0M143.8 127.7h0M123 139.6h0M134.9 147.9h0M126.9 135.9h0M145.4 135.8h0M119.5 135.7h0M134 150.4h0M173.4 126h0M130.1 141.3h0M124.4 152.4h0M163.3 131.4h0M119.6 141.6h0M116.5 138.1h0M116.5 159.5h0M160.5 134.5h0M120.1 159.5h0M108.7 171.5h0M119.6 148.3h0M165.5 132.2h0M144.9 133.6h0M139.5 143.5h0M112.9 145.9h0M157.6 127.4h0M114 141.1h0M111.3 159h0M130.3 149.1h0M129.3 143h0M115.4 149.1h0M121.1 137.2h0M184.6 127.3h0M108.6 173.9h0M162.9 128.1h0M157.7 135.9h0M116 153.1h0M108.7 162.5h0M115.6 146.8h0M113.9 163h0M164.2 131.8h0M120.2 154.2h0M143.5 135.2h0M140.4 127h0M123.1 136.1h0M105.5 169.7h0M146.1 128.1h0M141.9 130.1h0M168.6 127.8h0M143.5 142.4h0M107.8 162h0M116.7 138.1h0M140.8 143.1h0M110.8 167.9h0M127.9 150.7h0M128.1 131.4h0M132.4 145.9h0M148 134.3h0M144.6 139.1h0M115.8 153.2h0M112.1 144.7h0M140.4 140h0M142.1 134h0M135.5 140.1h0M132.3 154.3h0M111.7 150.9h0M130.9 155.2h0M150.4 127h0M131.9 146.7h0M128.8 145.5h0M109.5 146.1h0M158.5 129.3h0M115.1 146.7h0M143.5 143.2h0M145.2 143.9h0M170.6 146.3h0M145 173.8h0M163.8 134.9h0M174 138.1h0M201.3 130.3h0M145.3 154.6h0M182.5 149.2h0M182.3 158.1h0M126.6 166.7h0M128.6 160.7h0M133.3 154.6h0M118.7 178.9h0M170.8 136.9h0M158.4 157h0M130.1 176.6h0M109.9 180.7h0M122.4 173.7h0M203 138.1h0M130.5 158.2h0M149.2 147h0M133.8 157.7h0M163.7 145.8h0M197.8 130.9h0M121.2 168.2h0M122.5 176.7h0M156.2 139.2h0M140.3 162.5h0M179.5 134.4h0M164.6 147.5h0M154.8 142.3h0M184.4 130.5h0M136.4 169.6h0M109.4 176.3h0M127.4 163.3h0M140.7 149.1h0M129.2 167.6h0M139.2 154.5h0M141.3 149.9h0M136.7 153.1h0M120 167h0M176.7 136.4h0M134.3 158.4h0M183.4 149.3h0M122.7 182.1h0M126.8 162.8h0M153.3 170.9h0M210.2 144.1h0M129.5 158.3h0M119.2 168h0M117.1 171.4h0M184.5 166h0M127.1 170.8h0M173.2 138.9h0M114 177.2h0M166.1 134.3h0M131.5 159.5h0M175.8 150.4h0M167.8 143.5h0M152.4 140.9h0M144.5 147.8h0M111 184.7h0M122.3 172.5h0M117.5 169.7h0M130 159.6h0M162 146.6h0M118.9 170.1h0M140 151.2h0M139.9 151.9h0M174.1 153.3h0M139.5 166.8h0M128.3 162.6h0M179.1 168.4h0M144.7 161.9h0M140.2 149.7h0M147.5 149.9h0M201.1 160h0M152.3 140.5h0M139.7 167h0M120.8 165.8h0M131.8 159.1h0M121.2 179.9h0M175.2 150.5h0M132.4 155h0M110.4 179.7h0M160.4 140.5h0M160.5 153.6h0M181.4 129.2h0M119.2 167.3h0M162.9 141.6h0M135.8 153.8h0M152.7 146.3h0M153.6 161.9h0M125.6 164h0M134.1 155.2h0M149.2 150.4h0M157.3 139.3h0M161.6 144.3h0M146.1 156.2h0M202.2 142h0M133.5 155.2h0M118.3 168.2h0M113.1 174.6h0M204.2 134.1h0M187.1 139.8h0M122.2 184.1h0M124.1 178.4h0M154.7 145.4h0M168.1 136.5h0M120.3 169.8h0M149.3 143.2h0M168.6 164.5h0M182.9 136.6h0M121.3 174.4h0M162.1 137.5h0M163 136.2h0M113.6 176.4h0M112.6 175.3h0M210.3 134.9h0M169.9 135.1h0M123.1 174.2h0M160.5 148.7h0M146.3 145.7h0M181 161.8h0M168.6 137.2h0M151.8 144.1h0M160.7 145.5h0M142.8 149.3h0M126.9 176.2h0M140.5 149.4h0M170.1 134h0M155 149.4h0M162.9 143.4h0M134.4 160.5h0M149.2 142.9h0M122.9 164.4h0M147.4 144.2h0M154.3 148.8h0M123.6 173.7h0M146.1 149.8h0M128 159.7h0M111.2 177.6h0M116.5 170.7h0M130.7 162.8h0M117.6 168.7h0M144.2 145.7h0M152.9 144.5h0M132.2 160h0M145.3 146.7h0M195 151.9h0M165.1 140.4h0M114 174.8h0M142.5 168.8h0M128 161.4h0M137.3 153.9h0M154.9 139.5h0M135.3 154.7h0M153.9 142.5h0M178.2 134h0M135.7 158.1h0M153.3 141h0M141.4 148.2h0M126 170.2h0M132.3 155.1h0M111.4 175.7h0M133.3 169.3h0M128.4 161.3h0M165.1 153.1h0M145.4 169.1h0M153.3 169.1h0M158.8 139.7h0M201.3 143.1h0M130.8 157.8h0M117.6 172.9h0M149.5 151.7h0M180.5 142h0M136.1 159.7h0M143.1 146.8h0M194.8 169.4h0M123.2 165.3h0M126 165.7h0M130.3 162.9h0M158.8 140.7h0M144.3 147.8h0M124.1 163.6h0M138.1 163.6h0M155.2 144.6h0M145.3 163.2h0M157.2 140.1h0M211.7 145.5h0M204.5 129.6h0M144.3 163.5h0M128 165.2h0M173.1 132.3h0M160.4 142.9h0M160.8 146.8h0M160.6 136.7h0M133.6 167.4h0M119.8 170.6h0M140 168.4h0M161.3 137.4h0M147.8 156.2h0M123.5 169h0M139.8 161.7h0M167.2 141.4h0M132.7 156h0M170.1 142.4h0M118.1 170.1h0M163.7 135.1h0M164 166.9h0M154.6 140.5h0M168 153.5h0M155 154.7h0M149 154h0M139.4 149.2h0M148.2 174.4h0M127.9 160.7h0M189 145.7h0M120.4 178.5h0M122.1 171.8h0M161.3 137.7h0M142.9 151.4h0M129.2 159.9h0M114 171.7h0M126.8 164.2h0M188.8 143.2h0M125.5 162.8h0M165 150h0M115.3 171h0M134.7 158.9h0M186.8 137.6h0M142.2 169.6h0M167.5 181.7h0M166.9 133.6h0M115.5 172.1h0M156 156.7h0M208.2 181.8h0M190.1 129.2h0M170.8 133.5h0M116.4 173.5h0M164.2 141.7h0M150 151.4h0M138.7 163.2h0M178.4 137.2h0M163.1 158h0M166.1 136.7h0M133.5 158.5h0M135.9 154.9h0M132.5 164.7h0M115.4 171.4h0M133.2 163.9h0M165 151.4h0M146.1 145.8h0M140.5 155.8h0M187.1 132.3h0M156.8 145h0M118.8 168h0M177.6 168.4h0M121 165.6h0M165.6 139.7h0M126.3 173h0M129.1 168.4h0M183.4 141h0M129.9 158.9h0M192.8 136.1h0M169 137.4h0M136.7 166.5h0M200.3 133.9h0M128.6 165.1h0M181.7 155.7h0M160.8 157h0M163 138.8h0M119.2 183h0M155.9 156h0M124.6 162.7h0M153.3 140.9h0M134.1 156.5h0M125.8 162.1h0M158.8 159.7h0M121.9 165.2h0M146.3 144.9h0M160 144.6h0M143.8 153.1h0M123 165.8h0M191.7 157.9h0M209.3 134h0M116.1 176.9h0M148.3 145.3h0M182.7 134.3h0M182 128.7h0M120.9 170.8h0M131.3 172.7h0M166 141.3h0M137.9 164h0M126.4 176h0M138 154.1h0M178.2 130.4h0M127.1 164.5h0M140 153h0M126.7 171.5h0M144.5 145.7h0M184 172.2h0M121.6 173.5h0M151.5 141h0M168.9 163h0M122.2 169.2h0M140.4 153.8h0M137.2 151.7h0M203.6 129h0M130.2 162.6h0M123.8 166.5h0M128 162.6h0M136.5 180h0M150.1 150.8h0M182.8 169.4h0M157.6 144.4h0M142.6 152.4h0M146.4 149.8h0M139.9 160.7h0M134.7 163.7h0M152.5 140.3h0M137.5 173.2h0M142.2 178.3h0M114.5 172.9h0M153.6 172.8h0M131.1 159.1h0M143.4 166.2h0M118.7 172.2h0M163.4 136h0M175.1 162.7h0M117 170.9h0M137.7 168.2h0M137.1 162.9h0M135.4 155.4h0M189.8 129.4h0M145.1 153.6h0M206.4 128.6h0M116.5 171.6h0M181.7 143.6h0M131.2 158.9h0M122.1 166.2h0M123.6 170.4h0M179.2 133.6h0M188.6 150.8h0M137.2 159.4h0M149.8 149.1h0M124.6 166.9h0M129 178.8h0M144.1 157.4h0M118.3 175.1h0M155.3 141.8h0M142.7 147h0M161.3 154.6h0M122.7 173.6h0M181.7 130.4h0M186 142h0M142.3 156.5h0M171.3 172.9h0M198.3 174.7h0M124.8 177.2h0M168.2 145h0M179.8 143.9h0M137.2 161.5h0M166.4 161.9h0M126.1 171.2h0M132.5 156h0M154 144.4h0M176.2 135.8h0M190.9 158.8h0M114.3 176.3h0M118.5 185h0M135.1 161.5h0M132.7 159.6h0M168.3 135.2h0M161.6 145.2h0M162.8 151.8h0M119.4 166.8h0M167.3 140h0M206.2 136.7h0M165.9 143.3h0M122.8 174.3h0M148.6 143h0M142.9 168h0M143.1 148h0M144 166.6h0M116.7 176.9h0M140.4 150.9h0M156.8 139.8h0M139.7 157.2h0M170.6 136.3h0M204.2 145.5h0M138.3 153.4h0M161.6 140.4h0M137.7 160.9h0M153.5 141.8h0M167.3 133.5h0M130.5 159.7h0M154.1 144.5h0M130.6 163h0M121.1 172.7h0M116.1 174.8h0M165.3 138.4h0M115.1 177.7h0M177.8 133.1h0M125.8 167.1h0M133.6 155.7h0M136.4 152.9h0M129.2 159.9h0M164.5 146.4h0M156.9 137.9h0M183.9 129.5h0M149.7 152.4h0M130.9 168.2h0M183.3 138.4h0M130 175.2h0M128.4 160.7h0M135.8 157.5h0M194.4 162.3h0M156.5 142h0M170.2 143.9h0M147.3 147.1h0M129.2 161h0M175.4 142.1h0M175.2 138.9h0M118.2 169.6h0M117.1 169.7h0M159.4 138.6h0M154.6 139.2h0M137.1 152.8h0M117.8 171h0M166.1 134.3h0M147.4 155.6h0M124.3 166.4h0M130.4 158.7h0M133.7 166.5h0M136.5 166.1h0M128.5 162.6h0M141.1 148.7h0M119.6 168.2h0M125.1 172.1h0M136.9 151.6h0M134.8 153.6h0M134.8 167.3h0M149.5 147.7h0M166.3 154.2h0M127.2 160.7h0M156.4 139.1h0M156.7 145.6h0M163.8 162.1h0M186.3 143.8h0M210.4 173.2h0M204.6 146.6h0M135.5 153.3h0M116.9 176.5h0M166.1 133.9h0M136.8 174.6h0M137.5 158.5h0M123.8 167.7h0M128.1 167.3h0M127.9 163.1h0M136.5 160.6h0M179.5 137.7h0M122.7 166.7h0M148.5 146.9h0M185.7 135.4h0M118.2 180.5h0M134.4 163.6h0M158.2 140.7h0M170.4 154.8h0M146.8 157.7h0M198.4 129.6h0M179.2 155.6h0M205.3 178.7h0M178.1 130.9h0M202.9 139.6h0M142.3 146.8h0M137.1 151.7h0M151.2 144.1h0M122.9 166.1h0M142.3 161h0M156.8 158.3h0M135.7 160.3h0M116 170.9h0M121 173.7h0M199.4 142.9h0M150.3 166h0M126.8 170.2h0M159.7 141.7h0M168.8 147h0M154.6 143.4h0M172.9 161.5h0M124.9 163.3h0M139 154.1h0M134.4 166.9h0M130.9 156.5h0M125.6 163.8h0M128.3 162h0M143.9 153.3h0M158.3 138.5h0M181.2 129.9h0M135.6 161.4h0M162.7 153.6h0M142.8 173.6h0M142.8 154.5h0M129.3 169.4h0M154.3 159h0M146.2 144.4h0M130.9 159.1h0M176.5 135.6h0M137.3 156.1h0M143.5 174.9h0M148.7 169.4h0M137.3 158.9h0M153.5 156.6h0M133 158.4h0M114.2 181.8h0M155.9 139.5h0M146 144.6h0M154.6 140.8h0M120.8 171.1h0M116.9 179.6h0M178.7 158.6h0M193.9 173h0M116.7 177.9h0M146.6 166h0M152.4 148.3h0M141.9 154.1h0M197.3 130.2h0M120.5 166.2h0M155.6 166.5h0" stroke="#D00000" stroke-width="1.3" stroke-linecap="round" fill="none"/>
<path d="M51 35.8l1.25 -2.2l1.25 2.2zM59.8 35.8l1.25 -2.2l1.25 2.2zM65 35.8l1.25 -2.2l1.25 2.2zM68.2 35.8l1.25 -2.2l1.25 2.2zM70 35.8l1.25 -2.2l1.25 2.2z" fill="#222"/>
<line x1="72" y1="34.9" x2="95" y2="34.9" stroke="#333" stroke-width="1.3"/>
<line x1="95" y1="34.9" x2="124" y2="34.9" stroke="#D00000" stroke-width="1.3"/>
<path d="M120.2 35.8l1.25 -2.2l1.25 2.2zM123.2 35.8l1.25 -2.2l1.25 2.2zM125.8 35.8l1.25 -2.2l1.25 2.2zM128.8 35.8l1.25 -2.2l1.25 2.2zM132.2 35.8l1.25 -2.2l1.25 2.2zM135.8 35.8l1.25 -2.2l1.25 2.2zM138.8 35.8l1.25 -2.2l1.25 2.2zM142.4 35.8l1.25 -2.2l1.25 2.2zM191.4 35.8l1.25 -2.2l1.25 2.2z" fill="#D00000"/>
<path d="M48 187.8l1.25 -2.2l1.25 2.2zM56.6 187.8l1.25 -2.2l1.25 2.2zM62 187.8l1.25 -2.2l1.25 2.2zM64.8 187.8l1.25 -2.2l1.25 2.2zM67 187.8l1.25 -2.2l1.25 2.2zM69 187.8l1.25 -2.2l1.25 2.2zM71 187.8l1.25 -2.2l1.25 2.2z" fill="#222"/>
<line x1="73.5" y1="186.9" x2="95" y2="186.9" stroke="#333" stroke-width="1.3"/>
<line x1="95" y1="186.9" x2="123.6" y2="186.9" stroke="#D00000" stroke-width="1.3"/>
<path d="M125.8 187.8l1.25 -2.2l1.25 2.2zM128.8 187.8l1.25 -2.2l1.25 2.2zM132.8 187.8l1.25 -2.2l1.25 2.2zM135.8 187.8l1.25 -2.2l1.25 2.2zM139.8 187.8l1.25 -2.2l1.25 2.2zM143.8 187.8l1.25 -2.2l1.25 2.2zM148.2 187.8l1.25 -2.2l1.25 2.2zM153.8 187.8l1.25 -2.2l1.25 2.2zM158.2 187.8l1.25 -2.2l1.25 2.2zM162.6 187.8l1.25 -2.2l1.25 2.2z" fill="#D00000"/>
<line x1="42.5" y1="111.3" x2="226.8" y2="111.3" stroke="#F02828" stroke-width="1.15"/>
</g>
<rect x="42.5" y="29" width="184.3" height="163.7" fill="none" stroke="#2a2a2a" stroke-width="0.75"/>
<line x1="45.2" y1="192.7" x2="45.2" y2="195.8" stroke="#333" stroke-width="0.6"/>
<text x="45.2" y="204.6" font-size="5.1" text-anchor="middle" fill="#1a1a1a" stroke="#1a1a1a" stroke-width="0.18">1e&#8722;01</text>
<line x1="103.7" y1="192.7" x2="103.7" y2="195.8" stroke="#333" stroke-width="0.6"/>
<text x="103.7" y="204.6" font-size="5.1" text-anchor="middle" fill="#1a1a1a" stroke="#1a1a1a" stroke-width="0.18">1e+01</text>
<line x1="162.2" y1="192.7" x2="162.2" y2="195.8" stroke="#333" stroke-width="0.6"/>
<text x="162.2" y="204.6" font-size="5.1" text-anchor="middle" fill="#1a1a1a" stroke="#1a1a1a" stroke-width="0.18">1e+03</text>
<line x1="220.7" y1="192.7" x2="220.7" y2="195.8" stroke="#333" stroke-width="0.6"/>
<text x="220.7" y="204.6" font-size="5.1" text-anchor="middle" fill="#1a1a1a" stroke="#1a1a1a" stroke-width="0.18">1e+05</text>
<line x1="39.5" y1="52.2" x2="42.5" y2="52.2" stroke="#333" stroke-width="0.6"/>
<text x="35.6" y="52.2" font-size="5.0" text-anchor="middle" fill="#1a1a1a" transform="rotate(-90 35.6 52.2)" stroke="#1a1a1a" stroke-width="0.18">4</text>
<line x1="39.5" y1="81.6" x2="42.5" y2="81.6" stroke="#333" stroke-width="0.6"/>
<text x="35.6" y="81.6" font-size="5.0" text-anchor="middle" fill="#1a1a1a" transform="rotate(-90 35.6 81.6)" stroke="#1a1a1a" stroke-width="0.18">2</text>
<line x1="39.5" y1="111.3" x2="42.5" y2="111.3" stroke="#333" stroke-width="0.6"/>
<text x="35.6" y="111.3" font-size="5.0" text-anchor="middle" fill="#1a1a1a" transform="rotate(-90 35.6 111.3)" stroke="#1a1a1a" stroke-width="0.18">0</text>
<line x1="39.5" y1="140.1" x2="42.5" y2="140.1" stroke="#333" stroke-width="0.6"/>
<text x="35.6" y="140.1" font-size="5.0" text-anchor="middle" fill="#1a1a1a" transform="rotate(-90 35.6 140.1)" stroke="#1a1a1a" stroke-width="0.18">&#8722;2</text>
<line x1="39.5" y1="168.7" x2="42.5" y2="168.7" stroke="#333" stroke-width="0.6"/>
<text x="35.6" y="168.7" font-size="5.0" text-anchor="middle" fill="#1a1a1a" transform="rotate(-90 35.6 168.7)" stroke="#1a1a1a" stroke-width="0.18">&#8722;4</text>
<text x="134.7" y="217.8" font-size="5.4" text-anchor="middle" fill="#222" stroke="#222" stroke-width="0.13">mean of normalized counts</text>
<text x="21.3" y="110.8" font-size="5.3" text-anchor="middle" fill="#222" transform="rotate(-90 21.3 110.8)" stroke="#222" stroke-width="0.13">log<tspan font-size="3.7" dy="1">2</tspan><tspan dy="-1"> fold change</tspan></text>
<text x="365.8" y="13.5" font-size="5.7" text-anchor="middle" font-weight="bold" fill="#111" stroke="#111" stroke-width="0.13">BT_20_Lv143 -vs- BT_20_chendianPDS08</text>
<text x="365.8" y="20.2" font-size="5.7" text-anchor="middle" font-weight="bold" fill="#111" stroke="#111" stroke-width="0.13">pvalue &lt; 0.05 &amp;&amp; |log2FC|&gt; 1</text>
<line x1="352.5" y1="26.7" x2="352.5" y2="203.3" stroke="#9a9a9a" stroke-width="0.65"/>
<line x1="359.6" y1="26.7" x2="359.6" y2="203.3" stroke="#b5b5b5" stroke-width="0.65"/>
<line x1="367.1" y1="26.7" x2="367.1" y2="203.3" stroke="#9a9a9a" stroke-width="0.65"/>
<line x1="282.6" y1="196.3" x2="448.9" y2="196.3" stroke="#b0b0b0" stroke-width="0.6"/>
<path d="M352.7 179L359.5 196.6L367.1 180.5V197.5H352.7Z" fill="#808080"/>
<path d="M352.4 197.4V189L348 190.5L339.7 192.5L331.4 193.5L323.1 194.8L314.8 195.5L306 196.6L304 197.4Z" fill="#10E010"/>
<path d="M367.2 197.4V186L372.8 189L381 192.5L389.3 193.8L397.6 195L405.9 196L410 196.8L413 197.4Z" fill="#EE1111"/>
<path d="M318.4 192.5h0M322.7 196.2h0M327.2 187.1h0M338 195.3h0M307.2 194.2h0M347.5 184.9h0M304.9 196.6h0M313.9 192.6h0M346.6 193.5h0M307.5 195.6h0M337.1 188.1h0M337.2 197.2h0M345.1 188.8h0M319.6 192.3h0M337.7 194.2h0M318.2 195.6h0M321.9 192.8h0M331.5 192.1h0M347.3 193.7h0M326.6 194.1h0M352.3 192.2h0M309.6 193.5h0M330 192.1h0M316.2 195.1h0M327.1 197h0M326.4 187.5h0M322.8 196.4h0M329.4 193.2h0M309.7 197.1h0M352.3 194.5h0M341.8 183.9h0M330.8 189h0M351.8 192.7h0M340 188h0M320.2 192.4h0M344.3 193.8h0M338.1 193.2h0M319.7 190.2h0M317 196.1h0M318.1 197h0M349.5 183.2h0M342.6 184.4h0M323.9 191.3h0M328.9 187.1h0M315.3 196.9h0M305.4 195.8h0M343.7 183.3h0M309.8 193.2h0M322.1 197.1h0M344.5 183.8h0M304.5 196.6h0M319.7 196.1h0M320.4 194.1h0M351.1 192.9h0M330.7 191.2h0M324 193.8h0M329.1 192.6h0M319.2 197.1h0M329.5 190.2h0M351.5 180.6h0M327 187.5h0M347.8 189h0M313.2 191.4h0M324.1 193.7h0M320.7 193.3h0M332.4 188.5h0M309 197.1h0M323.3 189.3h0M340.3 193.3h0M330.6 196.7h0M317 193.5h0M325.4 189.6h0M352.2 192.3h0M338.3 188.5h0M340.6 192.7h0M352.1 187.1h0M308.4 197h0M328.9 194.6h0M306.3 194h0M346.8 180.4h0M343 186.1h0M345.1 191.8h0M351.4 190.2h0M338.6 196.7h0M352.3 196.8h0M312.3 194.6h0M309.9 194.6h0M331.1 192.3h0M318.5 194.4h0M316.8 194.2h0M349.7 188.3h0M352.1 188h0M339.7 187h0M304.5 196.9h0M328.4 188h0M324.3 194.8h0M338.2 184.5h0M333.2 188.4h0M343.1 184.6h0M331 187.6h0M344.3 192.9h0M348 186h0M351 189.2h0M325.3 194.2h0M345.1 192.7h0M335.6 187.1h0M345 187.9h0M305 195.8h0M344.7 183.3h0M310.6 193.1h0M342.4 189.1h0M342.6 183h0M352.3 177.8h0M345.1 194.3h0M314.8 191.8h0M351.9 190h0M350.6 181.6h0M310.7 195.4h0M341.1 196.5h0M350.5 195.5h0M321.8 195.2h0M335.9 193.2h0M333.2 189.9h0M341.5 192.8h0M310.5 192.3h0M335.9 191.5h0M333.3 190h0M307.2 195.2h0M341.7 183.1h0M326.2 195.6h0M331.8 187h0M330.8 193.6h0M340.8 186.4h0M331.3 196.9h0M342.6 185.6h0M351.4 187.9h0M331.2 193.1h0M324.1 196.4h0M308.7 193.5h0M312.5 193.9h0M335.9 192.7h0M350.5 186.1h0M343.1 183.6h0M348.6 196.2h0M318 190h0M337.6 185.4h0M322.2 190.5h0M329.5 191.1h0M327.3 188.8h0M307.7 193.3h0M321.3 189.6h0M352.1 196.8h0M345.3 197h0M331.1 194.4h0M312.4 196.5h0M318.9 196.6h0M308.5 195.3h0M344.4 191.4h0M323 189.8h0M325 195.6h0M340.3 189.8h0M344.6 182h0M322.9 191.1h0M345.6 187.8h0M346.2 191.1h0M318.7 195.1h0M324.3 194.7h0M317.7 195.8h0M312 196.8h0M346.9 185.4h0M340.9 194.4h0M349 186.7h0M343.2 183h0M320.5 193.1h0M326 194.7h0M337.6 186.1h0M310.8 196.2h0M342.6 185.1h0M344.1 191.2h0M350.5 180h0M350.2 183.2h0M350.7 191h0M309.3 196.5h0M318.2 195.3h0M315.9 194.7h0M332.2 187h0M350.8 188.7h0M310.7 195.6h0M330.7 186.4h0M323 189.4h0M331.4 188.8h0M351.4 177.3h0M338.1 189.5h0M332.6 192.8h0M307.2 194.3h0M332.6 194.9h0M321.4 191.8h0M307.9 194.5h0M342.3 187.3h0M349.1 192.2h0M330.3 189.4h0M306.7 197h0M312.5 194.6h0M352 187.8h0M329 192.7h0M341.3 185h0M337.9 184.2h0M345.2 195.2h0M335 187.5h0M341.3 193.1h0M331 187.2h0M330.2 189.9h0M339.3 187.8h0M319.7 196.4h0M305.9 195.4h0M336.3 190.2h0M321.3 193.1h0M328.6 193.5h0M345.4 188.1h0M349.9 196h0M322.7 195.7h0M327.6 187.5h0M315.2 196.3h0M335.9 189.6h0M341.6 191.2h0M307.3 196.4h0M314.2 192.1h0M347.9 189.9h0M332.9 185.9h0M352.4 177.3h0M351.5 190h0M352.4 175.8h0M306.9 195.2h0M322.7 196.6h0M331.4 192.5h0M331.5 193h0M325.3 192.3h0M334.6 190.5h0M341.4 189.2h0M322.2 191.7h0M349.5 183.9h0M347.4 185.3h0M320.9 191.8h0M317.8 193.9h0M305 195h0M332.6 193h0M308.7 194.3h0M349.2 188.7h0M350 186.9h0M345 194.1h0M319.7 194.5h0M307.3 194.2h0M339.7 192.6h0M349.3 189.8h0M331.4 196.9h0M330.4 194.3h0M348.5 193.8h0M343.9 187h0M345.2 185.7h0M334.4 192.2h0M307 193.3h0M347.3 188.4h0M331.2 192.6h0M340.5 183.5h0M329.4 186.6h0M341.5 187.3h0M331.8 187.3h0M346.7 196.3h0M316.6 190.9h0M351.8 178.2h0M335.3 195.9h0M345.5 193.8h0M333 184.8h0M339.3 187.4h0M343.5 194.6h0M305.8 194h0M350.5 191.4h0M332 187.8h0M343.2 196.1h0M344.8 187.5h0M313.4 197h0M322.6 191.9h0M342.2 189.6h0M351.9 185.9h0M319.1 194.5h0M331 188.8h0M350 188.2h0M343.9 192.9h0M329.1 196.5h0M333.5 187.8h0M346.8 196.4h0M313.3 191.9h0M341.8 184.3h0M346.4 193.2h0M322.6 195.9h0M341.1 187.4h0M345 197h0M310.4 195.3h0M344.9 188.1h0M315.3 194.2h0M332.7 187.3h0M306.5 194.6h0M316.2 195.3h0M346.3 195h0M344.6 192.8h0M316.4 190.5h0M350.2 183.6h0M305.1 194.8h0M347 186.4h0M324.1 197h0M351 181.8h0M333.7 188.3h0M350.2 192.6h0M318.3 194.1h0M334.7 187.1h0M350.9 194.2h0M334.2 188.6h0M342.2 188.9h0M320.2 190.3h0M345.5 184.6h0M346.8 188.4h0M321 194.3h0M328 193.9h0M327.7 191.7h0M338.1 195.1h0M339.7 186h0M348.3 182.7h0M315.8 190.9h0M333 190.4h0M335.2 189.6h0M312.8 193.7h0M330.8 187.8h0M343.2 196.6h0M309 195.2h0M334.7 190.7h0M322.8 195.1h0M345.3 192.7h0M322.1 193.3h0M304.6 195.5h0M306.6 196.2h0M347.1 183.6h0M326.3 193.8h0M339.6 196.9h0M305.8 196.7h0M317.1 193.7h0M321.8 196.4h0M332.9 190.9h0M323.3 195.7h0M308.6 192.6h0M347 195.3h0M332.3 191.3h0M326.5 187.4h0M322.1 191.1h0M311.2 193.7h0M342.2 194.6h0M344.7 186.9h0M346 192.1h0M323.8 190h0M343.9 182.2h0M318.9 194.3h0M335.9 195h0M318.3 190.4h0M317.6 196.4h0M308.2 195.4h0M329.3 193.5h0M341.7 192.1h0M352.3 184.2h0M334.6 188.5h0M339.6 183.6h0M322.2 190.8h0M343.7 182.5h0M319.6 191.6h0M351.7 185.1h0M352.1 192.9h0M323.8 193.5h0M316.2 191.4h0M351.6 191.6h0M324 192.9h0M312.7 191.9h0M316.7 192.2h0M345.6 190.3h0M352.4 181.5h0M351.2 188.9h0M352.3 195.6h0M319.6 194.8h0M328.6 192.8h0M333.4 185.1h0M341.3 191.2h0M311.2 194.7h0M317.8 191.1h0M346.8 192.4h0M319.1 191.7h0M340.9 193.3h0M347.2 183.4h0M322.6 194.2h0M348.4 183.9h0M335.9 189h0M341.6 192.3h0M341.9 188.9h0M326.5 196.9h0M351.8 186.5h0M317.6 193.5h0M307 196.2h0M335.1 184.8h0M313.3 196.4h0M336.2 193.3h0M342.7 182.7h0M331.2 191.2h0M342.9 183.9h0M333.4 185.4h0M316.9 190.6h0M351.1 187.3h0M316.3 193.9h0M309.7 194.8h0M319.6 196.6h0M320.9 193.4h0M308.1 193.8h0M319 191.9h0M304.8 197h0M321.9 189.9h0M350.5 185.8h0M342.5 187.3h0M347 189.5h0M329.1 195.4h0M320.6 195.8h0M352.3 184.2h0M334.2 190.3h0M344.5 185.6h0M311.3 192.7h0M321.4 197.2h0M314.1 196.4h0M311.7 194.7h0M327 195.5h0M351.8 184h0M336.9 192.4h0M328 189.3h0M345.3 183.3h0M335.4 184.5h0M326.3 188.3h0M347.6 188.5h0M352.2 185h0M316.3 191.2h0M316.5 192.9h0M309.1 193.8h0M332.8 194.4h0M323.6 188.9h0M350.5 189h0M314.5 193.1h0M330.2 191.1h0M352.3 182.8h0M330.9 187.3h0M330 189.9h0M327.9 194.9h0M337.2 186.7h0M349.1 180.9h0M312.4 195.2h0M342.9 182.6h0M345 185.4h0M323.2 188.8h0M344.5 185.4h0M307.7 193h0M336.7 190.6h0M320.2 191.7h0M335.7 187h0M344.7 187.7h0M328.8 187.8h0M309.7 196.7h0M350.7 186.3h0M340.2 195.7h0M347.2 184h0M348.6 182.9h0M323.4 197.2h0M330.7 193.9h0M352.4 190.7h0M308.3 193h0M321.2 195.6h0M345.2 194.9h0M311.2 196.5h0M330.9 190.2h0M304.4 195.7h0M351.4 177.1h0M336.9 187.2h0M316.3 196.8h0M349 191.7h0M328 190.3h0M322 194.4h0M327 193.1h0M327.4 189.9h0M335 190.1h0M349.7 195.8h0M325.9 189h0M319.6 194.2h0M320.3 191.5h0M345.5 185.4h0M339 188.6h0M305.4 194.9h0M307 194.7h0M340.6 184.7h0M347.2 196.5h0M312.5 195.7h0M311.6 193.9h0M343.4 185.7h0M337.3 192.6h0M323.4 195.1h0M342.4 196.9h0M339.3 188.6h0M332.3 190.1h0M346.7 180.8h0M352.2 181.2h0M348.4 195.9h0M316 194.5h0M345.9 181.4h0M342 191.5h0M316.7 191.4h0M308.8 196.2h0M328.1 186.9h0M352 188.1h0M338.5 184.9h0M351.8 189.7h0M348.7 185.4h0M317.5 195.2h0M316.9 190.9h0M347.7 184.6h0M308 193.8h0M351.9 194.9h0M350.6 192.4h0M332.8 185.6h0M312.7 191.5h0M319.3 191.2h0M351.3 188.3h0M309.5 195.9h0M314.5 191.9h0M323.6 189.7h0M325.7 190.9h0M327 190.2h0M341.6 189.1h0M342.7 196.7h0M330 189.8h0M305 195.3h0M319.1 193.9h0M351.6 176.6h0M342.8 183.3h0M344.7 183.5h0M342.4 192.5h0M349.7 180h0M320.8 190.9h0M342.4 187.9h0M351.4 189.4h0M315.9 194.7h0M333.5 191.5h0M313.8 195.7h0M338.4 188.6h0M308.3 193h0M352.2 192.7h0M331.8 196.6h0M350.1 179.1h0M335.6 186h0M315.9 194.2h0M333.4 185h0M348.8 193h0M351.6 194.7h0M332.1 197h0M325 189.6h0M334.7 194.4h0M346 190.3h0M327.4 193.6h0M306.1 195.4h0M349.4 195.3h0M309.2 194.6h0M346.8 183h0M352 177.5h0M305.8 193.9h0M342.8 182.8h0M311.8 196.1h0M324.2 196.2h0M347.3 179.8h0M348.6 180.7h0M309.9 192.9h0M350.1 188.1h0M329 188.5h0M336.6 187.9h0M350.6 182.4h0M343.6 188.3h0M316.3 190.7h0M320.3 190.2h0M343.2 194.8h0M306.1 194.6h0M316.2 190.8h0M318.4 191.6h0M341.4 194.1h0M349.6 181.1h0M305.7 194.4h0M334.1 192.1h0M347.9 189.3h0M349.3 183.5h0M329.3 191.9h0M335.6 187.8h0M330.8 191.6h0M348.6 179.7h0M348 188.1h0M311.2 196.9h0M333.6 190h0M335.8 196.3h0M307.3 193.1h0M348.1 186.5h0M340.2 195.3h0M340.9 186h0M343.3 182.6h0M322 189.6h0M313.8 192.4h0M306.1 194.9h0M350.3 189.8h0M340 184.7h0M324.5 192.8h0M342.7 184.3h0M338.9 186.1h0M336.8 188.1h0M310.6 193.7h0M312 194.1h0M347.8 193.7h0M349.8 190.2h0M351.5 193h0M339.4 185.6h0M336 184.9h0M340.9 183.3h0M308.1 193.2h0M328.1 194.3h0M333.3 189.4h0M335.9 185.6h0M338.5 196.5h0M352 186.3h0M305.9 195h0M338.5 188.4h0M313.7 194.8h0M317.6 196.5h0M339.8 191.4h0M335 190h0M343.5 194.3h0M310.6 193.7h0M351.1 182.9h0M350.8 187.5h0M351.1 176.8h0M338.2 188.2h0M324 196.9h0M306.3 196.4h0M352.1 186.3h0M334.5 185.3h0M329 187.8h0M341.2 189.1h0M333.5 193h0M305.9 192.4h0M344.1 182.5h0M349.3 147h0M330.5 185.2h0M336.2 181.4h0M349.3 169.7h0M351.3 177.7h0M346.8 177.1h0M322.5 181.6h0M317.9 182.5h0M301.4 190.1h0M336.8 177.6h0M346.2 168h0M348.9 159.5h0M347.1 174.8h0M314.2 187.7h0M341.9 172h0M339.9 180.2h0M332.2 182h0M350.3 174.9h0M338.6 183.5h0M314.5 189.4h0M343 169.3h0M333.3 185.6h0M349.4 171.8h0M350.1 178h0M348.3 179.4h0M342.6 177.4h0M340.5 183.2h0M352 167.6h0M351.5 173h0M346.3 178.2h0M347.1 178.7h0M345.7 181.6h0M343.3 176.8h0M343.6 172.4h0M322.7 189.1h0M344 171.2h0M331.5 168.1h0M345.3 166.5h0M345.3 177.4h0M318.4 187.1h0M340.7 183.7h0M335.1 184.8h0M349 173.8h0M340.9 179.3h0M337.3 174.1h0M346.6 171.6h0M350.7 167.7h0M336.2 183h0M344.4 176.7h0M335.3 174.1h0M348.6 167.6h0M342.4 177.3h0M339.6 183.4h0M347.4 164.2h0M347.3 176.6h0M329.1 186.9h0M325 172.1h0M342.1 180.9h0M345.1 160.8h0M352 169.7h0M329 172.2h0M305.3 189.5h0M351.5 173.3h0M349.2 179.4h0M348 174.6h0M335.1 176.6h0M333.2 182.5h0M342.8 170.2h0M343.9 167.1h0M350.1 177.5h0M341 178.8h0M349.5 179.1h0M301.9 194.4h0M349.9 169.8h0M327 186.5h0M334.4 185.6h0M330.3 185.3h0M327.8 182.6h0M327.7 179.7h0M322.2 181.7h0M338.4 177.7h0M315.6 189h0M351.9 156.9h0M307.4 187.4h0M313.4 191.5h0M330.2 184h0M351.1 174.6h0M348.5 176.6h0M342.2 172.4h0M338.7 173.1h0M330.4 179h0M341.6 166.3h0M343.9 179h0M346.3 178.7h0M339.6 183.4h0M339.8 183.3h0M333.4 173.4h0M343.7 179.4h0M338.7 167.2h0M333.3 164h0M346.3 180.3h0M348.5 173.8h0M307.5 193.2h0M351.4 174.2h0M340.7 180.8h0M300.6 191.8h0M351.2 168.9h0M331.8 185.2h0M348.5 177.1h0M347.5 181h0M310.7 191.1h0M331.5 185.8h0M348.3 174.1h0M346.5 169.6h0M350.5 148.1h0M345.8 179.5h0M308.7 191.6h0M349.9 171.2h0M351.7 174.4h0M336.9 178h0M325.8 181.6h0M341.8 155.8h0M338.5 178.9h0M328.6 183.2h0M332.6 185.9h0M349.6 168.4h0M331 185.8h0M322.1 188h0M326 187.2h0M321.8 67.7h0M335.9 90.4h0M341.3 96.9h0M339.5 104h0M321.8 111.2h0M312.9 129.1h0M328.1 132.8h0M319.6 137.3h0M327.6 138.8h0M341.3 136.7h0M342.8 139.3h0M334.1 143.8h0M347.1 143.8h0M342.8 149.2h0M329.4 154.4h0M348.2 151.4h0M349.7 158.3h0M345 156.1h0M330.9 160.5h0M334.1 160h0M336.7 160h0M340.6 160.5h0M309.9 164.4h0M333 164.8h0M329.8 168.1h0M338.5 163.7h0M343.9 167h0M291.9 167h0M288.7 167.6h0M311.4 177.8h0M306 182.1h0M295.2 188.2h0M288.5 170.5h0M288.5 172h0M288.5 178.5h0M288.5 180h0" stroke="#10E010" stroke-width="1.45" stroke-linecap="round" fill="none"/>
<path d="M407 194.6h0M368.8 168.8h0M368.4 179.9h0M367.5 185.6h0M368 195.8h0M409.2 195h0M369.9 189h0M391.5 195h0M367.2 171.3h0M385.4 192.5h0M393.9 195.8h0M390.7 193.2h0M382.2 187.9h0M405.5 194.7h0M367.7 193h0M387.1 190.3h0M407.7 195.9h0M402.5 194.1h0M412.5 196.6h0M368.9 176.2h0M371.4 182h0M384.9 185.8h0M394.1 191.5h0M367.2 170.9h0M368.6 197h0M403.5 194h0M375.8 192.5h0M400.3 193.1h0M404.7 192.4h0M375.1 180.1h0M370.8 171.9h0M398.6 193.7h0M369.5 196.8h0M379.8 184.8h0M383.7 185h0M371.5 172.3h0M374.4 190.6h0M380.4 194.9h0M370.7 188.9h0M367.2 192.1h0M380.2 188.7h0M368.8 173.8h0M374.6 190.7h0M405.7 195.7h0M376.4 184.9h0M367.3 179.8h0M410.4 194.3h0M367.4 195.2h0M401.8 194.6h0M385.5 192.2h0M367.3 172.7h0M392.2 195.1h0M388.1 193.8h0M390.8 189.6h0M383.9 193.9h0M383.2 194.7h0M398 191.5h0M388.4 196.6h0M379.4 187h0M370.6 195.7h0M390.7 196.6h0M371.8 185.2h0M368.1 191.3h0M367.2 178.6h0M411.7 196h0M377.1 183.4h0M388.2 189.4h0M368 185.9h0M371.3 187.3h0M401.2 192.4h0M410.4 194.6h0M376.8 186.8h0M377.1 196.9h0M403.4 193.2h0M368.4 177.3h0M369.9 188.4h0M396.9 191.1h0M387.1 196.2h0M372.9 179.1h0M371.8 185.1h0M376.9 190.6h0M380.2 195.7h0M372.9 188.7h0M386.9 192.8h0M381.3 196.4h0M385.2 196.8h0M374.7 184.8h0M391.1 188h0M376.6 196.2h0M373 190.9h0M405.6 197h0M372.9 175.8h0M384.7 195.2h0M370.3 181.6h0M379.5 187.8h0M396.3 194.9h0M377.5 196.9h0M385.2 186.1h0M411.1 195.3h0M380.8 196.2h0M372.7 181.4h0M377.7 187.2h0M368.1 187.7h0M371.5 195.9h0M401.1 196.3h0M378.4 189.1h0M407.1 193.7h0M368.9 170.7h0M398.7 192.1h0M395.6 190.1h0M403.4 193.2h0M381.6 188.4h0M403.6 195.6h0M401.2 193.1h0M379.9 188.2h0M394.4 195.9h0M374.3 193.4h0M377.3 185h0M378 185.6h0M378.6 182.6h0M397.5 195.1h0M379.7 182.3h0M377.2 192.9h0M367.3 186.8h0M409.4 195.2h0M372.1 196.2h0M378.7 194.8h0M369.4 179h0M396.4 190.6h0M399.9 191.7h0M381.4 190.5h0M376.3 179.8h0M398.6 191.9h0M368 191.7h0M396.3 192.6h0M405.5 196.2h0M369.2 192.6h0M368.3 193.2h0M411.8 196.6h0M399.6 193.4h0M368.5 168.6h0M398.9 195.7h0M384.9 190.8h0M376.7 189.6h0M373.9 187.4h0M393.1 195.3h0M409.7 194.3h0M368.4 180.4h0M378.2 189h0M376.4 195.4h0M391.7 196.5h0M399.6 193h0M376 184.8h0M381.6 185.2h0M367.7 194.9h0M382.6 187h0M373.5 176.6h0M367.6 185.4h0M401.9 192.7h0M367.4 175.6h0M367.6 193.2h0M368.7 169.3h0M370 190.6h0M377.9 189.4h0M376.1 192h0M388.3 189.5h0M398.4 192h0M408 196.7h0M380.4 192.5h0M370.5 186.9h0M387.9 191.9h0M367.3 179.9h0M405.6 192.7h0M401 192.4h0M370.7 173h0M368.7 190.6h0M405.6 193.7h0M404.3 195.6h0M389.8 190.9h0M387.6 187.8h0M407.4 196.8h0M409.4 196.2h0M367.2 170.8h0M371.5 177.3h0M368 168.8h0M378.5 181.2h0M391.1 188.8h0M392.6 188.7h0M367.3 196.1h0M367.2 168.8h0M408.1 196h0M367.9 184.5h0M375.7 178h0M379.3 192.9h0M393.3 189.8h0M372.4 179.6h0M398.9 195.4h0M387.5 193.4h0M396.4 191.4h0M367.7 195.3h0M367.6 188.1h0M393.8 196.1h0M367.7 172.7h0M375.9 178.9h0M401.6 193.7h0M371.3 184.4h0M393.8 196.9h0M397 192.5h0M386.1 188.1h0M385.6 191.5h0M369.5 179h0M412 195.6h0M370.9 184.2h0M404.7 195.6h0M410.3 195.6h0M391.3 193.4h0M368.1 185.7h0M372.5 175.8h0M397.1 190.6h0M375.2 185.5h0M396.3 193.8h0M386.9 192.6h0M390.8 194h0M408 193.4h0M376.8 189.1h0M368.6 187.6h0M397.9 194.3h0M371 193.8h0M368.9 175.7h0M409.1 195.3h0M371.5 189.3h0M371.2 191.3h0M375.8 184.2h0M394.2 190.9h0M377.6 193.7h0M383.9 188h0M403.8 196h0M370.4 191.9h0M367.8 169.3h0M371.1 192.6h0M412.7 196.5h0M367.2 190.9h0M374.6 177.4h0M403.7 193h0M374 181.1h0M375.5 186.5h0M387.9 190.3h0M379.2 185.1h0M392 189.2h0M368 169h0M398.3 193.1h0M385.9 187.4h0M373 180.6h0M411.6 195.8h0M384.3 196.3h0M369.6 188.6h0M377.2 192.6h0M382.9 195.8h0M372.8 192.2h0M399.9 192.1h0M397.6 196.4h0M403.2 193.7h0M377.3 182.6h0M369.8 176.1h0M375.1 192.4h0M368.1 178.9h0M368.1 169.7h0M401.4 192.4h0M372.8 181.3h0M382.9 196.3h0M400.7 191.4h0M368.7 172h0M375.2 192.5h0M384.5 193.7h0M384.3 188h0M375 183h0M373.6 176h0M396 196h0M394.3 192.9h0M369.5 187.9h0M368.9 174h0M386.4 191.4h0M377.3 194.7h0M376.4 178.8h0M406.6 196.9h0M367.4 193h0M377.9 183.6h0M367.8 173.9h0M390.7 195.5h0M400.4 192.3h0M395.6 193.6h0M389.7 195.2h0M397.2 190.6h0M367.5 185.6h0M379.7 182.9h0M367.7 183.1h0M396.1 192.7h0M367.5 174.9h0M367.8 193.8h0M403.2 194.7h0M372.5 182.2h0M373.9 179.1h0M386.6 191h0M386.4 195.1h0M405.6 192.9h0M367.3 194.8h0M384.2 186.6h0M378.4 189.5h0M368.2 171.2h0M382.6 184.4h0M411.4 195.8h0M369.1 189h0M368.4 172.2h0M380.5 188.3h0M371.1 186.4h0M380.4 188.4h0M404.7 196.1h0M379.4 185.4h0M368.3 172.5h0M390.1 193h0M369.9 187.2h0M368.3 174.5h0M369.8 191.6h0M372.7 188.2h0M371.4 192.3h0M378.6 182.1h0M411 195h0M367.2 181.4h0M369 185.1h0M401.3 191.6h0M398.2 194.6h0M375.1 187.1h0M372.6 181.3h0M378.5 186h0M379.2 194.9h0M402.9 193.6h0M383 193.2h0M372.1 190.4h0M413 196.8h0M380.6 189.8h0M373.6 192.6h0M369.2 183.3h0M388.7 195.6h0M368.6 194.9h0M367.5 168.9h0M389.3 191.3h0M407.9 195.3h0M377.1 185h0M372.5 183.6h0M404.8 192.2h0M369.3 175.1h0M368.3 168.9h0M411.2 194.9h0M399 194.8h0M404.3 195.8h0M367.3 181.4h0M367.2 174.6h0M369.4 188.2h0M407.1 194.2h0M371.6 172.6h0M367.2 179.6h0M410.5 195.6h0M378.3 192.5h0M401.4 195.5h0M411.2 195.4h0M372.6 183.6h0M382.5 193.6h0M393.8 195h0M383 190.4h0M367.8 170.7h0M376.4 193.8h0M399 194h0M409.2 197.2h0M398.9 192.4h0M387.7 192.7h0M406.4 195.1h0M368.4 175.7h0M382 192.7h0M385.5 188.6h0M368 173.2h0M380.8 194.1h0M388.3 187.9h0M378.7 185.6h0M371.4 184.3h0M370 178.8h0M403.6 196.2h0M396.2 195.2h0M367.7 181h0M367.3 171.6h0M379.1 181.8h0M399 197.1h0M382.3 184.8h0M381.1 186.8h0M369.6 189.3h0M370.4 190.2h0M379.1 188.8h0M369.7 172.2h0M373.7 196.5h0M387.3 196.6h0M390.8 187.8h0M382.3 184.7h0M384.2 190.3h0M409.7 196.9h0M381.6 185.5h0M403.4 195.9h0M373.2 182.4h0M401.4 196.2h0M384 185.4h0M379.7 188.3h0M369.7 179.4h0M379 185.8h0M382.5 188.3h0M379.2 196.6h0M368 171.3h0M369.3 182.6h0M368.2 181.5h0M374.9 182.6h0M367.7 180.9h0M405.4 194.4h0M367.5 185.1h0M375.5 185.4h0M369.6 172h0M375.6 181.7h0M374.8 194.6h0M385.8 192.3h0M380.5 188.1h0M408.9 196h0M408.5 196.2h0M376.1 194.2h0M387.2 187.3h0M383 197.1h0M389.9 194.7h0M391.7 191.9h0M393.4 193.1h0M412.6 196.7h0M367.3 194.1h0M406.4 195.5h0M411.4 196.9h0M398.8 196.6h0M369 187.2h0M376.8 183h0M369.1 169.8h0M402.1 196.5h0M404.4 194.1h0M386.9 194.6h0M400 195.4h0M398.3 192.5h0M390.2 192.9h0M379.1 190.1h0M374.1 183.6h0M400.1 196.8h0M386.8 187.2h0M389.9 190.3h0M413.2 196.8h0M371.8 176.7h0M368.9 174.8h0M384.7 192.6h0M369.6 190.3h0M367.2 180.2h0M394.1 194.6h0M367.8 179.7h0M377.6 179.9h0M405.6 193.6h0M376.1 187.4h0M378.9 184.4h0M387.5 193.8h0M372.8 194h0M367.3 191.7h0M372.6 196.2h0M398.7 196h0M375.7 191.7h0M374.9 182.4h0M368.3 168.6h0M367.8 190.8h0M400.9 194.9h0M371.8 173.4h0M377.9 184.7h0M411.7 196.2h0M402.4 194.6h0M367.8 183.3h0M367.2 195.1h0M407.5 193.2h0M383.7 185.8h0M377.4 185.7h0M404.6 196.5h0M384.7 185.1h0M379.3 182.6h0M408.1 193.7h0M385.8 193.6h0M406.8 193.7h0M375.1 192.5h0M374 190.6h0M380.6 184.1h0M403.6 192.2h0M403.6 196.6h0M380 191.1h0M371.8 181.1h0M376.8 181.7h0M409.6 195h0M410.3 195.6h0M370.9 181.6h0M403.2 192.3h0M376.4 179.4h0M370.6 196.5h0M375.3 182.8h0M396.8 192.3h0M384 188.7h0M397.5 192.6h0M384.7 193.8h0M382.4 186.4h0M386.1 188h0M380.1 188.1h0M371.5 176.5h0M399.6 193.7h0M367.5 179.6h0M391.6 192h0M383.7 185h0M400.3 196.6h0M371.5 178.8h0M375.5 180.2h0M403.6 192h0M370.2 177.7h0M370.4 196.4h0M395.7 196.5h0M387.5 190.2h0M399.4 193.3h0M370.5 193.6h0M396.6 191.3h0M405.2 194.5h0M367.5 174.4h0M377 187.4h0M397.4 195.4h0M396.9 190.5h0M369.1 186.6h0M389.6 191.4h0M405.7 196.7h0M395 196.2h0M412.2 197h0M373.5 196.6h0M406.1 192.7h0M395.6 191.2h0M378.1 187.9h0M396.4 193.5h0M410.7 196.6h0M391.1 188.6h0M389.6 189h0M402.9 192.2h0M398.9 194.2h0M378.1 190.4h0M381.8 185.8h0M411.8 195.2h0M403.5 195h0M403 194.4h0M399.6 194.5h0M376.8 185h0M391.5 191.9h0M367.8 176.2h0M381.1 195.3h0M380.8 191.1h0M390.7 192.2h0M370.7 185.3h0M368.1 178.4h0M371.6 188.2h0M393.5 195.5h0M402.2 193.9h0M412.7 195.7h0M396.3 190.7h0M379.1 188.9h0M387.5 192.4h0M406.6 192.7h0M401.7 192.6h0M383.3 187.2h0M379.3 184.2h0M394.8 192.1h0M409.6 195.3h0M367.2 167.3h0M387.4 189.4h0M372.6 186.5h0M378 196.5h0M371 172.9h0M382 194.7h0M380.6 194h0M396.9 195.2h0M374 184.6h0M391.1 190.2h0M373.3 175.9h0M383.9 193.9h0M412.6 196.1h0M403.5 194.4h0M396.1 196.1h0M372.2 192.6h0M376.9 191.7h0M372 188.7h0M367.5 167.5h0M391.8 193.7h0M377.3 188.3h0M382.7 187.9h0M377.9 190.4h0M390.3 193.2h0M381.2 189.9h0M406.1 195.5h0M372.9 180.4h0M411.8 196.1h0M402.7 195.6h0M392.4 189.4h0M369.9 187.6h0M403.7 196h0M390.1 190.5h0M374.2 182h0M378.5 195.4h0M409.6 194.6h0M408.2 193.9h0M382.1 190.2h0M399.4 196.6h0M388.1 194.2h0M409.2 197.1h0M412.8 195.7h0M367.9 168.6h0M383.8 188.2h0M378.5 185.4h0M368.2 190.1h0M367.5 167.5h0M373.8 181.5h0M370.8 179.1h0M392.9 196.4h0M413.1 196.9h0M367.5 191.1h0M388.6 193.9h0M404.1 194.3h0M368 184.6h0M370.2 173.4h0M393.8 192h0M391.5 189.8h0M376 196.4h0M407.8 197h0M374.7 184h0M372.4 194.5h0M405.9 197.1h0M370 190.1h0M367.2 175.5h0M367.2 195.9h0M377.8 184.2h0M390.7 196.8h0M373.8 182.8h0M402.3 192.8h0M376 178.9h0M401.4 195.4h0M377.4 192.7h0M367.6 189.8h0M384.5 193.7h0M389.9 182.6h0M376.7 165.2h0M374.2 173.7h0M377.1 179.2h0M382.2 182.3h0M379.5 179.5h0M373.3 176.1h0M367.6 169.7h0M374.2 151.1h0M373 172h0M409 189.6h0M378.2 179.5h0M370.6 156h0M377.5 162.9h0M386.1 186h0M382 167.4h0M367.7 165.5h0M420.9 195.7h0M379.2 174.5h0M382.3 162.8h0M368 147.7h0M389.3 187.4h0M371.4 173.9h0M381.4 180.5h0M396.1 182.3h0M367.3 163.9h0M371.5 173.8h0M370.2 160.8h0M367.3 140.1h0M373.4 172.8h0M380.6 183.8h0M377.5 175.6h0M384 172.6h0M370.4 149.2h0M381.2 183.3h0M401.2 186.3h0M375.6 174.9h0M372.8 173.8h0M374.1 160h0M379.6 179.7h0M368.1 168.9h0M370.2 167.6h0M367.4 165.5h0M389.5 187.2h0M404 187.7h0M369.2 162.4h0M387.9 184h0M388 182.9h0M384.4 183.8h0M368.9 154.9h0M392.6 179.7h0M379.2 173.5h0M376.5 146.5h0M379 178.2h0M395.3 180.9h0M386.8 184.3h0M381.3 180h0M381.8 173.7h0M393.5 185.7h0M369.2 161h0M370.7 167.2h0M389.2 186.7h0M378.3 172h0M391.2 188.5h0M375 148.8h0M378.6 179.1h0M379.1 166.2h0M372.5 165.2h0M377.6 174h0M383.8 183h0M370.5 170.7h0M370.4 173h0M368 167.6h0M374.7 146.2h0M393.9 183.5h0M368.5 163.5h0M370.5 171.9h0M397.8 185.7h0M367.8 168h0M372.2 166.9h0M390.7 188h0M382.5 184.9h0M376.7 178.8h0M422.6 193h0M367.5 162.6h0M367.5 167.7h0M369.8 168.2h0M401.6 187.5h0M372.2 159.5h0M378.1 171.4h0M378.4 174.6h0M374.4 167.4h0M378.9 142.2h0M383 180.4h0M368.6 140.5h0M374.4 176.2h0M373 167.5h0M369.4 167.6h0M379 166.5h0M379.7 179.2h0M383.7 184.8h0M371.6 166.7h0M376.2 172.4h0M373.6 175.4h0M367.3 153.9h0M401.8 189.4h0M403.4 182.6h0M387 183.6h0M373.1 174.9h0M370.8 170.6h0M377.7 171.9h0M379.7 180.2h0M379.5 155.4h0M369.6 149.9h0M369.2 152.5h0M369.8 155.5h0M376.9 168.2h0M403.7 191.3h0M382.7 175.9h0M378.1 180.3h0M372.6 160.2h0M372.1 160.7h0M388 179h0M372 169.6h0M381.8 183.7h0M375.8 152h0M392.5 188.4h0M367.6 157.5h0M418.6 191.6h0M373.3 168.5h0M377.2 166.4h0M381.2 176.4h0M370.3 172.2h0M384.6 33h0M380.3 91h0M442.8 92.1h0M386.1 99.3h0M381.1 116.6h0M397.4 119.6h0M386.5 124.6h0M374.8 125.4h0M375.7 129.7h0M379.2 128.4h0M379.6 131.2h0M419.7 130.8h0M375.3 134.1h0M376.4 138.4h0M381.8 142.5h0M388.3 143.2h0M373.1 142.1h0M375.3 148.6h0M383.5 148.6h0M390.4 148.6h0M434.2 149h0M442.8 149.6h0M380.7 151.8h0M372 151.8h0M375.3 156.1h0M379.6 157.2h0M383.5 159.4h0M409.5 159.8h0M442.8 161.1h0M402.3 163.7h0M394.8 168.1h0M388.3 170.9h0M427.2 171.3h0M396.9 173.5h0M442.8 175.6h0M442.8 177.4h0M405.2 180h0M392.2 178.2h0M418.2 187.1h0M409.9 188.2h0M371 160h0M369 163h0M374 162h0" stroke="#EE1111" stroke-width="1.45" stroke-linecap="round" fill="none"/>
<line x1="288.5" y1="184" x2="288.5" y2="197.2" stroke="#10E010" stroke-width="1.0"/>
<line x1="442.8" y1="189.5" x2="442.8" y2="197.2" stroke="#EE1111" stroke-width="1.0"/>
<line x1="309.6" y1="197" x2="406.4" y2="197" stroke="#2B7BC0" stroke-width="0.8"/>
<path d="M288.5 197.6h0M442.8 197.6h0" stroke="#2B7BC0" stroke-width="1.2" stroke-linecap="round" fill="none"/>
<rect x="282.6" y="26.7" width="166.3" height="176.6" fill="none" stroke="#6a6a6a" stroke-width="0.75"/>
<line x1="352.5" y1="203.3" x2="448.9" y2="203.3" stroke="#a9a6dc" stroke-width="0.75"/>
<line x1="287.7" y1="203.3" x2="287.7" y2="206.4" stroke="#555" stroke-width="0.6"/>
<text x="287.7" y="214.5" font-size="4.8" text-anchor="middle" fill="#1a1a1a" stroke="#1a1a1a" stroke-width="0.18">&#8722;10</text>
<line x1="323.7" y1="203.3" x2="323.7" y2="206.4" stroke="#555" stroke-width="0.6"/>
<text x="323.7" y="214.5" font-size="4.8" text-anchor="middle" fill="#1a1a1a" stroke="#1a1a1a" stroke-width="0.18">&#8722;5</text>
<line x1="359.7" y1="203.3" x2="359.7" y2="206.4" stroke="#555" stroke-width="0.6"/>
<text x="359.7" y="214.5" font-size="4.8" text-anchor="middle" fill="#1a1a1a" stroke="#1a1a1a" stroke-width="0.18">0</text>
<line x1="395.7" y1="203.3" x2="395.7" y2="206.4" stroke="#555" stroke-width="0.6"/>
<text x="395.7" y="214.5" font-size="4.8" text-anchor="middle" fill="#1a1a1a" stroke="#1a1a1a" stroke-width="0.18">5</text>
<line x1="431.7" y1="203.3" x2="431.7" y2="206.4" stroke="#555" stroke-width="0.6"/>
<text x="431.7" y="214.5" font-size="4.8" text-anchor="middle" fill="#1a1a1a" stroke="#1a1a1a" stroke-width="0.18">10</text>
<line x1="279.6" y1="197.2" x2="282.6" y2="197.2" stroke="#555" stroke-width="0.6"/>
<text x="276.3" y="197.2" font-size="4.8" text-anchor="middle" fill="#1a1a1a" transform="rotate(-90 276.3 197.2)" stroke="#1a1a1a" stroke-width="0.18">0</text>
<line x1="279.6" y1="149.3" x2="282.6" y2="149.3" stroke="#555" stroke-width="0.6"/>
<text x="276.3" y="149.3" font-size="4.8" text-anchor="middle" fill="#1a1a1a" transform="rotate(-90 276.3 149.3)" stroke="#1a1a1a" stroke-width="0.18">50</text>
<line x1="279.6" y1="101.4" x2="282.6" y2="101.4" stroke="#555" stroke-width="0.6"/>
<text x="276.3" y="101.4" font-size="4.8" text-anchor="middle" fill="#1a1a1a" transform="rotate(-90 276.3 101.4)" stroke="#1a1a1a" stroke-width="0.18">100</text>
<line x1="279.6" y1="53.5" x2="282.6" y2="53.5" stroke="#555" stroke-width="0.6"/>
<text x="276.3" y="53.5" font-size="4.8" text-anchor="middle" fill="#1a1a1a" transform="rotate(-90 276.3 53.5)" stroke="#1a1a1a" stroke-width="0.18">150</text>
<text x="365.8" y="224.8" font-size="4.9" text-anchor="middle" fill="#222" stroke="#222" stroke-width="0.13">log<tspan font-size="3.4" dy="1">2</tspan><tspan dy="-1"> fold change</tspan></text>
<text x="263.3" y="115.1" font-size="4.7" text-anchor="middle" fill="#222" transform="rotate(-90 263.3 115.1)" stroke="#222" stroke-width="0.13">&#8722;log<tspan font-size="3.4" dy="1">10</tspan><tspan dy="-1"> pvalue</tspan></text>
<rect x="286.5" y="30.5" width="26.3" height="23.4" fill="#fff" stroke="#666" stroke-width="0.5"/>
<path d="M288.9 35.4h2.2M290 34.3v2.2" stroke="#777" stroke-width="0.5"/>
<path d="M290 40.1h0" stroke="#EE1111" stroke-width="1.7" stroke-linecap="round" fill="none"/>
<path d="M290 44.6h0" stroke="#10E010" stroke-width="1.7" stroke-linecap="round" fill="none"/>
<path d="M290 49.3h0" stroke="#2B7BC0" stroke-width="1.7" stroke-linecap="round" fill="none"/>
<text x="293.6" y="36.9" font-size="4.2" text-anchor="start" fill="#222" stroke="#222" stroke-width="0.12">Filtered</text>
<text x="293.6" y="41.6" font-size="4.2" text-anchor="start" fill="#222" stroke="#222" stroke-width="0.12">Sig.Up</text>
<text x="293.6" y="46.1" font-size="4.2" text-anchor="start" fill="#222" stroke="#222" stroke-width="0.12">Sig.Down</text>
<text x="293.6" y="50.8" font-size="4.2" text-anchor="start" fill="#222" stroke="#222" stroke-width="0.12">Non.Sig</text>
<rect x="511.8" y="35.40" width="22" height="1.35" fill="#f5aeb0"/>
<rect x="511.8" y="36.40" width="22" height="1.35" fill="#f7bbbc"/>
<rect x="511.8" y="37.40" width="22" height="1.35" fill="#9797e1"/>
<rect x="511.8" y="38.40" width="22" height="1.35" fill="#f39b9d"/>
<rect x="511.8" y="39.39" width="22" height="1.35" fill="#f1898c"/>
<rect x="511.8" y="40.39" width="22" height="1.35" fill="#f9cfd1"/>
<rect x="511.8" y="41.39" width="22" height="1.35" fill="#fbe0e1"/>
<rect x="511.8" y="42.39" width="22" height="1.35" fill="#f6b3b5"/>
<rect x="511.8" y="43.39" width="22" height="1.35" fill="#f18d90"/>
<rect x="511.8" y="44.39" width="22" height="1.35" fill="#ef777b"/>
<rect x="511.8" y="45.39" width="22" height="1.35" fill="#f3999b"/>
<rect x="511.8" y="46.38" width="22" height="1.35" fill="#f7bec0"/>
<rect x="511.8" y="47.38" width="22" height="1.35" fill="#f6b7b9"/>
<rect x="511.8" y="48.38" width="22" height="1.35" fill="#ef787b"/>
<rect x="511.8" y="49.38" width="22" height="1.35" fill="#f39a9d"/>
<rect x="511.8" y="50.38" width="22" height="1.35" fill="#fdf2f2"/>
<rect x="511.8" y="51.38" width="22" height="1.35" fill="#f8c9ca"/>
<rect x="511.8" y="52.38" width="22" height="1.35" fill="#f7bcbe"/>
<rect x="511.8" y="53.38" width="22" height="1.35" fill="#f5afb1"/>
<rect x="511.8" y="54.37" width="22" height="1.35" fill="#f5abae"/>
<rect x="511.8" y="55.37" width="22" height="1.35" fill="#f6b1b3"/>
<rect x="511.8" y="56.37" width="22" height="1.35" fill="#f29295"/>
<rect x="511.8" y="57.37" width="22" height="1.35" fill="#f4a1a3"/>
<rect x="511.8" y="58.37" width="22" height="1.35" fill="#f5aeb0"/>
<rect x="511.8" y="59.37" width="22" height="1.35" fill="#f29598"/>
<rect x="511.8" y="60.37" width="22" height="1.35" fill="#f8c9ca"/>
<rect x="511.8" y="61.36" width="22" height="1.35" fill="#f8c8ca"/>
<rect x="511.8" y="62.36" width="22" height="1.35" fill="#f4a6a8"/>
<rect x="511.8" y="63.36" width="22" height="1.35" fill="#f6b8ba"/>
<rect x="511.8" y="64.36" width="22" height="1.35" fill="#f4a4a6"/>
<rect x="511.8" y="65.36" width="22" height="1.35" fill="#f7bfc1"/>
<rect x="511.8" y="66.36" width="22" height="1.35" fill="#f39fa1"/>
<rect x="511.8" y="67.36" width="22" height="1.35" fill="#f4a0a3"/>
<rect x="511.8" y="68.35" width="22" height="1.35" fill="#f4a7a9"/>
<rect x="511.8" y="69.35" width="22" height="1.35" fill="#f7b9bb"/>
<rect x="511.8" y="70.35" width="22" height="1.35" fill="#f5a9ab"/>
<rect x="511.8" y="71.35" width="22" height="1.35" fill="#f7babc"/>
<rect x="511.8" y="72.35" width="22" height="1.35" fill="#f8c1c3"/>
<rect x="511.8" y="73.35" width="22" height="1.35" fill="#f08387"/>
<rect x="511.8" y="74.35" width="22" height="1.35" fill="#f4a4a7"/>
<rect x="511.8" y="75.34" width="22" height="1.35" fill="#ed6c70"/>
<rect x="511.8" y="76.34" width="22" height="1.35" fill="#ef777b"/>
<rect x="511.8" y="77.34" width="22" height="1.35" fill="#f9d1d2"/>
<rect x="511.8" y="78.34" width="22" height="1.35" fill="#f3999b"/>
<rect x="511.8" y="79.34" width="22" height="1.35" fill="#f7bbbc"/>
<rect x="511.8" y="80.34" width="22" height="1.35" fill="#f39fa1"/>
<rect x="511.8" y="81.34" width="22" height="1.35" fill="#f39ea1"/>
<rect x="511.8" y="82.34" width="22" height="1.35" fill="#f9d1d2"/>
<rect x="511.8" y="83.33" width="22" height="1.35" fill="#f4a5a8"/>
<rect x="511.8" y="84.33" width="22" height="1.35" fill="#f4a6a8"/>
<rect x="511.8" y="85.33" width="22" height="1.35" fill="#f1888b"/>
<rect x="511.8" y="86.33" width="22" height="1.35" fill="#f7bdbe"/>
<rect x="511.8" y="87.33" width="22" height="1.35" fill="#f18d90"/>
<rect x="511.8" y="88.33" width="22" height="1.35" fill="#f7bbbc"/>
<rect x="511.8" y="89.33" width="22" height="1.35" fill="#f5a8aa"/>
<rect x="511.8" y="90.32" width="22" height="1.35" fill="#f6b4b6"/>
<rect x="511.8" y="91.32" width="22" height="1.35" fill="#ed6569"/>
<rect x="511.8" y="92.32" width="22" height="1.35" fill="#ef7b7e"/>
<rect x="511.8" y="93.32" width="22" height="1.35" fill="#ea4d51"/>
<rect x="511.8" y="94.32" width="22" height="1.35" fill="#ef797d"/>
<rect x="511.8" y="95.32" width="22" height="1.35" fill="#ee7478"/>
<rect x="511.8" y="96.32" width="22" height="1.35" fill="#f18b8e"/>
<rect x="511.8" y="97.31" width="22" height="1.35" fill="#f5aeb1"/>
<rect x="511.8" y="98.31" width="22" height="1.35" fill="#f4a1a4"/>
<rect x="511.8" y="99.31" width="22" height="1.35" fill="#f07e81"/>
<rect x="511.8" y="100.31" width="22" height="1.35" fill="#f5a9ab"/>
<rect x="511.8" y="101.31" width="22" height="1.35" fill="#f39b9d"/>
<rect x="511.8" y="102.31" width="22" height="1.35" fill="#f4a0a2"/>
<rect x="511.8" y="103.31" width="22" height="1.35" fill="#f29093"/>
<rect x="511.8" y="104.30" width="22" height="1.35" fill="#f5a8ab"/>
<rect x="511.8" y="105.30" width="22" height="1.35" fill="#f4a3a6"/>
<rect x="511.8" y="106.30" width="22" height="1.35" fill="#f3999c"/>
<rect x="511.8" y="107.30" width="22" height="1.35" fill="#b9b9eb"/>
<rect x="511.8" y="108.30" width="22" height="1.35" fill="#9f9fe3"/>
<rect x="511.8" y="109.30" width="22" height="1.35" fill="#cecef1"/>
<rect x="511.8" y="110.30" width="22" height="1.35" fill="#9393e0"/>
<rect x="511.8" y="111.30" width="22" height="1.35" fill="#4141c8"/>
<rect x="511.8" y="112.29" width="22" height="1.35" fill="#3f3fc8"/>
<rect x="511.8" y="113.29" width="22" height="1.35" fill="#7b7bd9"/>
<rect x="511.8" y="114.29" width="22" height="1.35" fill="#5757cf"/>
<rect x="511.8" y="115.29" width="22" height="1.35" fill="#4747ca"/>
<rect x="511.8" y="116.29" width="22" height="1.35" fill="#0c0cb9"/>
<rect x="511.8" y="117.29" width="22" height="1.35" fill="#2323c0"/>
<rect x="511.8" y="118.29" width="22" height="1.35" fill="#0c0cb9"/>
<rect x="511.8" y="119.28" width="22" height="1.35" fill="#0c0cb9"/>
<rect x="511.8" y="120.28" width="22" height="1.35" fill="#2929c1"/>
<rect x="511.8" y="121.28" width="22" height="1.35" fill="#0c0cb9"/>
<rect x="511.8" y="122.28" width="22" height="1.35" fill="#dedef6"/>
<rect x="511.8" y="123.28" width="22" height="1.35" fill="#e7e7f8"/>
<rect x="511.8" y="124.28" width="22" height="1.35" fill="#dbdbf5"/>
<rect x="511.8" y="125.28" width="22" height="1.35" fill="#e5e5f8"/>
<rect x="511.8" y="126.27" width="22" height="1.35" fill="#fef4f5"/>
<rect x="511.8" y="127.27" width="22" height="1.35" fill="#d9d9f4"/>
<rect x="511.8" y="128.27" width="22" height="1.35" fill="#c5c5ee"/>
<rect x="511.8" y="129.27" width="22" height="1.35" fill="#b6b6ea"/>
<rect x="511.8" y="130.27" width="22" height="1.35" fill="#e1e1f6"/>
<rect x="511.8" y="131.27" width="22" height="1.35" fill="#8888dd"/>
<rect x="511.8" y="132.27" width="22" height="1.35" fill="#9999e2"/>
<rect x="511.8" y="133.26" width="22" height="1.35" fill="#8585dc"/>
<rect x="511.8" y="134.26" width="22" height="1.35" fill="#8585dc"/>
<rect x="511.8" y="135.26" width="22" height="1.35" fill="#7e7eda"/>
<rect x="511.8" y="136.26" width="22" height="1.35" fill="#8484db"/>
<rect x="511.8" y="137.26" width="22" height="1.35" fill="#9696e1"/>
<rect x="511.8" y="138.26" width="22" height="1.35" fill="#8787dd"/>
<rect x="511.8" y="139.26" width="22" height="1.35" fill="#9494e0"/>
<rect x="511.8" y="140.26" width="22" height="1.35" fill="#c4c4ee"/>
<rect x="511.8" y="141.25" width="22" height="1.35" fill="#9e9ee3"/>
<rect x="511.8" y="142.25" width="22" height="1.35" fill="#6868d3"/>
<rect x="511.8" y="143.25" width="22" height="1.35" fill="#c0c0ed"/>
<rect x="511.8" y="144.25" width="22" height="1.35" fill="#9b9be2"/>
<rect x="511.8" y="145.25" width="22" height="1.35" fill="#7878d8"/>
<rect x="511.8" y="146.25" width="22" height="1.35" fill="#aaaae6"/>
<rect x="511.8" y="147.25" width="22" height="1.35" fill="#9292e0"/>
<rect x="511.8" y="148.24" width="22" height="1.35" fill="#8181db"/>
<rect x="511.8" y="149.24" width="22" height="1.35" fill="#dcdcf5"/>
<rect x="511.8" y="150.24" width="22" height="1.35" fill="#d2d2f2"/>
<rect x="511.8" y="151.24" width="22" height="1.35" fill="#eeeefa"/>
<rect x="511.8" y="152.24" width="22" height="1.35" fill="#fef5f6"/>
<rect x="511.8" y="153.24" width="22" height="1.35" fill="#e4e4f7"/>
<rect x="511.8" y="154.24" width="22" height="1.35" fill="#f8f8fd"/>
<rect x="511.8" y="155.23" width="22" height="1.35" fill="#fbe1e2"/>
<rect x="511.8" y="156.23" width="22" height="1.35" fill="#ccccf0"/>
<rect x="511.8" y="157.23" width="22" height="1.35" fill="#f4f4fc"/>
<rect x="511.8" y="158.23" width="22" height="1.35" fill="#e5e5f7"/>
<rect x="511.8" y="159.23" width="22" height="1.35" fill="#d0d0f2"/>
<rect x="511.8" y="160.23" width="22" height="1.35" fill="#d1d1f2"/>
<rect x="511.8" y="161.23" width="22" height="1.35" fill="#ececfa"/>
<rect x="511.8" y="162.22" width="22" height="1.35" fill="#f8f8fd"/>
<rect x="511.8" y="163.22" width="22" height="1.35" fill="#dfdff6"/>
<rect x="511.8" y="164.22" width="22" height="1.35" fill="#eeeefa"/>
<rect x="511.8" y="165.22" width="22" height="1.35" fill="#fffefe"/>
<rect x="511.8" y="166.22" width="22" height="1.35" fill="#f5f5fc"/>
<rect x="511.8" y="167.22" width="22" height="1.35" fill="#9d9de3"/>
<rect x="511.8" y="168.22" width="22" height="1.35" fill="#9292e0"/>
<rect x="511.8" y="169.22" width="22" height="1.35" fill="#9393e0"/>
<rect x="511.8" y="170.21" width="22" height="1.35" fill="#b6b6ea"/>
<rect x="511.8" y="171.21" width="22" height="1.35" fill="#9696e1"/>
<rect x="511.8" y="172.21" width="22" height="1.35" fill="#8989dd"/>
<rect x="511.8" y="173.21" width="22" height="1.35" fill="#9898e1"/>
<rect x="511.8" y="174.21" width="22" height="1.35" fill="#6d6dd5"/>
<rect x="511.8" y="175.21" width="22" height="1.35" fill="#7c7cd9"/>
<rect x="511.8" y="176.21" width="22" height="1.35" fill="#9b9be2"/>
<rect x="511.8" y="177.20" width="22" height="1.35" fill="#9696e1"/>
<rect x="511.8" y="178.20" width="22" height="1.35" fill="#afafe8"/>
<rect x="511.8" y="179.20" width="22" height="1.35" fill="#8686dc"/>
<rect x="533.5" y="35.40" width="22" height="1.35" fill="#f7bec0"/>
<rect x="533.5" y="36.40" width="22" height="1.35" fill="#ed6a6e"/>
<rect x="533.5" y="37.40" width="22" height="1.35" fill="#e9464b"/>
<rect x="533.5" y="38.40" width="22" height="1.35" fill="#ef7c7f"/>
<rect x="533.5" y="39.39" width="22" height="1.35" fill="#e83f45"/>
<rect x="533.5" y="40.39" width="22" height="1.35" fill="#f29396"/>
<rect x="533.5" y="41.39" width="22" height="1.35" fill="#f8c1c3"/>
<rect x="533.5" y="42.39" width="22" height="1.35" fill="#f39fa1"/>
<rect x="533.5" y="43.39" width="22" height="1.35" fill="#f4a1a3"/>
<rect x="533.5" y="44.39" width="22" height="1.35" fill="#ed6d71"/>
<rect x="533.5" y="45.39" width="22" height="1.35" fill="#f5a8aa"/>
<rect x="533.5" y="46.38" width="22" height="1.35" fill="#f39a9d"/>
<rect x="533.5" y="47.38" width="22" height="1.35" fill="#f39b9e"/>
<rect x="533.5" y="48.38" width="22" height="1.35" fill="#f39ea0"/>
<rect x="533.5" y="49.38" width="22" height="1.35" fill="#f5abad"/>
<rect x="533.5" y="50.38" width="22" height="1.35" fill="#f28f92"/>
<rect x="533.5" y="51.38" width="22" height="1.35" fill="#ef797d"/>
<rect x="533.5" y="52.38" width="22" height="1.35" fill="#f08588"/>
<rect x="533.5" y="53.38" width="22" height="1.35" fill="#f5abad"/>
<rect x="533.5" y="54.37" width="22" height="1.35" fill="#f6b1b3"/>
<rect x="533.5" y="55.37" width="22" height="1.35" fill="#f29194"/>
<rect x="533.5" y="56.37" width="22" height="1.35" fill="#f4a6a8"/>
<rect x="533.5" y="57.37" width="22" height="1.35" fill="#f4a4a6"/>
<rect x="533.5" y="58.37" width="22" height="1.35" fill="#f7bebf"/>
<rect x="533.5" y="59.37" width="22" height="1.35" fill="#ec6468"/>
<rect x="533.5" y="60.37" width="22" height="1.35" fill="#ef7d81"/>
<rect x="533.5" y="61.36" width="22" height="1.35" fill="#f5acae"/>
<rect x="533.5" y="62.36" width="22" height="1.35" fill="#ef7e81"/>
<rect x="533.5" y="63.36" width="22" height="1.35" fill="#ee7377"/>
<rect x="533.5" y="64.36" width="22" height="1.35" fill="#f9cfd1"/>
<rect x="533.5" y="65.36" width="22" height="1.35" fill="#f4a2a4"/>
<rect x="533.5" y="66.36" width="22" height="1.35" fill="#f39ea0"/>
<rect x="533.5" y="67.36" width="22" height="1.35" fill="#f08487"/>
<rect x="533.5" y="68.35" width="22" height="1.35" fill="#f3979a"/>
<rect x="533.5" y="69.35" width="22" height="1.35" fill="#f39a9d"/>
<rect x="533.5" y="70.35" width="22" height="1.35" fill="#f29698"/>
<rect x="533.5" y="71.35" width="22" height="1.35" fill="#ed666a"/>
<rect x="533.5" y="72.35" width="22" height="1.35" fill="#ec5f63"/>
<rect x="533.5" y="73.35" width="22" height="1.35" fill="#f4a1a4"/>
<rect x="533.5" y="74.35" width="22" height="1.35" fill="#f5abad"/>
<rect x="533.5" y="75.34" width="22" height="1.35" fill="#ea5156"/>
<rect x="533.5" y="76.34" width="22" height="1.35" fill="#f5acaf"/>
<rect x="533.5" y="77.34" width="22" height="1.35" fill="#f4a2a5"/>
<rect x="533.5" y="78.34" width="22" height="1.35" fill="#f29396"/>
<rect x="533.5" y="79.34" width="22" height="1.35" fill="#f1888b"/>
<rect x="533.5" y="80.34" width="22" height="1.35" fill="#ef7b7e"/>
<rect x="533.5" y="81.34" width="22" height="1.35" fill="#f18a8e"/>
<rect x="533.5" y="82.34" width="22" height="1.35" fill="#f5aaac"/>
<rect x="533.5" y="83.33" width="22" height="1.35" fill="#f1888b"/>
<rect x="533.5" y="84.33" width="22" height="1.35" fill="#f18e91"/>
<rect x="533.5" y="85.33" width="22" height="1.35" fill="#ed666a"/>
<rect x="533.5" y="86.33" width="22" height="1.35" fill="#f29497"/>
<rect x="533.5" y="87.33" width="22" height="1.35" fill="#f6b5b7"/>
<rect x="533.5" y="88.33" width="22" height="1.35" fill="#f5aeb0"/>
<rect x="533.5" y="89.33" width="22" height="1.35" fill="#ee7074"/>
<rect x="533.5" y="90.32" width="22" height="1.35" fill="#f4a1a4"/>
<rect x="533.5" y="91.32" width="22" height="1.35" fill="#c7c7ef"/>
<rect x="533.5" y="92.32" width="22" height="1.35" fill="#efeffb"/>
<rect x="533.5" y="93.32" width="22" height="1.35" fill="#ffffff"/>
<rect x="533.5" y="94.32" width="22" height="1.35" fill="#fbe2e2"/>
<rect x="533.5" y="95.32" width="22" height="1.35" fill="#f5adaf"/>
<rect x="533.5" y="96.32" width="22" height="1.35" fill="#f08487"/>
<rect x="533.5" y="97.31" width="22" height="1.35" fill="#f08084"/>
<rect x="533.5" y="98.31" width="22" height="1.35" fill="#f4a5a8"/>
<rect x="533.5" y="99.31" width="22" height="1.35" fill="#f3999b"/>
<rect x="533.5" y="100.31" width="22" height="1.35" fill="#ed686c"/>
<rect x="533.5" y="101.31" width="22" height="1.35" fill="#ed6a6e"/>
<rect x="533.5" y="102.31" width="22" height="1.35" fill="#f07f82"/>
<rect x="533.5" y="103.31" width="22" height="1.35" fill="#f18c8f"/>
<rect x="533.5" y="104.30" width="22" height="1.35" fill="#ef787c"/>
<rect x="533.5" y="105.30" width="22" height="1.35" fill="#f3989a"/>
<rect x="533.5" y="106.30" width="22" height="1.35" fill="#f29699"/>
<rect x="533.5" y="107.30" width="22" height="1.35" fill="#9f9fe3"/>
<rect x="533.5" y="108.30" width="22" height="1.35" fill="#b6b6ea"/>
<rect x="533.5" y="109.30" width="22" height="1.35" fill="#b4b4e9"/>
<rect x="533.5" y="110.30" width="22" height="1.35" fill="#fffefe"/>
<rect x="533.5" y="111.30" width="22" height="1.35" fill="#b1b1e9"/>
<rect x="533.5" y="112.29" width="22" height="1.35" fill="#d8d8f4"/>
<rect x="533.5" y="113.29" width="22" height="1.35" fill="#d9d9f4"/>
<rect x="533.5" y="114.29" width="22" height="1.35" fill="#eeeefa"/>
<rect x="533.5" y="115.29" width="22" height="1.35" fill="#fdedee"/>
<rect x="533.5" y="116.29" width="22" height="1.35" fill="#b9b9eb"/>
<rect x="533.5" y="117.29" width="22" height="1.35" fill="#f5f5fc"/>
<rect x="533.5" y="118.29" width="22" height="1.35" fill="#fef5f5"/>
<rect x="533.5" y="119.28" width="22" height="1.35" fill="#b3b3e9"/>
<rect x="533.5" y="120.28" width="22" height="1.35" fill="#d4d4f3"/>
<rect x="533.5" y="121.28" width="22" height="1.35" fill="#fdf0f1"/>
<rect x="533.5" y="122.28" width="22" height="1.35" fill="#1d1dbe"/>
<rect x="533.5" y="123.28" width="22" height="1.35" fill="#0c0cb9"/>
<rect x="533.5" y="124.28" width="22" height="1.35" fill="#1a1abd"/>
<rect x="533.5" y="125.28" width="22" height="1.35" fill="#1616bc"/>
<rect x="533.5" y="126.27" width="22" height="1.35" fill="#3838c6"/>
<rect x="533.5" y="127.27" width="22" height="1.35" fill="#3030c3"/>
<rect x="533.5" y="128.27" width="22" height="1.35" fill="#1d1dbe"/>
<rect x="533.5" y="129.27" width="22" height="1.35" fill="#1313bb"/>
<rect x="533.5" y="130.27" width="22" height="1.35" fill="#2323c0"/>
<rect x="533.5" y="131.27" width="22" height="1.35" fill="#4848ca"/>
<rect x="533.5" y="132.27" width="22" height="1.35" fill="#2e2ec3"/>
<rect x="533.5" y="133.26" width="22" height="1.35" fill="#3535c5"/>
<rect x="533.5" y="134.26" width="22" height="1.35" fill="#cacaf0"/>
<rect x="533.5" y="135.26" width="22" height="1.35" fill="#acace7"/>
<rect x="533.5" y="136.26" width="22" height="1.35" fill="#bbbbec"/>
<rect x="533.5" y="137.26" width="22" height="1.35" fill="#e0e0f6"/>
<rect x="533.5" y="138.26" width="22" height="1.35" fill="#d1d1f2"/>
<rect x="533.5" y="139.26" width="22" height="1.35" fill="#b6b6ea"/>
<rect x="533.5" y="140.26" width="22" height="1.35" fill="#a3a3e5"/>
<rect x="533.5" y="141.25" width="22" height="1.35" fill="#d1d1f2"/>
<rect x="533.5" y="142.25" width="22" height="1.35" fill="#c5c5ee"/>
<rect x="533.5" y="143.25" width="22" height="1.35" fill="#c5c5ee"/>
<rect x="533.5" y="144.25" width="22" height="1.35" fill="#c6c6ee"/>
<rect x="533.5" y="145.25" width="22" height="1.35" fill="#d6d6f3"/>
<rect x="533.5" y="146.25" width="22" height="1.35" fill="#d6d6f3"/>
<rect x="533.5" y="147.25" width="22" height="1.35" fill="#e8e8f8"/>
<rect x="533.5" y="148.24" width="22" height="1.35" fill="#e7e7f8"/>
<rect x="533.5" y="149.24" width="22" height="1.35" fill="#f2f2fb"/>
<rect x="533.5" y="150.24" width="22" height="1.35" fill="#e4e4f7"/>
<rect x="533.5" y="151.24" width="22" height="1.35" fill="#c5c5ee"/>
<rect x="533.5" y="152.24" width="22" height="1.35" fill="#cdcdf1"/>
<rect x="533.5" y="153.24" width="22" height="1.35" fill="#dcdcf5"/>
<rect x="533.5" y="154.24" width="22" height="1.35" fill="#c6c6ef"/>
<rect x="533.5" y="155.23" width="22" height="1.35" fill="#7c7cd9"/>
<rect x="533.5" y="156.23" width="22" height="1.35" fill="#8c8cde"/>
<rect x="533.5" y="157.23" width="22" height="1.35" fill="#5858cf"/>
<rect x="533.5" y="158.23" width="22" height="1.35" fill="#3e3ec7"/>
<rect x="533.5" y="159.23" width="22" height="1.35" fill="#8d8dde"/>
<rect x="533.5" y="160.23" width="22" height="1.35" fill="#6e6ed5"/>
<rect x="533.5" y="161.23" width="22" height="1.35" fill="#8080da"/>
<rect x="533.5" y="162.22" width="22" height="1.35" fill="#4a4acb"/>
<rect x="533.5" y="163.22" width="22" height="1.35" fill="#9c9ce2"/>
<rect x="533.5" y="164.22" width="22" height="1.35" fill="#8181db"/>
<rect x="533.5" y="165.22" width="22" height="1.35" fill="#6a6ad4"/>
<rect x="533.5" y="166.22" width="22" height="1.35" fill="#6464d2"/>
<rect x="533.5" y="167.22" width="22" height="1.35" fill="#9595e0"/>
<rect x="533.5" y="168.22" width="22" height="1.35" fill="#8d8dde"/>
<rect x="533.5" y="169.22" width="22" height="1.35" fill="#8a8add"/>
<rect x="533.5" y="170.21" width="22" height="1.35" fill="#7474d7"/>
<rect x="533.5" y="171.21" width="22" height="1.35" fill="#b3b3e9"/>
<rect x="533.5" y="172.21" width="22" height="1.35" fill="#9191df"/>
<rect x="533.5" y="173.21" width="22" height="1.35" fill="#9494e0"/>
<rect x="533.5" y="174.21" width="22" height="1.35" fill="#9494e0"/>
<rect x="533.5" y="175.21" width="22" height="1.35" fill="#5353cd"/>
<rect x="533.5" y="176.21" width="22" height="1.35" fill="#a0a0e4"/>
<rect x="533.5" y="177.20" width="22" height="1.35" fill="#8989dd"/>
<rect x="533.5" y="178.20" width="22" height="1.35" fill="#8a8add"/>
<rect x="533.5" y="179.20" width="22" height="1.35" fill="#9494e0"/>
<rect x="555.3" y="35.40" width="22" height="1.35" fill="#f6b2b4"/>
<rect x="555.3" y="36.40" width="22" height="1.35" fill="#fad9da"/>
<rect x="555.3" y="37.40" width="22" height="1.35" fill="#ffffff"/>
<rect x="555.3" y="38.40" width="22" height="1.35" fill="#f6b0b2"/>
<rect x="555.3" y="39.39" width="22" height="1.35" fill="#f5afb1"/>
<rect x="555.3" y="40.39" width="22" height="1.35" fill="#f29699"/>
<rect x="555.3" y="41.39" width="22" height="1.35" fill="#f1878a"/>
<rect x="555.3" y="42.39" width="22" height="1.35" fill="#f5a8ab"/>
<rect x="555.3" y="43.39" width="22" height="1.35" fill="#f7bfc1"/>
<rect x="555.3" y="44.39" width="22" height="1.35" fill="#f07f83"/>
<rect x="555.3" y="45.39" width="22" height="1.35" fill="#f6b4b6"/>
<rect x="555.3" y="46.38" width="22" height="1.35" fill="#ef7c80"/>
<rect x="555.3" y="47.38" width="22" height="1.35" fill="#f39b9e"/>
<rect x="555.3" y="48.38" width="22" height="1.35" fill="#f5abad"/>
<rect x="555.3" y="49.38" width="22" height="1.35" fill="#f5aaac"/>
<rect x="555.3" y="50.38" width="22" height="1.35" fill="#f18e91"/>
<rect x="555.3" y="51.38" width="22" height="1.35" fill="#f08487"/>
<rect x="555.3" y="52.38" width="22" height="1.35" fill="#f39fa1"/>
<rect x="555.3" y="53.38" width="22" height="1.35" fill="#f08286"/>
<rect x="555.3" y="54.37" width="22" height="1.35" fill="#ed666a"/>
<rect x="555.3" y="55.37" width="22" height="1.35" fill="#f39fa1"/>
<rect x="555.3" y="56.37" width="22" height="1.35" fill="#f6b6b8"/>
<rect x="555.3" y="57.37" width="22" height="1.35" fill="#f6b4b6"/>
<rect x="555.3" y="58.37" width="22" height="1.35" fill="#f7bcbe"/>
<rect x="555.3" y="59.37" width="22" height="1.35" fill="#f5aaac"/>
<rect x="555.3" y="60.37" width="22" height="1.35" fill="#f5acae"/>
<rect x="555.3" y="61.36" width="22" height="1.35" fill="#f7bbbc"/>
<rect x="555.3" y="62.36" width="22" height="1.35" fill="#f18d90"/>
<rect x="555.3" y="63.36" width="22" height="1.35" fill="#fbdadb"/>
<rect x="555.3" y="64.36" width="22" height="1.35" fill="#f7babc"/>
<rect x="555.3" y="65.36" width="22" height="1.35" fill="#ed686c"/>
<rect x="555.3" y="66.36" width="22" height="1.35" fill="#f08083"/>
<rect x="555.3" y="67.36" width="22" height="1.35" fill="#f18d90"/>
<rect x="555.3" y="68.35" width="22" height="1.35" fill="#f18e91"/>
<rect x="555.3" y="69.35" width="22" height="1.35" fill="#ee6e72"/>
<rect x="555.3" y="70.35" width="22" height="1.35" fill="#f18c90"/>
<rect x="555.3" y="71.35" width="22" height="1.35" fill="#f3989b"/>
<rect x="555.3" y="72.35" width="22" height="1.35" fill="#f7b8ba"/>
<rect x="555.3" y="73.35" width="22" height="1.35" fill="#f39c9e"/>
<rect x="555.3" y="74.35" width="22" height="1.35" fill="#f5acae"/>
<rect x="555.3" y="75.34" width="22" height="1.35" fill="#f5abad"/>
<rect x="555.3" y="76.34" width="22" height="1.35" fill="#f9cdcf"/>
<rect x="555.3" y="77.34" width="22" height="1.35" fill="#f7bdbe"/>
<rect x="555.3" y="78.34" width="22" height="1.35" fill="#f8c4c5"/>
<rect x="555.3" y="79.34" width="22" height="1.35" fill="#f08487"/>
<rect x="555.3" y="80.34" width="22" height="1.35" fill="#f7bbbc"/>
<rect x="555.3" y="81.34" width="22" height="1.35" fill="#f39ea1"/>
<rect x="555.3" y="82.34" width="22" height="1.35" fill="#ed6c70"/>
<rect x="555.3" y="83.33" width="22" height="1.35" fill="#f3999c"/>
<rect x="555.3" y="84.33" width="22" height="1.35" fill="#ef7c80"/>
<rect x="555.3" y="85.33" width="22" height="1.35" fill="#ef7e81"/>
<rect x="555.3" y="86.33" width="22" height="1.35" fill="#ef797d"/>
<rect x="555.3" y="87.33" width="22" height="1.35" fill="#f1878b"/>
<rect x="555.3" y="88.33" width="22" height="1.35" fill="#f7bcbe"/>
<rect x="555.3" y="89.33" width="22" height="1.35" fill="#ef797d"/>
<rect x="555.3" y="90.32" width="22" height="1.35" fill="#ef7c7f"/>
<rect x="555.3" y="91.32" width="22" height="1.35" fill="#f3999b"/>
<rect x="555.3" y="92.32" width="22" height="1.35" fill="#f07e81"/>
<rect x="555.3" y="93.32" width="22" height="1.35" fill="#f29194"/>
<rect x="555.3" y="94.32" width="22" height="1.35" fill="#f39c9e"/>
<rect x="555.3" y="95.32" width="22" height="1.35" fill="#f29597"/>
<rect x="555.3" y="96.32" width="22" height="1.35" fill="#f39b9e"/>
<rect x="555.3" y="97.31" width="22" height="1.35" fill="#f5abad"/>
<rect x="555.3" y="98.31" width="22" height="1.35" fill="#f6b1b3"/>
<rect x="555.3" y="99.31" width="22" height="1.35" fill="#f4a7a9"/>
<rect x="555.3" y="100.31" width="22" height="1.35" fill="#f4a4a6"/>
<rect x="555.3" y="101.31" width="22" height="1.35" fill="#f4a4a6"/>
<rect x="555.3" y="102.31" width="22" height="1.35" fill="#f39b9e"/>
<rect x="555.3" y="103.31" width="22" height="1.35" fill="#f4a5a7"/>
<rect x="555.3" y="104.30" width="22" height="1.35" fill="#f29093"/>
<rect x="555.3" y="105.30" width="22" height="1.35" fill="#f18d90"/>
<rect x="555.3" y="106.30" width="22" height="1.35" fill="#f29194"/>
<rect x="555.3" y="107.30" width="22" height="1.35" fill="#ededfa"/>
<rect x="555.3" y="108.30" width="22" height="1.35" fill="#efeffa"/>
<rect x="555.3" y="109.30" width="22" height="1.35" fill="#fef4f5"/>
<rect x="555.3" y="110.30" width="22" height="1.35" fill="#fafafd"/>
<rect x="555.3" y="111.30" width="22" height="1.35" fill="#fefeff"/>
<rect x="555.3" y="112.29" width="22" height="1.35" fill="#bcbcec"/>
<rect x="555.3" y="113.29" width="22" height="1.35" fill="#b7b7ea"/>
<rect x="555.3" y="114.29" width="22" height="1.35" fill="#fef7f7"/>
<rect x="555.3" y="115.29" width="22" height="1.35" fill="#fef7f7"/>
<rect x="555.3" y="116.29" width="22" height="1.35" fill="#fafafd"/>
<rect x="555.3" y="117.29" width="22" height="1.35" fill="#e8e8f8"/>
<rect x="555.3" y="118.29" width="22" height="1.35" fill="#dadaf4"/>
<rect x="555.3" y="119.28" width="22" height="1.35" fill="#d5d5f3"/>
<rect x="555.3" y="120.28" width="22" height="1.35" fill="#aeaee8"/>
<rect x="555.3" y="121.28" width="22" height="1.35" fill="#ececfa"/>
<rect x="555.3" y="122.28" width="22" height="1.35" fill="#c4c4ee"/>
<rect x="555.3" y="123.28" width="22" height="1.35" fill="#fffefe"/>
<rect x="555.3" y="124.28" width="22" height="1.35" fill="#f8f8fd"/>
<rect x="555.3" y="125.28" width="22" height="1.35" fill="#fafafe"/>
<rect x="555.3" y="126.27" width="22" height="1.35" fill="#fef4f4"/>
<rect x="555.3" y="127.27" width="22" height="1.35" fill="#e6e6f8"/>
<rect x="555.3" y="128.27" width="22" height="1.35" fill="#e8e8f9"/>
<rect x="555.3" y="129.27" width="22" height="1.35" fill="#dcdcf5"/>
<rect x="555.3" y="130.27" width="22" height="1.35" fill="#e9e9f9"/>
<rect x="555.3" y="131.27" width="22" height="1.35" fill="#fbe1e2"/>
<rect x="555.3" y="132.27" width="22" height="1.35" fill="#e9e9f9"/>
<rect x="555.3" y="133.26" width="22" height="1.35" fill="#fdeded"/>
<rect x="555.3" y="134.26" width="22" height="1.35" fill="#9c9ce2"/>
<rect x="555.3" y="135.26" width="22" height="1.35" fill="#9999e2"/>
<rect x="555.3" y="136.26" width="22" height="1.35" fill="#9b9be2"/>
<rect x="555.3" y="137.26" width="22" height="1.35" fill="#6a6ad4"/>
<rect x="555.3" y="138.26" width="22" height="1.35" fill="#8f8fdf"/>
<rect x="555.3" y="139.26" width="22" height="1.35" fill="#b0b0e8"/>
<rect x="555.3" y="140.26" width="22" height="1.35" fill="#7373d7"/>
<rect x="555.3" y="141.25" width="22" height="1.35" fill="#8484dc"/>
<rect x="555.3" y="142.25" width="22" height="1.35" fill="#7373d7"/>
<rect x="555.3" y="143.25" width="22" height="1.35" fill="#8e8ede"/>
<rect x="555.3" y="144.25" width="22" height="1.35" fill="#6969d4"/>
<rect x="555.3" y="145.25" width="22" height="1.35" fill="#b1b1e8"/>
<rect x="555.3" y="146.25" width="22" height="1.35" fill="#7b7bd9"/>
<rect x="555.3" y="147.25" width="22" height="1.35" fill="#5c5cd0"/>
<rect x="555.3" y="148.24" width="22" height="1.35" fill="#b5b5ea"/>
<rect x="555.3" y="149.24" width="22" height="1.35" fill="#3232c4"/>
<rect x="555.3" y="150.24" width="22" height="1.35" fill="#2626c0"/>
<rect x="555.3" y="151.24" width="22" height="1.35" fill="#2626c1"/>
<rect x="555.3" y="152.24" width="22" height="1.35" fill="#0f0fba"/>
<rect x="555.3" y="153.24" width="22" height="1.35" fill="#1212bb"/>
<rect x="555.3" y="154.24" width="22" height="1.35" fill="#2c2cc2"/>
<rect x="555.3" y="155.23" width="22" height="1.35" fill="#3131c4"/>
<rect x="555.3" y="156.23" width="22" height="1.35" fill="#3131c4"/>
<rect x="555.3" y="157.23" width="22" height="1.35" fill="#7373d7"/>
<rect x="555.3" y="158.23" width="22" height="1.35" fill="#6161d1"/>
<rect x="555.3" y="159.23" width="22" height="1.35" fill="#6868d4"/>
<rect x="555.3" y="160.23" width="22" height="1.35" fill="#8b8bde"/>
<rect x="555.3" y="161.23" width="22" height="1.35" fill="#9494e0"/>
<rect x="555.3" y="162.22" width="22" height="1.35" fill="#6464d2"/>
<rect x="555.3" y="163.22" width="22" height="1.35" fill="#6060d1"/>
<rect x="555.3" y="164.22" width="22" height="1.35" fill="#8f8fdf"/>
<rect x="555.3" y="165.22" width="22" height="1.35" fill="#8181db"/>
<rect x="555.3" y="166.22" width="22" height="1.35" fill="#8080da"/>
<rect x="555.3" y="167.22" width="22" height="1.35" fill="#8787dc"/>
<rect x="555.3" y="168.22" width="22" height="1.35" fill="#a0a0e4"/>
<rect x="555.3" y="169.22" width="22" height="1.35" fill="#9c9ce3"/>
<rect x="555.3" y="170.21" width="22" height="1.35" fill="#b0b0e8"/>
<rect x="555.3" y="171.21" width="22" height="1.35" fill="#7d7dda"/>
<rect x="555.3" y="172.21" width="22" height="1.35" fill="#ccccf0"/>
<rect x="555.3" y="173.21" width="22" height="1.35" fill="#b2b2e9"/>
<rect x="555.3" y="174.21" width="22" height="1.35" fill="#b6b6ea"/>
<rect x="555.3" y="175.21" width="22" height="1.35" fill="#8a8add"/>
<rect x="555.3" y="176.21" width="22" height="1.35" fill="#a9a9e6"/>
<rect x="555.3" y="177.20" width="22" height="1.35" fill="#cecef1"/>
<rect x="555.3" y="178.20" width="22" height="1.35" fill="#8080da"/>
<rect x="555.3" y="179.20" width="22" height="1.35" fill="#b2b2e9"/>
<rect x="577" y="35.40" width="22" height="1.35" fill="#ededfa"/>
<rect x="577" y="36.40" width="22" height="1.35" fill="#c8c8ef"/>
<rect x="577" y="37.40" width="22" height="1.35" fill="#b4b4e9"/>
<rect x="577" y="38.40" width="22" height="1.35" fill="#9595e0"/>
<rect x="577" y="39.39" width="22" height="1.35" fill="#bfbfec"/>
<rect x="577" y="40.39" width="22" height="1.35" fill="#acace7"/>
<rect x="577" y="41.39" width="22" height="1.35" fill="#a4a4e5"/>
<rect x="577" y="42.39" width="22" height="1.35" fill="#d3d3f2"/>
<rect x="577" y="43.39" width="22" height="1.35" fill="#b4b4e9"/>
<rect x="577" y="44.39" width="22" height="1.35" fill="#fceaea"/>
<rect x="577" y="45.39" width="22" height="1.35" fill="#d3d3f2"/>
<rect x="577" y="46.38" width="22" height="1.35" fill="#e2e2f7"/>
<rect x="577" y="47.38" width="22" height="1.35" fill="#fef6f6"/>
<rect x="577" y="48.38" width="22" height="1.35" fill="#fef4f4"/>
<rect x="577" y="49.38" width="22" height="1.35" fill="#f1f1fb"/>
<rect x="577" y="50.38" width="22" height="1.35" fill="#fef7f7"/>
<rect x="577" y="51.38" width="22" height="1.35" fill="#d7d7f3"/>
<rect x="577" y="52.38" width="22" height="1.35" fill="#c8c8ef"/>
<rect x="577" y="53.38" width="22" height="1.35" fill="#a4a4e5"/>
<rect x="577" y="54.37" width="22" height="1.35" fill="#cbcbf0"/>
<rect x="577" y="55.37" width="22" height="1.35" fill="#b5b5ea"/>
<rect x="577" y="56.37" width="22" height="1.35" fill="#f4f4fc"/>
<rect x="577" y="57.37" width="22" height="1.35" fill="#fef8f8"/>
<rect x="577" y="58.37" width="22" height="1.35" fill="#f9ccce"/>
<rect x="577" y="59.37" width="22" height="1.35" fill="#6a6ad4"/>
<rect x="577" y="60.37" width="22" height="1.35" fill="#7575d7"/>
<rect x="577" y="61.36" width="22" height="1.35" fill="#a2a2e4"/>
<rect x="577" y="62.36" width="22" height="1.35" fill="#7a7ad9"/>
<rect x="577" y="63.36" width="22" height="1.35" fill="#b5b5ea"/>
<rect x="577" y="64.36" width="22" height="1.35" fill="#8b8bde"/>
<rect x="577" y="65.36" width="22" height="1.35" fill="#8888dd"/>
<rect x="577" y="66.36" width="22" height="1.35" fill="#8f8fdf"/>
<rect x="577" y="67.36" width="22" height="1.35" fill="#b4b4e9"/>
<rect x="577" y="68.35" width="22" height="1.35" fill="#9797e1"/>
<rect x="577" y="69.35" width="22" height="1.35" fill="#9393e0"/>
<rect x="577" y="70.35" width="22" height="1.35" fill="#8c8cde"/>
<rect x="577" y="71.35" width="22" height="1.35" fill="#5c5cd0"/>
<rect x="577" y="72.35" width="22" height="1.35" fill="#6e6ed5"/>
<rect x="577" y="73.35" width="22" height="1.35" fill="#adade7"/>
<rect x="577" y="74.35" width="22" height="1.35" fill="#9b9be2"/>
<rect x="577" y="75.34" width="22" height="1.35" fill="#9393e0"/>
<rect x="577" y="76.34" width="22" height="1.35" fill="#2929c1"/>
<rect x="577" y="77.34" width="22" height="1.35" fill="#0c0cb9"/>
<rect x="577" y="78.34" width="22" height="1.35" fill="#2121bf"/>
<rect x="577" y="79.34" width="22" height="1.35" fill="#0c0cb9"/>
<rect x="577" y="80.34" width="22" height="1.35" fill="#2323c0"/>
<rect x="577" y="81.34" width="22" height="1.35" fill="#0c0cb9"/>
<rect x="577" y="82.34" width="22" height="1.35" fill="#4f4fcc"/>
<rect x="577" y="83.33" width="22" height="1.35" fill="#6161d1"/>
<rect x="577" y="84.33" width="22" height="1.35" fill="#4c4ccb"/>
<rect x="577" y="85.33" width="22" height="1.35" fill="#6666d3"/>
<rect x="577" y="86.33" width="22" height="1.35" fill="#6161d2"/>
<rect x="577" y="87.33" width="22" height="1.35" fill="#5f5fd1"/>
<rect x="577" y="88.33" width="22" height="1.35" fill="#7878d8"/>
<rect x="577" y="89.33" width="22" height="1.35" fill="#8f8fdf"/>
<rect x="577" y="90.32" width="22" height="1.35" fill="#8b8bde"/>
<rect x="577" y="91.32" width="22" height="1.35" fill="#c7c7ef"/>
<rect x="577" y="92.32" width="22" height="1.35" fill="#8686dc"/>
<rect x="577" y="93.32" width="22" height="1.35" fill="#a3a3e4"/>
<rect x="577" y="94.32" width="22" height="1.35" fill="#8181db"/>
<rect x="577" y="95.32" width="22" height="1.35" fill="#8383db"/>
<rect x="577" y="96.32" width="22" height="1.35" fill="#5656ce"/>
<rect x="577" y="97.31" width="22" height="1.35" fill="#8181db"/>
<rect x="577" y="98.31" width="22" height="1.35" fill="#7f7fda"/>
<rect x="577" y="99.31" width="22" height="1.35" fill="#d7d7f3"/>
<rect x="577" y="100.31" width="22" height="1.35" fill="#dbdbf5"/>
<rect x="577" y="101.31" width="22" height="1.35" fill="#f0f0fb"/>
<rect x="577" y="102.31" width="22" height="1.35" fill="#fbfbfe"/>
<rect x="577" y="103.31" width="22" height="1.35" fill="#a4a4e5"/>
<rect x="577" y="104.30" width="22" height="1.35" fill="#f5f5fc"/>
<rect x="577" y="105.30" width="22" height="1.35" fill="#f6b6b8"/>
<rect x="577" y="106.30" width="22" height="1.35" fill="#f7c0c2"/>
<rect x="577" y="107.30" width="22" height="1.35" fill="#f18e91"/>
<rect x="577" y="108.30" width="22" height="1.35" fill="#f1898c"/>
<rect x="577" y="109.30" width="22" height="1.35" fill="#f5adaf"/>
<rect x="577" y="110.30" width="22" height="1.35" fill="#f18a8d"/>
<rect x="577" y="111.30" width="22" height="1.35" fill="#f39a9d"/>
<rect x="577" y="112.29" width="22" height="1.35" fill="#f5acae"/>
<rect x="577" y="113.29" width="22" height="1.35" fill="#f28f92"/>
<rect x="577" y="114.29" width="22" height="1.35" fill="#ee6f73"/>
<rect x="577" y="115.29" width="22" height="1.35" fill="#f7b8ba"/>
<rect x="577" y="116.29" width="22" height="1.35" fill="#f7bdbf"/>
<rect x="577" y="117.29" width="22" height="1.35" fill="#f7bdbf"/>
<rect x="577" y="118.29" width="22" height="1.35" fill="#ec6367"/>
<rect x="577" y="119.28" width="22" height="1.35" fill="#f39a9d"/>
<rect x="577" y="120.28" width="22" height="1.35" fill="#f29698"/>
<rect x="577" y="121.28" width="22" height="1.35" fill="#f5a8aa"/>
<rect x="577" y="122.28" width="22" height="1.35" fill="#f5abae"/>
<rect x="577" y="123.28" width="22" height="1.35" fill="#f8c6c8"/>
<rect x="577" y="124.28" width="22" height="1.35" fill="#f29093"/>
<rect x="577" y="125.28" width="22" height="1.35" fill="#f18e91"/>
<rect x="577" y="126.27" width="22" height="1.35" fill="#f8c5c7"/>
<rect x="577" y="127.27" width="22" height="1.35" fill="#f5aeb0"/>
<rect x="577" y="128.27" width="22" height="1.35" fill="#f4a7a9"/>
<rect x="577" y="129.27" width="22" height="1.35" fill="#f29598"/>
<rect x="577" y="130.27" width="22" height="1.35" fill="#f18e91"/>
<rect x="577" y="131.27" width="22" height="1.35" fill="#ef787c"/>
<rect x="577" y="132.27" width="22" height="1.35" fill="#ee7276"/>
<rect x="577" y="133.26" width="22" height="1.35" fill="#ef7a7d"/>
<rect x="577" y="134.26" width="22" height="1.35" fill="#ee7377"/>
<rect x="577" y="135.26" width="22" height="1.35" fill="#f6b1b3"/>
<rect x="577" y="136.26" width="22" height="1.35" fill="#f4a2a4"/>
<rect x="577" y="137.26" width="22" height="1.35" fill="#ef787b"/>
<rect x="577" y="138.26" width="22" height="1.35" fill="#f18d90"/>
<rect x="577" y="139.26" width="22" height="1.35" fill="#f29497"/>
<rect x="577" y="140.26" width="22" height="1.35" fill="#f8c5c7"/>
<rect x="577" y="141.25" width="22" height="1.35" fill="#f8c2c4"/>
<rect x="577" y="142.25" width="22" height="1.35" fill="#f08285"/>
<rect x="577" y="143.25" width="22" height="1.35" fill="#f18c8f"/>
<rect x="577" y="144.25" width="22" height="1.35" fill="#f39b9e"/>
<rect x="577" y="145.25" width="22" height="1.35" fill="#f39ea1"/>
<rect x="577" y="146.25" width="22" height="1.35" fill="#f7bfc1"/>
<rect x="577" y="147.25" width="22" height="1.35" fill="#f18b8e"/>
<rect x="577" y="148.24" width="22" height="1.35" fill="#ef7b7e"/>
<rect x="577" y="149.24" width="22" height="1.35" fill="#ed6b6f"/>
<rect x="577" y="150.24" width="22" height="1.35" fill="#f29396"/>
<rect x="577" y="151.24" width="22" height="1.35" fill="#f3999c"/>
<rect x="577" y="152.24" width="22" height="1.35" fill="#f5afb1"/>
<rect x="577" y="153.24" width="22" height="1.35" fill="#ef767a"/>
<rect x="577" y="154.24" width="22" height="1.35" fill="#ed6a6e"/>
<rect x="577" y="155.23" width="22" height="1.35" fill="#f4a3a6"/>
<rect x="577" y="156.23" width="22" height="1.35" fill="#f18d90"/>
<rect x="577" y="157.23" width="22" height="1.35" fill="#f29295"/>
<rect x="577" y="158.23" width="22" height="1.35" fill="#f4a2a5"/>
<rect x="577" y="159.23" width="22" height="1.35" fill="#fad2d3"/>
<rect x="577" y="160.23" width="22" height="1.35" fill="#f39da0"/>
<rect x="577" y="161.23" width="22" height="1.35" fill="#f08588"/>
<rect x="577" y="162.22" width="22" height="1.35" fill="#f6b8ba"/>
<rect x="577" y="163.22" width="22" height="1.35" fill="#f5a9ab"/>
<rect x="577" y="164.22" width="22" height="1.35" fill="#fce5e6"/>
<rect x="577" y="165.22" width="22" height="1.35" fill="#ee7478"/>
<rect x="577" y="166.22" width="22" height="1.35" fill="#f1888b"/>
<rect x="577" y="167.22" width="22" height="1.35" fill="#f29396"/>
<rect x="577" y="168.22" width="22" height="1.35" fill="#f39b9d"/>
<rect x="577" y="169.22" width="22" height="1.35" fill="#f4a4a6"/>
<rect x="577" y="170.21" width="22" height="1.35" fill="#f29699"/>
<rect x="577" y="171.21" width="22" height="1.35" fill="#f39c9e"/>
<rect x="577" y="172.21" width="22" height="1.35" fill="#f39a9d"/>
<rect x="577" y="173.21" width="22" height="1.35" fill="#f29598"/>
<rect x="577" y="174.21" width="22" height="1.35" fill="#f29194"/>
<rect x="577" y="175.21" width="22" height="1.35" fill="#ee6e72"/>
<rect x="577" y="176.21" width="22" height="1.35" fill="#f6b8ba"/>
<rect x="577" y="177.20" width="22" height="1.35" fill="#f18e91"/>
<rect x="577" y="178.20" width="22" height="1.35" fill="#f4a4a6"/>
<rect x="577" y="179.20" width="22" height="1.35" fill="#f6b0b2"/>
<rect x="598.7" y="35.40" width="22" height="1.35" fill="#2e2ec3"/>
<rect x="598.7" y="36.40" width="22" height="1.35" fill="#7d7dda"/>
<rect x="598.7" y="37.40" width="22" height="1.35" fill="#5353cd"/>
<rect x="598.7" y="38.40" width="22" height="1.35" fill="#5959cf"/>
<rect x="598.7" y="39.39" width="22" height="1.35" fill="#7979d9"/>
<rect x="598.7" y="40.39" width="22" height="1.35" fill="#5050cd"/>
<rect x="598.7" y="41.39" width="22" height="1.35" fill="#6e6ed5"/>
<rect x="598.7" y="42.39" width="22" height="1.35" fill="#6b6bd4"/>
<rect x="598.7" y="43.39" width="22" height="1.35" fill="#3939c6"/>
<rect x="598.7" y="44.39" width="22" height="1.35" fill="#3f3fc8"/>
<rect x="598.7" y="45.39" width="22" height="1.35" fill="#0d0db9"/>
<rect x="598.7" y="46.38" width="22" height="1.35" fill="#3d3dc7"/>
<rect x="598.7" y="47.38" width="22" height="1.35" fill="#8383db"/>
<rect x="598.7" y="48.38" width="22" height="1.35" fill="#8989dd"/>
<rect x="598.7" y="49.38" width="22" height="1.35" fill="#8080da"/>
<rect x="598.7" y="50.38" width="22" height="1.35" fill="#9a9ae2"/>
<rect x="598.7" y="51.38" width="22" height="1.35" fill="#6565d3"/>
<rect x="598.7" y="52.38" width="22" height="1.35" fill="#ededfa"/>
<rect x="598.7" y="53.38" width="22" height="1.35" fill="#fef9f9"/>
<rect x="598.7" y="54.37" width="22" height="1.35" fill="#dfdff6"/>
<rect x="598.7" y="55.37" width="22" height="1.35" fill="#fce4e4"/>
<rect x="598.7" y="56.37" width="22" height="1.35" fill="#d3d3f2"/>
<rect x="598.7" y="57.37" width="22" height="1.35" fill="#ececfa"/>
<rect x="598.7" y="58.37" width="22" height="1.35" fill="#dadaf4"/>
<rect x="598.7" y="59.37" width="22" height="1.35" fill="#d6d6f3"/>
<rect x="598.7" y="60.37" width="22" height="1.35" fill="#c9c9ef"/>
<rect x="598.7" y="61.36" width="22" height="1.35" fill="#8383db"/>
<rect x="598.7" y="62.36" width="22" height="1.35" fill="#9090df"/>
<rect x="598.7" y="63.36" width="22" height="1.35" fill="#7c7cd9"/>
<rect x="598.7" y="64.36" width="22" height="1.35" fill="#a9a9e6"/>
<rect x="598.7" y="65.36" width="22" height="1.35" fill="#babaeb"/>
<rect x="598.7" y="66.36" width="22" height="1.35" fill="#6969d4"/>
<rect x="598.7" y="67.36" width="22" height="1.35" fill="#a8a8e6"/>
<rect x="598.7" y="68.35" width="22" height="1.35" fill="#9696e1"/>
<rect x="598.7" y="69.35" width="22" height="1.35" fill="#9898e1"/>
<rect x="598.7" y="70.35" width="22" height="1.35" fill="#d3d3f2"/>
<rect x="598.7" y="71.35" width="22" height="1.35" fill="#b2b2e9"/>
<rect x="598.7" y="72.35" width="22" height="1.35" fill="#9a9ae2"/>
<rect x="598.7" y="73.35" width="22" height="1.35" fill="#9696e1"/>
<rect x="598.7" y="74.35" width="22" height="1.35" fill="#5858cf"/>
<rect x="598.7" y="75.34" width="22" height="1.35" fill="#fce6e7"/>
<rect x="598.7" y="76.34" width="22" height="1.35" fill="#f1f1fb"/>
<rect x="598.7" y="77.34" width="22" height="1.35" fill="#fef5f5"/>
<rect x="598.7" y="78.34" width="22" height="1.35" fill="#fef7f7"/>
<rect x="598.7" y="79.34" width="22" height="1.35" fill="#fbe2e2"/>
<rect x="598.7" y="80.34" width="22" height="1.35" fill="#f8c7c9"/>
<rect x="598.7" y="81.34" width="22" height="1.35" fill="#fbe1e2"/>
<rect x="598.7" y="82.34" width="22" height="1.35" fill="#fbdadb"/>
<rect x="598.7" y="83.33" width="22" height="1.35" fill="#ffffff"/>
<rect x="598.7" y="84.33" width="22" height="1.35" fill="#fdeeef"/>
<rect x="598.7" y="85.33" width="22" height="1.35" fill="#fce6e7"/>
<rect x="598.7" y="86.33" width="22" height="1.35" fill="#dfdff6"/>
<rect x="598.7" y="87.33" width="22" height="1.35" fill="#f8c7c8"/>
<rect x="598.7" y="88.33" width="22" height="1.35" fill="#f2f2fb"/>
<rect x="598.7" y="89.33" width="22" height="1.35" fill="#5757cf"/>
<rect x="598.7" y="90.32" width="22" height="1.35" fill="#a5a5e5"/>
<rect x="598.7" y="91.32" width="22" height="1.35" fill="#b2b2e9"/>
<rect x="598.7" y="92.32" width="22" height="1.35" fill="#6767d3"/>
<rect x="598.7" y="93.32" width="22" height="1.35" fill="#6969d4"/>
<rect x="598.7" y="94.32" width="22" height="1.35" fill="#cdcdf0"/>
<rect x="598.7" y="95.32" width="22" height="1.35" fill="#7c7cd9"/>
<rect x="598.7" y="96.32" width="22" height="1.35" fill="#4444c9"/>
<rect x="598.7" y="97.31" width="22" height="1.35" fill="#6969d4"/>
<rect x="598.7" y="98.31" width="22" height="1.35" fill="#4e4ecc"/>
<rect x="598.7" y="99.31" width="22" height="1.35" fill="#2a2ac2"/>
<rect x="598.7" y="100.31" width="22" height="1.35" fill="#2c2cc2"/>
<rect x="598.7" y="101.31" width="22" height="1.35" fill="#3939c6"/>
<rect x="598.7" y="102.31" width="22" height="1.35" fill="#2a2ac2"/>
<rect x="598.7" y="103.31" width="22" height="1.35" fill="#0f0fba"/>
<rect x="598.7" y="104.30" width="22" height="1.35" fill="#0c0cb9"/>
<rect x="598.7" y="105.30" width="22" height="1.35" fill="#2424c0"/>
<rect x="598.7" y="106.30" width="22" height="1.35" fill="#f8c1c2"/>
<rect x="598.7" y="107.30" width="22" height="1.35" fill="#cdcdf1"/>
<rect x="598.7" y="108.30" width="22" height="1.35" fill="#fdfdff"/>
<rect x="598.7" y="109.30" width="22" height="1.35" fill="#f1878a"/>
<rect x="598.7" y="110.30" width="22" height="1.35" fill="#f29396"/>
<rect x="598.7" y="111.30" width="22" height="1.35" fill="#f29295"/>
<rect x="598.7" y="112.29" width="22" height="1.35" fill="#f08285"/>
<rect x="598.7" y="113.29" width="22" height="1.35" fill="#ef7d81"/>
<rect x="598.7" y="114.29" width="22" height="1.35" fill="#f6b5b7"/>
<rect x="598.7" y="115.29" width="22" height="1.35" fill="#f29093"/>
<rect x="598.7" y="116.29" width="22" height="1.35" fill="#ed6a6e"/>
<rect x="598.7" y="117.29" width="22" height="1.35" fill="#f08185"/>
<rect x="598.7" y="118.29" width="22" height="1.35" fill="#f4a7a9"/>
<rect x="598.7" y="119.28" width="22" height="1.35" fill="#f4a5a7"/>
<rect x="598.7" y="120.28" width="22" height="1.35" fill="#f8c7c9"/>
<rect x="598.7" y="121.28" width="22" height="1.35" fill="#f5a8aa"/>
<rect x="598.7" y="122.28" width="22" height="1.35" fill="#ed6c70"/>
<rect x="598.7" y="123.28" width="22" height="1.35" fill="#f29699"/>
<rect x="598.7" y="124.28" width="22" height="1.35" fill="#f5a9ac"/>
<rect x="598.7" y="125.28" width="22" height="1.35" fill="#f4a2a5"/>
<rect x="598.7" y="126.27" width="22" height="1.35" fill="#f3979a"/>
<rect x="598.7" y="127.27" width="22" height="1.35" fill="#f2979a"/>
<rect x="598.7" y="128.27" width="22" height="1.35" fill="#f39da0"/>
<rect x="598.7" y="129.27" width="22" height="1.35" fill="#f4a7aa"/>
<rect x="598.7" y="130.27" width="22" height="1.35" fill="#f08488"/>
<rect x="598.7" y="131.27" width="22" height="1.35" fill="#ee6e72"/>
<rect x="598.7" y="132.27" width="22" height="1.35" fill="#f4a2a5"/>
<rect x="598.7" y="133.26" width="22" height="1.35" fill="#f4a2a4"/>
<rect x="598.7" y="134.26" width="22" height="1.35" fill="#ef777a"/>
<rect x="598.7" y="135.26" width="22" height="1.35" fill="#f7b8ba"/>
<rect x="598.7" y="136.26" width="22" height="1.35" fill="#f4a3a5"/>
<rect x="598.7" y="137.26" width="22" height="1.35" fill="#f39da0"/>
<rect x="598.7" y="138.26" width="22" height="1.35" fill="#f29093"/>
<rect x="598.7" y="139.26" width="22" height="1.35" fill="#f39b9e"/>
<rect x="598.7" y="140.26" width="22" height="1.35" fill="#f5aaac"/>
<rect x="598.7" y="141.25" width="22" height="1.35" fill="#f18c8f"/>
<rect x="598.7" y="142.25" width="22" height="1.35" fill="#f6b2b4"/>
<rect x="598.7" y="143.25" width="22" height="1.35" fill="#f7bfc1"/>
<rect x="598.7" y="144.25" width="22" height="1.35" fill="#f8c6c8"/>
<rect x="598.7" y="145.25" width="22" height="1.35" fill="#f08285"/>
<rect x="598.7" y="146.25" width="22" height="1.35" fill="#f7bfc1"/>
<rect x="598.7" y="147.25" width="22" height="1.35" fill="#f1898c"/>
<rect x="598.7" y="148.24" width="22" height="1.35" fill="#f08487"/>
<rect x="598.7" y="149.24" width="22" height="1.35" fill="#f08084"/>
<rect x="598.7" y="150.24" width="22" height="1.35" fill="#f3989b"/>
<rect x="598.7" y="151.24" width="22" height="1.35" fill="#f4a2a4"/>
<rect x="598.7" y="152.24" width="22" height="1.35" fill="#f29295"/>
<rect x="598.7" y="153.24" width="22" height="1.35" fill="#f4a3a5"/>
<rect x="598.7" y="154.24" width="22" height="1.35" fill="#f6b4b6"/>
<rect x="598.7" y="155.23" width="22" height="1.35" fill="#ee7579"/>
<rect x="598.7" y="156.23" width="22" height="1.35" fill="#f5aaad"/>
<rect x="598.7" y="157.23" width="22" height="1.35" fill="#ed686c"/>
<rect x="598.7" y="158.23" width="22" height="1.35" fill="#f1878b"/>
<rect x="598.7" y="159.23" width="22" height="1.35" fill="#f49fa2"/>
<rect x="598.7" y="160.23" width="22" height="1.35" fill="#f1898c"/>
<rect x="598.7" y="161.23" width="22" height="1.35" fill="#ef7679"/>
<rect x="598.7" y="162.22" width="22" height="1.35" fill="#f6b6b8"/>
<rect x="598.7" y="163.22" width="22" height="1.35" fill="#f5abad"/>
<rect x="598.7" y="164.22" width="22" height="1.35" fill="#f5aeb0"/>
<rect x="598.7" y="165.22" width="22" height="1.35" fill="#f29093"/>
<rect x="598.7" y="166.22" width="22" height="1.35" fill="#f18a8d"/>
<rect x="598.7" y="167.22" width="22" height="1.35" fill="#f29396"/>
<rect x="598.7" y="168.22" width="22" height="1.35" fill="#f4a6a9"/>
<rect x="598.7" y="169.22" width="22" height="1.35" fill="#f4a1a4"/>
<rect x="598.7" y="170.21" width="22" height="1.35" fill="#ef777a"/>
<rect x="598.7" y="171.21" width="22" height="1.35" fill="#ef787c"/>
<rect x="598.7" y="172.21" width="22" height="1.35" fill="#f29194"/>
<rect x="598.7" y="173.21" width="22" height="1.35" fill="#f6b5b7"/>
<rect x="598.7" y="174.21" width="22" height="1.35" fill="#f08588"/>
<rect x="598.7" y="175.21" width="22" height="1.35" fill="#f18d90"/>
<rect x="598.7" y="176.21" width="22" height="1.35" fill="#f18e91"/>
<rect x="598.7" y="177.20" width="22" height="1.35" fill="#ed696d"/>
<rect x="598.7" y="178.20" width="22" height="1.35" fill="#f08083"/>
<rect x="598.7" y="179.20" width="22" height="1.35" fill="#f5acae"/>
<rect x="620.5" y="35.40" width="22" height="1.35" fill="#9090df"/>
<rect x="620.5" y="36.40" width="22" height="1.35" fill="#cfcff1"/>
<rect x="620.5" y="37.40" width="22" height="1.35" fill="#afafe8"/>
<rect x="620.5" y="38.40" width="22" height="1.35" fill="#c2c2ed"/>
<rect x="620.5" y="39.39" width="22" height="1.35" fill="#a7a7e6"/>
<rect x="620.5" y="40.39" width="22" height="1.35" fill="#9191df"/>
<rect x="620.5" y="41.39" width="22" height="1.35" fill="#b3b3e9"/>
<rect x="620.5" y="42.39" width="22" height="1.35" fill="#d5d5f3"/>
<rect x="620.5" y="43.39" width="22" height="1.35" fill="#b5b5ea"/>
<rect x="620.5" y="44.39" width="22" height="1.35" fill="#8d8dde"/>
<rect x="620.5" y="45.39" width="22" height="1.35" fill="#a3a3e5"/>
<rect x="620.5" y="46.38" width="22" height="1.35" fill="#9e9ee3"/>
<rect x="620.5" y="47.38" width="22" height="1.35" fill="#6868d3"/>
<rect x="620.5" y="48.38" width="22" height="1.35" fill="#7e7eda"/>
<rect x="620.5" y="49.38" width="22" height="1.35" fill="#9898e1"/>
<rect x="620.5" y="50.38" width="22" height="1.35" fill="#6969d4"/>
<rect x="620.5" y="51.38" width="22" height="1.35" fill="#5858cf"/>
<rect x="620.5" y="52.38" width="22" height="1.35" fill="#1d1dbe"/>
<rect x="620.5" y="53.38" width="22" height="1.35" fill="#1b1bbd"/>
<rect x="620.5" y="54.37" width="22" height="1.35" fill="#0f0fba"/>
<rect x="620.5" y="55.37" width="22" height="1.35" fill="#1b1bbd"/>
<rect x="620.5" y="56.37" width="22" height="1.35" fill="#1b1bbd"/>
<rect x="620.5" y="57.37" width="22" height="1.35" fill="#0c0cb9"/>
<rect x="620.5" y="58.37" width="22" height="1.35" fill="#2929c1"/>
<rect x="620.5" y="59.37" width="22" height="1.35" fill="#7e7eda"/>
<rect x="620.5" y="60.37" width="22" height="1.35" fill="#6e6ed5"/>
<rect x="620.5" y="61.36" width="22" height="1.35" fill="#9595e1"/>
<rect x="620.5" y="62.36" width="22" height="1.35" fill="#7b7bd9"/>
<rect x="620.5" y="63.36" width="22" height="1.35" fill="#b7b7ea"/>
<rect x="620.5" y="64.36" width="22" height="1.35" fill="#9595e0"/>
<rect x="620.5" y="65.36" width="22" height="1.35" fill="#8a8add"/>
<rect x="620.5" y="66.36" width="22" height="1.35" fill="#7474d7"/>
<rect x="620.5" y="67.36" width="22" height="1.35" fill="#7d7dda"/>
<rect x="620.5" y="68.35" width="22" height="1.35" fill="#9f9fe3"/>
<rect x="620.5" y="69.35" width="22" height="1.35" fill="#7575d7"/>
<rect x="620.5" y="70.35" width="22" height="1.35" fill="#9c9ce2"/>
<rect x="620.5" y="71.35" width="22" height="1.35" fill="#5050cc"/>
<rect x="620.5" y="72.35" width="22" height="1.35" fill="#8d8dde"/>
<rect x="620.5" y="73.35" width="22" height="1.35" fill="#9d9de3"/>
<rect x="620.5" y="74.35" width="22" height="1.35" fill="#9191df"/>
<rect x="620.5" y="75.34" width="22" height="1.35" fill="#8787dd"/>
<rect x="620.5" y="76.34" width="22" height="1.35" fill="#a3a3e4"/>
<rect x="620.5" y="77.34" width="22" height="1.35" fill="#dedef5"/>
<rect x="620.5" y="78.34" width="22" height="1.35" fill="#dbdbf5"/>
<rect x="620.5" y="79.34" width="22" height="1.35" fill="#f8f8fd"/>
<rect x="620.5" y="80.34" width="22" height="1.35" fill="#fdebeb"/>
<rect x="620.5" y="81.34" width="22" height="1.35" fill="#fffefe"/>
<rect x="620.5" y="82.34" width="22" height="1.35" fill="#b3b3e9"/>
<rect x="620.5" y="83.33" width="22" height="1.35" fill="#c0c0ed"/>
<rect x="620.5" y="84.33" width="22" height="1.35" fill="#c4c4ee"/>
<rect x="620.5" y="85.33" width="22" height="1.35" fill="#9797e1"/>
<rect x="620.5" y="86.33" width="22" height="1.35" fill="#6d6dd5"/>
<rect x="620.5" y="87.33" width="22" height="1.35" fill="#9d9de3"/>
<rect x="620.5" y="88.33" width="22" height="1.35" fill="#9090df"/>
<rect x="620.5" y="89.33" width="22" height="1.35" fill="#cdcdf1"/>
<rect x="620.5" y="90.32" width="22" height="1.35" fill="#bcbcec"/>
<rect x="620.5" y="91.32" width="22" height="1.35" fill="#c5c5ee"/>
<rect x="620.5" y="92.32" width="22" height="1.35" fill="#e8e8f8"/>
<rect x="620.5" y="93.32" width="22" height="1.35" fill="#dfdff6"/>
<rect x="620.5" y="94.32" width="22" height="1.35" fill="#dcdcf5"/>
<rect x="620.5" y="95.32" width="22" height="1.35" fill="#fef6f6"/>
<rect x="620.5" y="96.32" width="22" height="1.35" fill="#d0d0f2"/>
<rect x="620.5" y="97.31" width="22" height="1.35" fill="#fffbfb"/>
<rect x="620.5" y="98.31" width="22" height="1.35" fill="#fad2d4"/>
<rect x="620.5" y="99.31" width="22" height="1.35" fill="#f0f0fb"/>
<rect x="620.5" y="100.31" width="22" height="1.35" fill="#e2e2f7"/>
<rect x="620.5" y="101.31" width="22" height="1.35" fill="#f9d1d2"/>
<rect x="620.5" y="102.31" width="22" height="1.35" fill="#fce9ea"/>
<rect x="620.5" y="103.31" width="22" height="1.35" fill="#fce3e3"/>
<rect x="620.5" y="104.30" width="22" height="1.35" fill="#fbe2e2"/>
<rect x="620.5" y="105.30" width="22" height="1.35" fill="#fbdbdc"/>
<rect x="620.5" y="106.30" width="22" height="1.35" fill="#f5aeb0"/>
<rect x="620.5" y="107.30" width="22" height="1.35" fill="#f18e91"/>
<rect x="620.5" y="108.30" width="22" height="1.35" fill="#f5a8aa"/>
<rect x="620.5" y="109.30" width="22" height="1.35" fill="#f1888c"/>
<rect x="620.5" y="110.30" width="22" height="1.35" fill="#f08689"/>
<rect x="620.5" y="111.30" width="22" height="1.35" fill="#f3979a"/>
<rect x="620.5" y="112.29" width="22" height="1.35" fill="#ef7b7f"/>
<rect x="620.5" y="113.29" width="22" height="1.35" fill="#e84348"/>
<rect x="620.5" y="114.29" width="22" height="1.35" fill="#f5a8ab"/>
<rect x="620.5" y="115.29" width="22" height="1.35" fill="#ef777b"/>
<rect x="620.5" y="116.29" width="22" height="1.35" fill="#ee7478"/>
<rect x="620.5" y="117.29" width="22" height="1.35" fill="#ee7175"/>
<rect x="620.5" y="118.29" width="22" height="1.35" fill="#f49fa2"/>
<rect x="620.5" y="119.28" width="22" height="1.35" fill="#ee6e72"/>
<rect x="620.5" y="120.28" width="22" height="1.35" fill="#ef7b7f"/>
<rect x="620.5" y="121.28" width="22" height="1.35" fill="#f18e91"/>
<rect x="620.5" y="122.28" width="22" height="1.35" fill="#f29497"/>
<rect x="620.5" y="123.28" width="22" height="1.35" fill="#f08588"/>
<rect x="620.5" y="124.28" width="22" height="1.35" fill="#ee7478"/>
<rect x="620.5" y="125.28" width="22" height="1.35" fill="#ee7579"/>
<rect x="620.5" y="126.27" width="22" height="1.35" fill="#ea5257"/>
<rect x="620.5" y="127.27" width="22" height="1.35" fill="#f29496"/>
<rect x="620.5" y="128.27" width="22" height="1.35" fill="#ef7b7f"/>
<rect x="620.5" y="129.27" width="22" height="1.35" fill="#f29598"/>
<rect x="620.5" y="130.27" width="22" height="1.35" fill="#ef777b"/>
<rect x="620.5" y="131.27" width="22" height="1.35" fill="#f1878b"/>
<rect x="620.5" y="132.27" width="22" height="1.35" fill="#f3999c"/>
<rect x="620.5" y="133.26" width="22" height="1.35" fill="#f5abae"/>
<rect x="620.5" y="134.26" width="22" height="1.35" fill="#f39ea0"/>
<rect x="620.5" y="135.26" width="22" height="1.35" fill="#f08588"/>
<rect x="620.5" y="136.26" width="22" height="1.35" fill="#ed666a"/>
<rect x="620.5" y="137.26" width="22" height="1.35" fill="#ef777b"/>
<rect x="620.5" y="138.26" width="22" height="1.35" fill="#f5a8ab"/>
<rect x="620.5" y="139.26" width="22" height="1.35" fill="#f2979a"/>
<rect x="620.5" y="140.26" width="22" height="1.35" fill="#f18a8d"/>
<rect x="620.5" y="141.25" width="22" height="1.35" fill="#f18e91"/>
<rect x="620.5" y="142.25" width="22" height="1.35" fill="#f18a8d"/>
<rect x="620.5" y="143.25" width="22" height="1.35" fill="#ef787c"/>
<rect x="620.5" y="144.25" width="22" height="1.35" fill="#f1878a"/>
<rect x="620.5" y="145.25" width="22" height="1.35" fill="#f39da0"/>
<rect x="620.5" y="146.25" width="22" height="1.35" fill="#f7bcbe"/>
<rect x="620.5" y="147.25" width="22" height="1.35" fill="#f29598"/>
<rect x="620.5" y="148.24" width="22" height="1.35" fill="#f6b6b8"/>
<rect x="620.5" y="149.24" width="22" height="1.35" fill="#f29194"/>
<rect x="620.5" y="150.24" width="22" height="1.35" fill="#f08689"/>
<rect x="620.5" y="151.24" width="22" height="1.35" fill="#f5afb1"/>
<rect x="620.5" y="152.24" width="22" height="1.35" fill="#f29194"/>
<rect x="620.5" y="153.24" width="22" height="1.35" fill="#f29799"/>
<rect x="620.5" y="154.24" width="22" height="1.35" fill="#ec5f64"/>
<rect x="620.5" y="155.23" width="22" height="1.35" fill="#f08387"/>
<rect x="620.5" y="156.23" width="22" height="1.35" fill="#f7bebf"/>
<rect x="620.5" y="157.23" width="22" height="1.35" fill="#f08487"/>
<rect x="620.5" y="158.23" width="22" height="1.35" fill="#f08588"/>
<rect x="620.5" y="159.23" width="22" height="1.35" fill="#f29497"/>
<rect x="620.5" y="160.23" width="22" height="1.35" fill="#f3999b"/>
<rect x="620.5" y="161.23" width="22" height="1.35" fill="#f08184"/>
<rect x="620.5" y="162.22" width="22" height="1.35" fill="#f07f83"/>
<rect x="620.5" y="163.22" width="22" height="1.35" fill="#f08588"/>
<rect x="620.5" y="164.22" width="22" height="1.35" fill="#f5a9ab"/>
<rect x="620.5" y="165.22" width="22" height="1.35" fill="#f29699"/>
<rect x="620.5" y="166.22" width="22" height="1.35" fill="#f6b7b9"/>
<rect x="620.5" y="167.22" width="22" height="1.35" fill="#f6b5b7"/>
<rect x="620.5" y="168.22" width="22" height="1.35" fill="#f39ea1"/>
<rect x="620.5" y="169.22" width="22" height="1.35" fill="#f5abad"/>
<rect x="620.5" y="170.21" width="22" height="1.35" fill="#f39b9d"/>
<rect x="620.5" y="171.21" width="22" height="1.35" fill="#ea5358"/>
<rect x="620.5" y="172.21" width="22" height="1.35" fill="#f08588"/>
<rect x="620.5" y="173.21" width="22" height="1.35" fill="#f4a7a9"/>
<rect x="620.5" y="174.21" width="22" height="1.35" fill="#f8c6c8"/>
<rect x="620.5" y="175.21" width="22" height="1.35" fill="#f4a6a8"/>
<rect x="620.5" y="176.21" width="22" height="1.35" fill="#f6b5b7"/>
<rect x="620.5" y="177.20" width="22" height="1.35" fill="#f8c8c9"/>
<rect x="620.5" y="178.20" width="22" height="1.35" fill="#f08083"/>
<rect x="620.5" y="179.20" width="22" height="1.35" fill="#f39da0"/>
<rect x="511.8" y="29.1" width="65.2" height="4.8" fill="#1FD0AE"/>
<rect x="577" y="29.1" width="65.2" height="4.8" fill="#F8877F"/>
<path d="M522.7 28.6V17.2H566.1V28.6M544.4 17.2V28.6M587.9 28.6V16.5H631.3V28.6M609.6 16.5V28.6M539.4 17.2V3.6H604.5V16.5" stroke="#3a3a3a" stroke-width="0.6" fill="none"/>
<path d="M511.8 35.50H509V35.71H511.8M509 35.61H505.6V35.92H511.8M505.6 35.76H501.5V36.12H511.8M511.8 36.54H511.5V36.74H511.8M511.8 36.33H506.7V36.64H511.5M511.8 36.95H506V37.16H511.8M506.7 36.49H501.8V37.05H506M511.8 37.37H511.5V37.57H511.8M511.5 37.47H507.8V37.78H511.8M507.8 37.62H503.2V37.99H511.8M511.8 38.40H506.5V38.61H511.8M511.8 38.19H502.6V38.50H506.5M511.8 39.02H511.3V39.23H511.8M511.8 38.81H505.7V39.12H511.3M505.7 38.97H500.7V39.43H511.8M502.6 38.35H498.2V39.20H500.7M511.8 39.64H499.9V39.85H511.8M498.2 38.77H496.3V39.74H499.9M511.8 40.26H506.1V40.47H511.8M506.1 40.36H500.8V40.67H511.8M511.8 40.05H497.1V40.52H500.8M496.3 39.26H495.5V40.29H497.1M511.8 40.88H511.5V41.09H511.8M511.5 40.99H508.5V41.30H511.8M508.5 41.14H503.4V41.50H511.8M511.8 41.71H504.4V41.92H511.8M503.4 41.32H500.3V41.81H504.4M511.8 42.12H505.7V42.33H511.8M511.8 42.54H510.8V42.74H511.8M510.8 42.64H505.9V42.95H511.8M505.7 42.23H501.8V42.80H505.9M500.3 41.57H498.6V42.51H501.8M511.8 43.16H510.8V43.36H511.8M510.8 43.26H505.5V43.57H511.8M505.5 43.42H499.9V43.78H511.8M511.8 43.98H503.4V44.19H511.8M499.9 43.60H498.4V44.09H503.4M498.6 42.04H497.3V43.84H498.4M495.5 39.77H494.7V42.94H497.3M511.8 44.61H508.6V44.81H511.8M508.6 44.71H504.3V45.02H511.8M511.8 44.40H500.1V44.86H504.3M500.1 44.63H497V45.23H511.8M511.8 45.64H509.4V45.85H511.8M509.4 45.74H505.1V46.05H511.8M511.8 46.26H510.5V46.47H511.8M510.5 46.36H505.1V46.67H511.8M505.1 45.90H500.8V46.52H505.1M511.8 45.43H498.8V46.21H500.8M497 44.93H496.3V45.82H498.8M494.7 41.36H493.9V45.37H496.3M511.8 47.09H506V47.29H511.8M511.8 47.91H511.5V48.12H511.8M511.8 47.71H506.6V48.02H511.5M511.8 47.50H502.8V47.86H506.6M506 47.19H500.9V47.68H502.8M511.8 48.33H505.2V48.54H511.8M511.8 48.74H507.1V48.95H511.8M511.8 49.36H511.5V49.57H511.8M511.8 49.16H508V49.47H511.5M507.1 48.85H503.5V49.31H508M505.2 48.43H500.3V49.08H503.5M500.9 47.44H499.2V48.76H500.3M511.8 49.78H501.2V49.98H511.8M499.2 48.10H497.1V49.88H501.2M511.8 46.88H495.6V48.99H497.1M493.9 43.37H492.7V47.93H495.6M511.8 50.19H499.9V50.40H511.8M511.8 50.81H508.7V51.02H511.8M511.8 50.60H503.3V50.91H508.7M503.3 50.76H498V51.22H511.8M499.9 50.29H495.6V50.99H498M511.8 51.43H502.7V51.64H511.8M511.8 52.05H508.4V52.26H511.8M511.8 51.85H502.7V52.16H508.4M502.7 51.53H497.7V52.00H502.7M511.8 52.47H505.5V52.67H511.8M511.8 52.88H511.5V53.09H511.8M511.8 53.50H511.5V53.71H511.8M511.8 53.29H511.5V53.60H511.5M511.5 52.98H507.7V53.45H511.5M507.7 53.22H506.8V53.91H511.8M511.8 54.12H510.4V54.33H511.8M511.8 54.74H511.5V54.95H511.8M511.8 54.53H511.5V54.84H511.5M510.4 54.22H506.9V54.69H511.5M506.8 53.56H506.1V54.46H506.9M511.8 55.15H511.5V55.36H511.8M511.5 55.26H511.5V55.57H511.8M511.8 55.78H511.5V55.98H511.8M511.5 55.41H507.5V55.88H511.5M506.1 54.01H504.6V55.65H507.5M504.6 54.83H504V56.19H511.8M505.5 52.57H500.8V55.51H504M511.8 56.60H510.8V56.81H511.8M511.8 56.40H506.5V56.71H510.8M511.8 57.02H507.3V57.22H511.8M506.5 56.55H502.9V57.12H507.3M511.8 57.64H511.5V57.84H511.8M511.8 57.43H508.3V57.74H511.5M511.8 58.26H511.5V58.46H511.8M511.8 58.05H511.5V58.36H511.5M511.5 58.21H509.9V58.67H511.8M511.8 58.88H511.5V59.09H511.8M511.5 58.98H511.5V59.29H511.8M509.9 58.44H507.2V59.14H511.5M508.3 57.59H504.4V58.79H507.2M511.8 59.71H511.5V59.91H511.8M511.5 59.81H508.5V60.12H511.8M511.8 59.50H504.8V59.96H508.5M504.4 58.19H502.2V59.73H504.8M502.9 56.84H501.6V58.96H502.2M500.8 54.04H499.6V57.90H501.6M497.7 51.77H496.4V55.97H499.6M511.8 60.53H511.5V60.74H511.8M511.8 60.33H511.5V60.64H511.5M511.8 60.95H511.5V61.15H511.8M511.5 60.48H510.5V61.05H511.5M511.8 61.98H511.5V62.19H511.8M511.8 61.77H511.5V62.08H511.5M511.8 61.57H511.5V61.93H511.5M511.8 61.36H511.5V61.75H511.5M511.8 62.60H511.5V62.81H511.8M511.8 63.02H511.5V63.22H511.8M511.5 62.71H511.5V63.12H511.5M511.8 62.39H511.5V62.91H511.5M511.5 61.55H511.5V62.65H511.5M511.8 63.43H511.5V63.64H511.8M511.8 63.84H511.5V64.05H511.8M511.8 64.46H511.5V64.67H511.8M511.8 65.08H511.5V65.29H511.8M511.8 64.88H511.5V65.19H511.5M511.5 65.03H511.5V65.50H511.8M511.5 64.57H511.5V65.26H511.5M511.5 64.92H511.5V65.70H511.8M511.8 64.26H511.5V65.31H511.5M511.5 63.95H511.5V64.78H511.5M511.5 63.53H511.5V64.36H511.5M511.5 62.10H511.5V63.95H511.5M510.5 60.77H509.2V63.03H511.5M511.8 66.12H511.5V66.33H511.8M511.8 65.91H511.5V66.22H511.5M511.5 66.07H509.8V66.53H511.8M511.8 66.95H511.5V67.15H511.8M511.8 66.74H511.5V67.05H511.5M511.8 67.36H511.5V67.57H511.8M511.8 67.98H511.5V68.19H511.8M511.8 67.77H511.5V68.08H511.5M511.5 67.93H511.5V68.39H511.8M511.5 67.46H511.5V68.16H511.5M511.5 66.89H511.5V67.81H511.5M509.8 66.30H509.4V67.35H511.5M509.2 61.90H506.8V66.83H509.4M511.8 68.81H511.5V69.01H511.8M511.8 68.60H510.5V68.91H511.5M510.5 68.76H506.7V69.22H511.8M506.7 68.99H505.8V69.43H511.8M506.8 64.36H503.9V69.21H505.8M511.8 69.63H511.5V69.84H511.8M511.8 70.05H511.5V70.26H511.8M511.8 70.46H511.5V70.67H511.8M511.5 70.15H511.5V70.57H511.5M511.8 70.88H511.5V71.08H511.8M511.5 70.36H511.5V70.98H511.5M511.5 69.74H509.7V70.67H511.5M511.8 71.50H511.5V71.70H511.8M511.8 71.29H511.5V71.60H511.5M511.8 72.12H511.5V72.32H511.8M511.5 72.22H511.5V72.53H511.8M511.8 71.91H511.5V72.38H511.5M511.8 72.74H511.5V72.94H511.8M511.5 72.14H511.5V72.84H511.5M511.5 71.44H511.5V72.49H511.5M511.8 73.15H511.5V73.36H511.8M511.8 73.57H511.5V73.77H511.8M511.5 73.25H511.5V73.67H511.5M511.8 73.98H511.5V74.19H511.8M511.5 73.46H511.5V74.08H511.5M511.5 71.97H511.5V73.77H511.5M511.8 74.39H511.5V74.60H511.8M511.5 72.87H510.3V74.50H511.5M509.7 70.20H507.4V73.68H510.3M511.8 75.01H511.5V75.22H511.8M511.8 75.43H511.5V75.63H511.8M511.5 75.12H511.5V75.53H511.5M511.8 74.81H510.3V75.32H511.5M511.8 75.84H511.5V76.05H511.8M510.3 75.06H508.9V75.94H511.5M511.8 76.25H511.5V76.46H511.8M508.9 75.50H507.6V76.36H511.5M507.4 71.94H505.6V75.93H507.6M511.8 77.08H511.5V77.29H511.8M511.8 76.87H509.7V77.19H511.5M511.8 76.67H504.7V77.03H509.7M511.8 77.50H511.5V77.70H511.8M511.5 77.60H511.5V77.91H511.8M511.5 77.75H507.1V78.12H511.8M511.8 78.32H511.5V78.53H511.8M511.8 78.74H511.5V78.94H511.8M511.5 78.84H511.5V79.15H511.8M511.5 78.43H507.9V79.00H511.5M507.1 77.93H506.6V78.71H507.9M504.7 76.85H504.3V78.32H506.6M505.6 73.94H503.4V77.59H504.3M503.9 66.78H501.7V75.76H503.4M511.8 79.36H511.3V79.56H511.8M511.8 79.98H511.5V80.18H511.8M511.8 79.77H509.3V80.08H511.5M511.3 79.46H505.1V79.93H509.3M511.8 80.39H509V80.60H511.8M505.1 79.69H504.6V80.49H509M511.8 81.01H511.5V81.22H511.8M511.8 80.81H508.9V81.12H511.5M511.8 81.43H509.9V81.63H511.8M508.9 80.96H504.1V81.53H509.9M504.6 80.09H503.6V81.24H504.1M511.8 81.84H511.5V82.05H511.8M511.8 82.25H511.5V82.46H511.8M511.5 81.94H508.4V82.36H511.5M511.8 82.67H511.5V82.87H511.8M511.8 83.08H511.5V83.29H511.8M511.5 82.77H508.5V83.18H511.5M508.5 82.98H506.1V83.49H511.8M508.4 82.15H505.4V83.24H506.1M511.8 83.70H511.5V83.91H511.8M511.5 83.80H511.5V84.11H511.8M511.8 84.32H511.5V84.53H511.8M511.8 84.74H511.5V84.94H511.8M511.5 84.43H510.8V84.84H511.5M511.8 85.36H511.5V85.56H511.8M511.8 85.15H511.5V85.46H511.5M511.8 85.98H511.5V86.18H511.8M511.5 86.08H511.5V86.39H511.8M511.8 86.60H511.5V86.80H511.8M511.5 86.24H511.5V86.70H511.5M511.8 85.77H511.5V86.47H511.5M511.5 85.30H511V86.12H511.5M510.8 84.63H508.6V85.71H511M511.5 83.96H507.5V85.17H508.6M511.8 87.22H511.5V87.42H511.8M511.8 87.01H511.5V87.32H511.5M511.5 87.17H509.6V87.63H511.8M511.8 87.84H511.5V88.05H511.8M511.5 87.94H511.5V88.25H511.8M509.6 87.40H508.5V88.10H511.5M511.8 88.87H511.5V89.08H511.8M511.8 88.67H511.5V88.98H511.5M511.8 89.29H511.5V89.49H511.8M511.5 88.82H511.5V89.39H511.5M511.8 89.70H511.5V89.91H511.8M511.5 89.11H511.5V89.80H511.5M511.8 88.46H509.7V89.45H511.5M508.5 87.75H507.1V88.96H509.7M507.5 84.57H504.5V88.35H507.1M505.4 82.69H504V86.46H504.5M503.6 80.67H501.3V84.58H504M501.7 71.27H499.3V82.62H501.3M511.8 90.32H511.5V90.53H511.8M511.8 90.73H511.5V90.94H511.8M511.5 90.42H507.6V90.84H511.5M511.8 91.15H511.4V91.35H511.8M507.6 90.63H506.8V91.25H511.4M511.8 90.11H505.3V90.94H506.8M511.8 91.56H506.8V91.77H511.8M505.3 90.53H502.3V91.67H506.8M511.8 92.18H511.5V92.39H511.8M511.5 92.29H507.6V92.60H511.8M511.8 91.98H503V92.44H507.6M511.8 92.80H507.3V93.01H511.8M503 92.21H501.2V92.91H507.3M511.8 93.42H509.2V93.63H511.8M511.8 93.22H505.5V93.53H509.2M501.2 92.56H500V93.37H505.5M502.3 91.10H499.4V92.96H500M499.3 76.95H498.6V92.03H499.4M496.4 53.87H496V84.49H498.6M511.8 94.04H507V94.25H511.8M511.8 93.84H502.9V94.15H507M511.8 94.87H511.5V95.08H511.8M511.5 94.97H511.2V95.29H511.8M511.8 94.66H507.1V95.13H511.2M507.1 94.90H505.7V95.49H511.8M511.8 94.46H502.8V95.19H505.7M511.8 95.70H509.7V95.91H511.8M509.7 95.80H504.6V96.11H511.8M502.8 94.83H500.1V95.96H504.6M511.8 96.32H508.2V96.53H511.8M511.8 96.73H511.5V96.94H511.8M511.5 96.84H508.1V97.15H511.8M508.2 96.42H502.5V96.99H508.1M511.8 97.35H505.6V97.56H511.8M502.5 96.71H501.3V97.46H505.6M511.8 98.59H511.5V98.80H511.8M511.8 98.39H511.5V98.70H511.5M511.8 98.18H508.6V98.54H511.5M511.8 97.97H507.5V98.36H508.6M511.8 97.77H504.6V98.17H507.5M511.8 99.01H508.2V99.22H511.8M504.6 97.97H503V99.11H508.2M511.8 99.42H508.6V99.63H511.8M511.8 99.84H508.8V100.04H511.8M508.6 99.53H503.9V99.94H508.8M511.8 100.25H510.5V100.46H511.8M511.8 100.66H511.5V100.87H511.8M511.8 101.08H511.5V101.28H511.8M511.5 100.77H506.9V101.18H511.5M510.5 100.35H505.9V100.97H506.9M503.9 99.73H503.4V100.66H505.9M503 98.54H500.5V100.20H503.4M501.3 97.08H499.9V99.37H500.5M500.1 95.39H498.1V98.23H499.9M502.9 93.99H497.6V96.81H498.1M511.8 101.49H511.5V101.70H511.8M511.5 101.59H511.5V101.90H511.8M511.5 101.75H508.4V102.11H511.8M508.4 101.93H505.4V102.32H511.8M511.8 102.53H511.5V102.73H511.8M511.5 102.63H511.5V102.94H511.8M511.5 102.78H508V103.15H511.8M511.8 103.56H511.5V103.77H511.8M511.8 103.35H511.5V103.66H511.5M511.5 103.51H509.2V103.97H511.8M508 102.96H507.3V103.74H509.2M511.8 104.18H509V104.39H511.8M507.3 103.35H504.9V104.28H509M505.4 102.12H503.4V103.82H504.9M511.8 104.59H510.2V104.80H511.8M510.2 104.70H505.5V105.01H511.8M511.8 105.63H511.5V105.83H511.8M511.8 105.42H509.2V105.73H511.5M511.8 105.21H505V105.58H509.2M511.8 106.04H507.6V106.25H511.8M505 105.40H503.7V106.15H507.6M505.5 104.85H502V105.77H503.7M503.4 102.97H500.7V105.31H502M511.8 106.66H509.5V106.87H511.8M511.8 107.08H511.4V107.28H511.8M509.5 106.77H505.6V107.18H511.4M511.8 106.46H503.8V106.97H505.6M511.8 107.49H505.3V107.70H511.8M503.8 106.71H500.8V107.59H505.3M500.7 104.14H499V107.15H500.8M497.6 95.40H496.7V105.65H499M496 69.18H494.4V100.52H496.7M495.6 50.64H492.7V84.85H494.4M492.7 45.65H490.8V67.75H492.7M503.2 37.80H490.4V56.70H490.8M501.8 36.77H489.3V47.25H490.4M501.5 35.94H488.7V42.01H489.3M511.8 108.11H501.4V108.32H511.8M511.8 108.94H503.1V109.14H511.8M511.8 108.73H499.6V109.04H503.1M511.8 109.56H509.9V109.77H511.8M509.9 109.66H505.8V109.97H511.8M505.8 109.82H502.3V110.18H511.8M502.3 110.00H501V110.39H511.8M511.8 110.59H506.7V110.80H511.8M506.7 110.70H503.2V111.01H511.8M511.8 111.42H511.5V111.63H511.8M511.5 111.52H511.5V111.83H511.8M511.5 111.68H506.4V112.04H511.8M511.8 111.21H504.7V111.86H506.4M504.7 111.54H502.3V112.25H511.8M511.8 112.45H506.4V112.66H511.8M502.3 111.89H500.5V112.56H506.4M503.2 110.85H497.7V112.22H500.5M511.8 112.87H502.2V113.07H511.8M511.8 113.49H509V113.70H511.8M511.8 113.28H503.8V113.59H509M502.2 112.97H498.3V113.44H503.8M497.7 111.54H496.4V113.20H498.3M511.8 114.32H511.5V114.52H511.8M511.8 114.11H509.2V114.42H511.5M511.8 113.90H505.3V114.26H509.2M511.8 114.94H511.5V115.14H511.8M511.5 115.04H511.5V115.35H511.8M511.5 115.20H509V115.56H511.8M511.8 114.73H506.7V115.38H509M505.3 114.08H504.6V115.05H506.7M511.8 115.97H511.5V116.18H511.8M511.5 116.07H507.8V116.38H511.8M511.8 115.76H504V116.23H507.8M511.8 116.80H511.5V117.01H511.8M511.5 116.90H511.2V117.21H511.8M511.8 117.42H509.5V117.63H511.8M511.2 117.06H505.8V117.52H509.5M511.8 116.59H504.5V117.29H505.8M504 116.00H502.6V116.94H504.5M504.6 114.57H501.8V116.47H502.6M511.8 118.25H511.5V118.45H511.8M511.8 118.04H511.5V118.35H511.5M511.8 118.66H511.5V118.87H511.8M511.5 118.19H509.2V118.76H511.5M511.8 117.83H506.7V118.48H509.2M511.8 119.07H509.5V119.28H511.8M506.7 118.16H505.5V119.18H509.5M511.8 119.49H511.5V119.69H511.8M511.5 119.59H510.1V119.90H511.8M505.5 118.67H504V119.75H510.1M511.8 120.11H505.2V120.31H511.8M504 119.21H501.6V120.21H505.2M511.8 120.73H509.3V120.94H511.8M511.8 120.52H503.6V120.83H509.3M501.6 119.71H499.5V120.68H503.6M501.8 115.52H498.9V120.19H499.5M511.8 121.14H511.5V121.35H511.8M511.8 121.76H511.5V121.97H511.8M511.8 121.56H511.5V121.87H511.5M511.5 121.71H507.3V122.18H511.8M511.5 121.25H505.7V121.94H507.3M511.8 122.38H511V122.59H511.8M511.8 123.00H511.5V123.21H511.8M511.8 122.80H509.9V123.11H511.5M511 122.49H505.1V122.95H509.9M505.7 121.59H502.9V122.72H505.1M511.8 123.42H509.7V123.62H511.8M511.8 123.83H511.5V124.04H511.8M509.7 123.52H506.1V123.93H511.5M506.1 123.73H504.6V124.25H511.8M511.8 124.45H507.9V124.66H511.8M504.6 123.99H504V124.56H507.9M502.9 122.16H501.6V124.27H504M511.8 124.87H509.8V125.07H511.8M511.8 125.90H511.5V126.11H511.8M511.8 125.69H511.5V126.00H511.5M511.8 125.49H511.5V125.85H511.5M511.5 125.67H509.5V126.31H511.8M511.8 125.28H508.4V125.99H509.5M509.8 124.97H505.9V125.63H508.4M511.8 126.52H511.5V126.73H511.8M511.8 126.93H511.5V127.14H511.8M511.5 126.62H508.9V127.04H511.5M511.8 127.55H511.5V127.76H511.8M511.8 127.35H509.6V127.66H511.5M508.9 126.83H506V127.50H509.6M505.9 125.30H504.1V127.17H506M511.8 128.18H511.5V128.38H511.8M511.8 127.97H511.5V128.28H511.5M511.5 128.12H507.1V128.59H511.8M511.8 128.80H511.5V129.00H511.8M511.8 129.21H511.5V129.42H511.8M511.8 130.04H511.5V130.24H511.8M511.8 129.83H511.5V130.14H511.5M511.8 129.62H511.5V129.99H511.5M511.5 129.31H509.8V129.80H511.5M511.5 128.90H506.7V129.56H509.8M507.1 128.36H504.4V129.23H506.7M504.1 126.23H502V128.79H504.4M501.6 123.21H499.5V127.51H502M498.9 117.86H498.3V125.36H499.5M496.4 112.37H495.8V121.61H498.3M511.8 130.86H511.5V131.07H511.8M511.5 130.97H511.5V131.28H511.8M511.8 130.66H510.1V131.12H511.5M510.1 130.89H508.7V131.49H511.8M511.8 131.69H511.5V131.90H511.8M511.8 132.11H511.5V132.31H511.8M511.5 131.80H508V132.21H511.5M508 132.00H506.9V132.52H511.8M508.7 131.19H506V132.26H506.9M511.8 132.73H508.7V132.93H511.8M506 131.72H504.5V132.83H508.7M511.8 130.45H502.3V132.28H504.5M511.8 133.55H511.5V133.76H511.8M511.8 133.35H511.5V133.66H511.5M511.8 133.14H511.5V133.50H511.5M511.5 133.32H509.9V133.97H511.8M511.8 134.17H511.5V134.38H511.8M511.5 134.28H511.5V134.59H511.8M511.8 135.21H511.5V135.42H511.8M511.5 135.31H511.5V135.62H511.8M511.8 135.00H511.5V135.47H511.5M511.8 134.79H511.5V135.23H511.5M511.5 135.01H511.5V135.83H511.8M511.5 134.43H509.7V135.42H511.5M509.9 133.64H508V134.93H509.7M511.8 136.04H511.5V136.24H511.8M511.5 136.14H511.5V136.45H511.8M511.5 136.29H509.6V136.66H511.8M511.8 137.07H511.5V137.28H511.8M511.8 136.86H511.3V137.17H511.5M509.6 136.48H507.5V137.02H511.3M508 134.29H505V136.75H507.5M511.8 137.69H511.4V137.90H511.8M511.8 137.48H506.3V137.79H511.4M505 135.52H502.8V137.64H506.3M502.3 131.36H501.5V136.58H502.8M511.8 138.10H511.5V138.31H511.8M511.8 138.52H511.5V138.73H511.8M511.8 138.93H511.5V139.14H511.8M511.5 138.62H508.3V139.04H511.5M511.5 138.21H507.7V138.83H508.3M511.8 139.35H511.5V139.55H511.8M511.8 139.76H511.5V139.97H511.8M511.5 139.45H511.5V139.86H511.5M511.5 139.66H511.5V140.17H511.8M511.8 140.38H511.5V140.59H511.8M511.8 141.00H511.5V141.21H511.8M511.8 140.79H511.5V141.10H511.5M511.5 140.48H511.5V140.95H511.5M511.5 139.91H510.2V140.72H511.5M507.7 138.52H507.2V140.32H510.2M511.8 141.41H511V141.62H511.8M507.2 139.42H506.2V141.52H511M511.8 142.03H511.5V142.24H511.8M511.8 141.83H511.5V142.14H511.5M511.8 142.66H511.5V142.86H511.8M511.8 142.45H511.5V142.76H511.5M511.8 143.48H511.5V143.69H511.8M511.8 143.28H511.5V143.59H511.5M511.8 143.07H511.5V143.43H511.5M511.5 142.60H511.5V143.25H511.5M511.5 142.93H509.2V143.90H511.8M511.5 141.98H507.6V143.41H509.2M506.2 140.47H505V142.70H507.6M511.8 144.31H511.5V144.52H511.8M511.5 144.41H511.5V144.72H511.8M511.5 144.57H510V144.93H511.8M511.8 144.10H506.8V144.75H510M506.8 144.43H505.1V145.14H511.8M505 141.58H503.9V144.78H505.1M501.5 133.97H500.7V143.18H503.9M511.8 145.55H511.5V145.76H511.8M511.5 145.65H511.5V145.97H511.8M511.5 145.81H511.5V146.17H511.8M511.8 145.34H511.5V145.99H511.5M511.8 146.38H511.5V146.59H511.8M511.5 145.67H511.5V146.48H511.5M511.8 146.79H511.5V147.00H511.8M511.8 147.41H511.5V147.62H511.8M511.8 147.21H511.5V147.52H511.5M511.5 146.90H511.5V147.36H511.5M511.5 147.13H511.5V147.83H511.8M511.8 148.03H511.5V148.24H511.8M511.8 148.45H511.5V148.65H511.8M511.5 148.14H511.5V148.55H511.5M511.5 147.48H511V148.34H511.5M511.5 146.08H510.1V147.91H511M511.8 148.86H511.5V149.07H511.8M511.8 149.27H511.5V149.48H511.8M511.8 149.69H511.5V149.90H511.8M511.5 149.38H511.5V149.79H511.5M511.5 148.96H511.5V149.59H511.5M511.8 150.10H511.5V150.31H511.8M511.8 150.52H511.5V150.72H511.8M511.5 150.21H511.5V150.62H511.5M511.5 149.27H511.5V150.41H511.5M511.8 151.14H511.5V151.34H511.8M511.8 150.93H511.5V151.24H511.5M511.8 151.96H511.5V152.17H511.8M511.8 152.38H511.5V152.58H511.8M511.5 152.07H511.5V152.48H511.5M511.8 151.76H511.5V152.27H511.5M511.8 151.55H511.5V152.02H511.5M511.5 151.78H511.5V152.79H511.8M511.5 151.08H511.5V152.29H511.5M511.5 149.84H511.5V151.69H511.5M510.1 146.99H509.5V150.76H511.5M511.8 153.21H511.5V153.41H511.8M511.8 153.00H511.5V153.31H511.5M511.8 153.83H511.5V154.03H511.8M511.8 153.62H511.5V153.93H511.5M511.5 153.15H509.2V153.77H511.5M509.5 148.88H507.8V153.46H509.2M511.8 154.45H511.5V154.65H511.8M511.8 154.86H511.5V155.07H511.8M511.5 154.55H511.5V154.96H511.5M511.8 155.27H511.5V155.48H511.8M511.8 155.89H511.5V156.10H511.8M511.8 155.69H511.5V156.00H511.5M511.5 155.38H511.5V155.84H511.5M511.5 154.76H511.5V155.61H511.5M511.8 154.24H510.4V155.18H511.5M511.8 156.51H511.5V156.72H511.8M511.8 156.31H511.5V156.62H511.5M511.8 156.93H511.5V157.14H511.8M511.8 157.34H511.5V157.55H511.8M511.5 157.45H511.5V157.76H511.8M511.5 157.03H511.5V157.60H511.5M511.8 157.96H511.5V158.17H511.8M511.8 158.38H511.5V158.58H511.8M511.5 158.07H511.5V158.48H511.5M511.5 157.32H511.5V158.27H511.5M511.5 156.46H511.5V157.79H511.5M511.8 158.79H511.5V159.00H511.8M511.8 159.82H511.5V160.03H511.8M511.8 159.62H511.5V159.93H511.5M511.5 159.77H511.5V160.24H511.8M511.8 159.41H511.5V160.01H511.5M511.8 159.20H511.5V159.71H511.5M511.5 158.89H511.5V159.46H511.5M511.8 161.07H511.5V161.27H511.8M511.5 161.17H511.5V161.48H511.8M511.8 160.86H511.5V161.32H511.5M511.8 160.65H511.5V161.09H511.5M511.8 160.45H511.5V160.87H511.5M511.5 159.17H511.5V160.66H511.5M511.8 161.69H511.5V161.89H511.8M511.8 162.31H511.5V162.51H511.8M511.8 162.10H511.5V162.41H511.5M511.8 162.72H511.5V162.93H511.8M511.5 162.26H511.5V162.82H511.5M511.5 161.79H511.5V162.54H511.5M511.8 163.13H511.5V163.34H511.8M511.5 163.24H511.5V163.55H511.8M511.5 162.16H511.5V163.39H511.5M511.8 163.96H511.5V164.17H511.8M511.8 163.75H511.5V164.07H511.5M511.5 162.78H511.5V163.91H511.5M511.8 164.58H511.5V164.79H511.8M511.8 164.38H511.5V164.69H511.5M511.8 165.41H511.5V165.62H511.8M511.8 165.20H511.5V165.51H511.5M511.8 165.00H511.5V165.36H511.5M511.8 166.03H511.5V166.24H511.8M511.8 165.82H511.5V166.13H511.5M511.5 165.98H511.5V166.44H511.8M511.5 165.18H511.5V166.21H511.5M511.8 166.65H511.5V166.86H511.8M511.5 166.75H511.5V167.06H511.8M511.5 165.69H511.5V166.91H511.5M511.5 164.53H511.5V166.30H511.5M511.8 167.48H511.5V167.69H511.8M511.8 167.89H511.5V168.10H511.8M511.5 167.58H511.5V168.00H511.5M511.8 167.27H511.5V167.79H511.5M511.8 168.31H511.5V168.51H511.8M511.5 167.53H511.5V168.41H511.5M511.8 168.72H511.5V168.93H511.8M511.8 169.13H511.5V169.34H511.8M511.5 168.82H511.5V169.24H511.5M511.5 167.97H511.5V169.03H511.5M511.5 165.42H511.5V168.50H511.5M511.5 163.34H511.5V166.96H511.5M511.5 159.92H510.5V165.15H511.5M511.5 157.13H509.5V162.53H510.5M510.4 154.71H507.5V159.83H509.5M507.8 151.17H504.6V157.27H507.5M511.8 169.75H511.5V169.96H511.8M511.8 170.17H511.5V170.37H511.8M511.5 169.86H508.9V170.27H511.5M511.8 169.55H507.9V170.06H508.9M511.8 170.58H511.5V170.79H511.8M511.8 171.20H511.5V171.41H511.8M511.5 171.31H511.5V171.62H511.8M511.8 170.99H511.5V171.46H511.5M511.8 172.03H511.5V172.24H511.8M511.8 171.82H511.5V172.13H511.5M511.8 172.44H511.5V172.65H511.8M511.5 171.98H511.5V172.55H511.5M511.5 171.23H510.3V172.26H511.5M511.5 170.68H507.9V171.74H510.3M507.9 169.81H506.6V171.21H507.9M511.8 173.06H511.5V173.27H511.8M511.8 172.86H511.5V173.17H511.5M511.5 173.01H511.5V173.48H511.8M511.8 173.89H511.5V174.10H511.8M511.5 173.99H511.5V174.30H511.8M511.8 173.68H511.5V174.15H511.5M511.5 173.24H511.3V173.92H511.5M511.3 173.58H509.1V174.51H511.8M511.8 174.72H511.5V174.93H511.8M511.8 175.13H511.5V175.34H511.8M511.5 175.24H511.5V175.55H511.8M511.8 175.96H511.5V176.17H511.8M511.8 175.75H511.5V176.06H511.5M511.5 175.39H511.5V175.91H511.5M511.5 175.65H510.7V176.37H511.8M511.8 176.58H511.5V176.79H511.8M511.5 176.68H511.5V176.99H511.8M510.7 176.01H509.9V176.84H511.5M511.5 174.82H508.4V176.42H509.9M511.8 177.20H511.5V177.41H511.8M508.4 175.62H507.8V177.30H511.5M509.1 174.05H506.3V176.46H507.8M506.6 170.51H505.3V175.25H506.3M504.6 154.22H502.4V172.88H505.3M500.7 138.58H499.7V163.55H502.4M511.8 177.61H504.3V177.82H511.8M511.8 178.03H504.1V178.23H511.8M504.3 177.72H500.7V178.13H504.1M511.8 178.65H506.7V178.86H511.8M511.8 179.48H511.5V179.68H511.8M511.8 179.27H511.5V179.58H511.5M511.8 179.06H507.8V179.42H511.5M511.8 179.89H510.4V180.10H511.8M507.8 179.24H505.4V179.99H510.4M506.7 178.75H502.2V179.62H505.4M511.8 178.44H501.3V179.19H502.2M500.7 177.92H499.3V178.81H501.3M499.7 151.06H496.8V178.37H499.3M495.8 116.99H494V164.72H496.8M501 110.19H493.1V140.85H494M511.8 109.35H492.3V125.52H493.1M499.6 108.89H491.8V117.44H492.3M511.8 108.52H490.8V113.16H491.8M501.4 108.21H490.3V110.84H490.8M511.8 107.90H489.8V109.53H490.3M488.7 38.98H487.2V108.72H489.8" stroke="#111" stroke-width="0.45" fill="none"/>
<path d="M512 35.4L500.5 35.4L500.8 36.5L503.5 38.6L502 41.4L502.3 43.6L502.1 46.6L500.6 48.2L504.2 49.7L502.9 52.4L502.9 53.5L504.6 55.5L504.9 56.5L499.5 58.7L500.5 60.7L503.4 63.3L500.2 64.7L499.8 66.1L502.6 68.9L503.4 70.4L500.7 73.2L502.2 75.8L503.9 78.7L501.9 80.5L502.5 83.1L504.9 85.7L503.2 87.4L501.8 90.1L503.6 91.5L501.8 93.4L501.9 95.2L502.6 96.8L501.9 99.6L503.2 102L505.5 104.1L500.5 106.6L503.2 108.1L501.8 110.3L503.1 112.2L500.6 114L505.2 115.2L502.9 117.8L503.1 120L499.8 122.7L502.7 124.6L501.1 127.4L504.3 129.5L502.4 132.2L502.5 133.2L502 134.4L499.9 136.5L502.7 139.4L500.6 140.5L501.9 141.6L503.4 143.9L501.1 145.9L502.8 148.1L501.7 149.7L502.5 152.3L501.9 153.8L503.3 155.7L503.1 158.7L502 160.4L500.6 162.7L500.8 165L502.9 166.2L500.7 168.6L500.1 171.4L503.6 173.6L500.3 176.5L503.6 177.6L503 180.2L512 180.2Z" fill="#111"/>
<text x="521" y="182.2" font-size="4.8" text-anchor="start" fill="#111" transform="rotate(90 521 182.2)" stroke="#111" stroke-width="0.2">BT_20_chendianPDS08_2</text>
<text x="542.7" y="182.2" font-size="4.8" text-anchor="start" fill="#111" transform="rotate(90 542.7 182.2)" stroke="#111" stroke-width="0.2">BT_20_chendianPDS08_1</text>
<text x="564.4" y="182.2" font-size="4.8" text-anchor="start" fill="#111" transform="rotate(90 564.4 182.2)" stroke="#111" stroke-width="0.2">BT_20_chendianPDS08_3</text>
<text x="586.2" y="182.2" font-size="4.8" text-anchor="start" fill="#111" transform="rotate(90 586.2 182.2)" stroke="#111" stroke-width="0.2">BT_20_Lv143_2</text>
<text x="607.9" y="182.2" font-size="4.8" text-anchor="start" fill="#111" transform="rotate(90 607.9 182.2)" stroke="#111" stroke-width="0.2">BT_20_Lv143_1</text>
<text x="629.6" y="182.2" font-size="4.8" text-anchor="start" fill="#111" transform="rotate(90 629.6 182.2)" stroke="#111" stroke-width="0.2">BT_20_Lv143_3</text>
<defs><linearGradient id="cg" x1="0" y1="0" x2="0" y2="1"><stop offset="0" stop-color="#e41e24"/><stop offset="0.25" stop-color="#f28e92"/><stop offset="0.5" stop-color="#ffffff"/><stop offset="0.75" stop-color="#8686dc"/><stop offset="1" stop-color="#0c0cb9"/></linearGradient></defs>
<rect x="644.7" y="35.4" width="4.5" height="70.8" fill="url(#cg)"/>
<text x="650.3" y="37.8" font-size="4.6" text-anchor="start" fill="#222" stroke="#222" stroke-width="0.13">2</text>
<text x="650.3" y="55.2" font-size="4.6" text-anchor="start" fill="#222" stroke="#222" stroke-width="0.13">1</text>
<text x="650.3" y="72.6" font-size="4.6" text-anchor="start" fill="#222" stroke="#222" stroke-width="0.13">0</text>
<text x="650.3" y="90.2" font-size="4.6" text-anchor="start" fill="#222" stroke="#222" stroke-width="0.13">&#8722;1</text>
<text x="650.3" y="107.6" font-size="4.6" text-anchor="start" fill="#222" stroke="#222" stroke-width="0.13">&#8722;2</text>
<text x="643.8" y="33.4" font-size="4.9" text-anchor="start" font-weight="bold" fill="#111" stroke="#111" stroke-width="0.13">condition</text>
<text x="658" y="39.2" font-size="4.9" text-anchor="start" font-weight="bold" fill="#111" stroke="#111" stroke-width="0.13">condition</text>
<rect x="658.4" y="40.7" width="6.3" height="6.5" fill="#1FD0AE"/>
<rect x="658.4" y="47.4" width="6.3" height="6.5" fill="#F8877F"/>
<text x="666.4" y="45.7" font-size="4.7" text-anchor="start" fill="#222" stroke="#222" stroke-width="0.13">BT_20_chendianPDS08</text>
<text x="666.4" y="52.5" font-size="4.7" text-anchor="start" fill="#222" stroke="#222" stroke-width="0.13">BT_20_Lv143</text>
<clipPath id="dclip"><rect x="92.3" y="247.3" width="374.2" height="136.8"/></clipPath>
<g clip-path="url(#dclip)">
<rect x="95.8" y="216.8" width="7.4" height="161.4" fill="#FF0000"/>
<rect x="108.2" y="216.8" width="7.4" height="161.4" fill="#FF0000"/>
<rect x="120.6" y="216.8" width="7.4" height="161.4" fill="#FF0000"/>
<rect x="133" y="216.8" width="7.4" height="161.4" fill="#FF0000"/>
<rect x="145.4" y="216.8" width="7.4" height="161.4" fill="#FF0000"/>
<rect x="157.8" y="216.8" width="7.4" height="161.4" fill="#FF0000"/>
<rect x="170.2" y="310.8" width="7.4" height="67.4" fill="#FF0000"/>
<rect x="182.6" y="315.4" width="7.4" height="62.8" fill="#FF0000"/>
<rect x="195" y="324.8" width="7.4" height="53.4" fill="#FF0000"/>
<rect x="207.4" y="326.8" width="7.4" height="51.4" fill="#FF0000"/>
<rect x="219.8" y="297.9" width="7.4" height="80.3" fill="#00EE00"/>
<rect x="232.2" y="313.7" width="7.4" height="64.5" fill="#00EE00"/>
<rect x="244.6" y="318" width="7.4" height="60.2" fill="#00EE00"/>
<rect x="257" y="324.5" width="7.4" height="53.7" fill="#00EE00"/>
<rect x="269.4" y="328.6" width="7.4" height="49.6" fill="#00EE00"/>
<rect x="281.8" y="332.4" width="7.4" height="45.8" fill="#00EE00"/>
<rect x="294.2" y="334.4" width="7.4" height="43.8" fill="#00EE00"/>
<rect x="306.6" y="340.3" width="7.4" height="37.9" fill="#00EE00"/>
<rect x="319" y="340.6" width="7.4" height="37.6" fill="#00EE00"/>
<rect x="331.4" y="343.5" width="7.4" height="34.7" fill="#00EE00"/>
<rect x="343.8" y="216.8" width="7.4" height="161.4" fill="#00BFFF"/>
<rect x="356.2" y="216.8" width="7.4" height="161.4" fill="#00BFFF"/>
<rect x="368.6" y="253.5" width="7.4" height="124.7" fill="#00BFFF"/>
<rect x="381" y="283.3" width="7.4" height="94.9" fill="#00BFFF"/>
<rect x="393.4" y="319.5" width="7.4" height="58.7" fill="#00BFFF"/>
<rect x="405.8" y="335.9" width="7.4" height="42.3" fill="#00BFFF"/>
<rect x="418.2" y="342.3" width="7.4" height="35.9" fill="#00BFFF"/>
<rect x="430.6" y="342.3" width="7.4" height="35.9" fill="#00BFFF"/>
<rect x="443" y="343.8" width="7.4" height="34.4" fill="#00BFFF"/>
<rect x="455.4" y="343.8" width="7.4" height="34.4" fill="#00BFFF"/>
</g>
<rect x="92.3" y="247.3" width="374.2" height="136.8" fill="none" stroke="#9a9a9a" stroke-width="0.55"/>
<line x1="90.6" y1="378.2" x2="92.3" y2="378.2" stroke="#888" stroke-width="0.5"/>
<text x="89.8" y="379.7" font-size="4.4" text-anchor="end" fill="#444" stroke="#444" stroke-width="0.06">0</text>
<line x1="90.6" y1="351.3" x2="92.3" y2="351.3" stroke="#888" stroke-width="0.5"/>
<text x="89.8" y="352.8" font-size="4.4" text-anchor="end" fill="#444" stroke="#444" stroke-width="0.06">5</text>
<line x1="90.6" y1="324.4" x2="92.3" y2="324.4" stroke="#888" stroke-width="0.5"/>
<text x="89.8" y="325.9" font-size="4.4" text-anchor="end" fill="#444" stroke="#444" stroke-width="0.06">10</text>
<line x1="90.6" y1="297.5" x2="92.3" y2="297.5" stroke="#888" stroke-width="0.5"/>
<text x="89.8" y="299" font-size="4.4" text-anchor="end" fill="#444" stroke="#444" stroke-width="0.06">15</text>
<line x1="90.6" y1="270.6" x2="92.3" y2="270.6" stroke="#888" stroke-width="0.5"/>
<text x="89.8" y="272.1" font-size="4.4" text-anchor="end" fill="#444" stroke="#444" stroke-width="0.06">20</text>
<text x="80.8" y="315.4" font-size="5.4" text-anchor="middle" fill="#222" transform="rotate(-90 80.8 315.4)" stroke="#222" stroke-width="0.13">&#8722;log<tspan font-size="3.6" dy="1">10</tspan><tspan dy="-1"> Pvalue</tspan></text>
<line x1="99.5" y1="384.1" x2="99.5" y2="385.7" stroke="#888" stroke-width="0.5"/>
<text x="102.1" y="389.9" font-size="5.4" text-anchor="end" fill="#E83030" transform="rotate(-45 102.1 389.9)" stroke="#E83030" stroke-width="0.2">cellular response to type I interferon</text>
<line x1="111.9" y1="384.1" x2="111.9" y2="385.7" stroke="#888" stroke-width="0.5"/>
<text x="114.5" y="389.9" font-size="5.4" text-anchor="end" fill="#E83030" transform="rotate(-45 114.5 389.9)" stroke="#E83030" stroke-width="0.2">cytoplasmic pattern recognition receptor signaling pathway in ...</text>
<line x1="124.3" y1="384.1" x2="124.3" y2="385.7" stroke="#888" stroke-width="0.5"/>
<text x="126.9" y="389.9" font-size="5.4" text-anchor="end" fill="#E83030" transform="rotate(-45 126.9 389.9)" stroke="#E83030" stroke-width="0.2">suppression by virus of host molecular function</text>
<line x1="136.7" y1="384.1" x2="136.7" y2="385.7" stroke="#888" stroke-width="0.5"/>
<text x="139.3" y="389.9" font-size="5.4" text-anchor="end" fill="#E83030" transform="rotate(-45 139.3 389.9)" stroke="#E83030" stroke-width="0.2">regulation of type III interferon production</text>
<line x1="149.1" y1="384.1" x2="149.1" y2="385.7" stroke="#888" stroke-width="0.5"/>
<text x="151.7" y="389.9" font-size="5.4" text-anchor="end" fill="#E83030" transform="rotate(-45 151.7 389.9)" stroke="#E83030" stroke-width="0.2">regulation of interleukin-1 production</text>
<line x1="161.5" y1="384.1" x2="161.5" y2="385.7" stroke="#888" stroke-width="0.5"/>
<text x="164.1" y="389.9" font-size="5.4" text-anchor="end" fill="#E83030" transform="rotate(-45 164.1 389.9)" stroke="#E83030" stroke-width="0.2">protein myristoylation</text>
<line x1="173.9" y1="384.1" x2="173.9" y2="385.7" stroke="#888" stroke-width="0.5"/>
<text x="176.5" y="389.9" font-size="5.4" text-anchor="end" fill="#E83030" transform="rotate(-45 176.5 389.9)" stroke="#E83030" stroke-width="0.2">negative regulation of viral genome replication</text>
<line x1="186.3" y1="384.1" x2="186.3" y2="385.7" stroke="#888" stroke-width="0.5"/>
<text x="188.9" y="389.9" font-size="5.4" text-anchor="end" fill="#E83030" transform="rotate(-45 188.9 389.9)" stroke="#E83030" stroke-width="0.2">response to virus</text>
<line x1="198.7" y1="384.1" x2="198.7" y2="385.7" stroke="#888" stroke-width="0.5"/>
<text x="201.3" y="389.9" font-size="5.4" text-anchor="end" fill="#E83030" transform="rotate(-45 201.3 389.9)" stroke="#E83030" stroke-width="0.2">defense response to virus</text>
<line x1="211.1" y1="384.1" x2="211.1" y2="385.7" stroke="#888" stroke-width="0.5"/>
<text x="213.7" y="389.9" font-size="5.4" text-anchor="end" fill="#E83030" transform="rotate(-45 213.7 389.9)" stroke="#E83030" stroke-width="0.2">type I interferon signaling pathway</text>
<line x1="223.5" y1="384.1" x2="223.5" y2="385.7" stroke="#888" stroke-width="0.5"/>
<text x="226.1" y="389.9" font-size="5.4" text-anchor="end" fill="#40DD40" transform="rotate(-45 226.1 389.9)" stroke="#40DD40" stroke-width="0.2">cytoplasm</text>
<line x1="235.9" y1="384.1" x2="235.9" y2="385.7" stroke="#888" stroke-width="0.5"/>
<text x="238.5" y="389.9" font-size="5.4" text-anchor="end" fill="#40DD40" transform="rotate(-45 238.5 389.9)" stroke="#40DD40" stroke-width="0.2">cytosol</text>
<line x1="248.3" y1="384.1" x2="248.3" y2="385.7" stroke="#888" stroke-width="0.5"/>
<text x="250.9" y="389.9" font-size="5.4" text-anchor="end" fill="#40DD40" transform="rotate(-45 250.9 389.9)" stroke="#40DD40" stroke-width="0.2">nucleus</text>
<line x1="260.7" y1="384.1" x2="260.7" y2="385.7" stroke="#888" stroke-width="0.5"/>
<text x="263.3" y="389.9" font-size="5.4" text-anchor="end" fill="#40DD40" transform="rotate(-45 263.3 389.9)" stroke="#40DD40" stroke-width="0.2">nucleoplasm</text>
<line x1="273.1" y1="384.1" x2="273.1" y2="385.7" stroke="#888" stroke-width="0.5"/>
<text x="275.7" y="389.9" font-size="5.4" text-anchor="end" fill="#40DD40" transform="rotate(-45 275.7 389.9)" stroke="#40DD40" stroke-width="0.2">membrane</text>
<line x1="285.5" y1="384.1" x2="285.5" y2="385.7" stroke="#888" stroke-width="0.5"/>
<text x="288.1" y="389.9" font-size="5.4" text-anchor="end" fill="#40DD40" transform="rotate(-45 288.1 389.9)" stroke="#40DD40" stroke-width="0.2">extracellular exosome</text>
<line x1="297.9" y1="384.1" x2="297.9" y2="385.7" stroke="#888" stroke-width="0.5"/>
<text x="300.5" y="389.9" font-size="5.4" text-anchor="end" fill="#40DD40" transform="rotate(-45 300.5 389.9)" stroke="#40DD40" stroke-width="0.2">nucleolus</text>
<line x1="310.3" y1="384.1" x2="310.3" y2="385.7" stroke="#888" stroke-width="0.5"/>
<text x="312.9" y="389.9" font-size="5.4" text-anchor="end" fill="#40DD40" transform="rotate(-45 312.9 389.9)" stroke="#40DD40" stroke-width="0.2">extracellular matrix</text>
<line x1="322.7" y1="384.1" x2="322.7" y2="385.7" stroke="#888" stroke-width="0.5"/>
<text x="325.3" y="389.9" font-size="5.4" text-anchor="end" fill="#40DD40" transform="rotate(-45 325.3 389.9)" stroke="#40DD40" stroke-width="0.2">nucleosome</text>
<line x1="335.1" y1="384.1" x2="335.1" y2="385.7" stroke="#888" stroke-width="0.5"/>
<text x="337.7" y="389.9" font-size="5.4" text-anchor="end" fill="#40DD40" transform="rotate(-45 337.7 389.9)" stroke="#40DD40" stroke-width="0.2">intrinsic component of endosome membrane</text>
<line x1="347.5" y1="384.1" x2="347.5" y2="385.7" stroke="#888" stroke-width="0.5"/>
<text x="350.1" y="389.9" font-size="5.4" text-anchor="end" fill="#30BDEA" transform="rotate(-45 350.1 389.9)" stroke="#30BDEA" stroke-width="0.2">double-stranded DNA-dependent ATPase activity</text>
<line x1="359.9" y1="384.1" x2="359.9" y2="385.7" stroke="#888" stroke-width="0.5"/>
<text x="362.5" y="389.9" font-size="5.4" text-anchor="end" fill="#30BDEA" transform="rotate(-45 362.5 389.9)" stroke="#30BDEA" stroke-width="0.2">RNA polymerase I regulatory region DNA binding</text>
<line x1="372.3" y1="384.1" x2="372.3" y2="385.7" stroke="#888" stroke-width="0.5"/>
<text x="374.9" y="389.9" font-size="5.4" text-anchor="end" fill="#30BDEA" transform="rotate(-45 374.9 389.9)" stroke="#30BDEA" stroke-width="0.2">protein binding</text>
<line x1="384.7" y1="384.1" x2="384.7" y2="385.7" stroke="#888" stroke-width="0.5"/>
<text x="387.3" y="389.9" font-size="5.4" text-anchor="end" fill="#30BDEA" transform="rotate(-45 387.3 389.9)" stroke="#30BDEA" stroke-width="0.2">pyrophosphatase activity</text>
<line x1="397.1" y1="384.1" x2="397.1" y2="385.7" stroke="#888" stroke-width="0.5"/>
<text x="399.7" y="389.9" font-size="5.4" text-anchor="end" fill="#30BDEA" transform="rotate(-45 399.7 389.9)" stroke="#30BDEA" stroke-width="0.2">2'-5'-oligoadenylate synthetase activity</text>
<line x1="409.5" y1="384.1" x2="409.5" y2="385.7" stroke="#888" stroke-width="0.5"/>
<text x="412.1" y="389.9" font-size="5.4" text-anchor="end" fill="#30BDEA" transform="rotate(-45 412.1 389.9)" stroke="#30BDEA" stroke-width="0.2">double-stranded RNA binding</text>
<line x1="421.9" y1="384.1" x2="421.9" y2="385.7" stroke="#888" stroke-width="0.5"/>
<text x="424.5" y="389.9" font-size="5.4" text-anchor="end" fill="#30BDEA" transform="rotate(-45 424.5 389.9)" stroke="#30BDEA" stroke-width="0.2">Atg8 activating enzyme activity</text>
<line x1="434.3" y1="384.1" x2="434.3" y2="385.7" stroke="#888" stroke-width="0.5"/>
<text x="436.9" y="389.9" font-size="5.4" text-anchor="end" fill="#30BDEA" transform="rotate(-45 436.9 389.9)" stroke="#30BDEA" stroke-width="0.2">Atg12 activating enzyme activity</text>
<line x1="446.7" y1="384.1" x2="446.7" y2="385.7" stroke="#888" stroke-width="0.5"/>
<text x="449.3" y="389.9" font-size="5.4" text-anchor="end" fill="#30BDEA" transform="rotate(-45 449.3 389.9)" stroke="#30BDEA" stroke-width="0.2">methylmalonic acid reductase activity</text>
<line x1="459.1" y1="384.1" x2="459.1" y2="385.7" stroke="#888" stroke-width="0.5"/>
<text x="461.7" y="389.9" font-size="5.4" text-anchor="end" fill="#30BDEA" transform="rotate(-45 461.7 389.9)" stroke="#30BDEA" stroke-width="0.2">methylsterol reductase activity</text>
<text x="27.8" y="266" font-size="5.1" text-anchor="start" fill="#111" stroke="#111" stroke-width="0.08">category</text>
<rect x="27.8" y="268" width="4.9" height="5.9" fill="#FF0000"/>
<text x="34.3" y="272.7" font-size="5.3" text-anchor="start" fill="#111" stroke="#111" stroke-width="0.08">biological_process</text>
<rect x="27.8" y="274.5" width="4.9" height="5.9" fill="#00EE00"/>
<text x="34.3" y="279.2" font-size="5.3" text-anchor="start" fill="#111" stroke="#111" stroke-width="0.08">cellular_component</text>
<rect x="27.8" y="281" width="4.9" height="5.9" fill="#00BFFF"/>
<text x="34.3" y="285.7" font-size="5.3" text-anchor="start" fill="#111" stroke="#111" stroke-width="0.08">molecular_function</text>
<line x1="509.1" y1="253.7" x2="509.1" y2="388.7" stroke="#222" stroke-width="0.75"/>
<line x1="508.8" y1="388.4" x2="781.4" y2="388.4" stroke="#222" stroke-width="0.75"/>
<line x1="505.2" y1="388.4" x2="509.1" y2="388.4" stroke="#222" stroke-width="0.75"/>
<text x="500" y="392" font-size="10.2" text-anchor="end" fill="#222">0</text>
<line x1="505.2" y1="343.6" x2="509.1" y2="343.6" stroke="#222" stroke-width="0.75"/>
<text x="500" y="347.2" font-size="10.2" text-anchor="end" fill="#222">1</text>
<line x1="505.2" y1="298.8" x2="509.1" y2="298.8" stroke="#222" stroke-width="0.75"/>
<text x="500" y="302.4" font-size="10.2" text-anchor="end" fill="#222">2</text>
<line x1="505.2" y1="254" x2="509.1" y2="254" stroke="#222" stroke-width="0.75"/>
<text x="500" y="257.6" font-size="10.2" text-anchor="end" fill="#222">3</text>
<text x="487.9" y="322.8" font-size="10.8" text-anchor="middle" fill="#222" transform="rotate(-90 487.9 322.8)">Enrichment score</text>
<rect x="524.4" y="311.3" width="8.3" height="77.1" fill="#F9C3A8" stroke="#333" stroke-width="0.6"/>
<text x="530.3" y="393.7" font-size="8.15" text-anchor="end" fill="#151515" transform="rotate(-90 530.3 393.7)" stroke="#151515" stroke-width="0.1">TGF-beta signaling pathway</text>
<rect x="537.4" y="320.8" width="8.3" height="67.6" fill="#7AC5D8" stroke="#333" stroke-width="0.6"/>
<text x="543.3" y="393.7" font-size="8.15" text-anchor="end" fill="#151515" transform="rotate(-90 543.3 393.7)" stroke="#151515" stroke-width="0.1">HIF-1 signaling pathway</text>
<rect x="550.4" y="327.5" width="8.3" height="60.9" fill="#F7EE8C" stroke="#333" stroke-width="0.6"/>
<text x="556.3" y="393.7" font-size="8.15" text-anchor="end" fill="#151515" transform="rotate(-90 556.3 393.7)" stroke="#151515" stroke-width="0.1">Apoptosis</text>
<rect x="563.4" y="295.7" width="8.3" height="92.7" fill="#EF8C35" stroke="#333" stroke-width="0.6"/>
<text x="569.3" y="393.7" font-size="8.15" text-anchor="end" fill="#151515" transform="rotate(-90 569.3 393.7)" stroke="#151515" stroke-width="0.1">Steroid biosynthesis</text>
<rect x="576.4" y="325.7" width="8.3" height="62.7" fill="#CDBE5A" stroke="#333" stroke-width="0.6"/>
<text x="582.3" y="393.7" font-size="8.15" text-anchor="end" fill="#151515" transform="rotate(-90 582.3 393.7)" stroke="#151515" stroke-width="0.1">Gap junction</text>
<rect x="589.4" y="309.1" width="8.3" height="79.3" fill="#0E9AA7" stroke="#333" stroke-width="0.6"/>
<text x="595.3" y="393.7" font-size="8.15" text-anchor="end" fill="#151515" transform="rotate(-90 595.3 393.7)" stroke="#151515" stroke-width="0.1">Galactose metabolism</text>
<rect x="602.3" y="329.3" width="8.3" height="59.1" fill="#2E8B6A" stroke="#333" stroke-width="0.6"/>
<text x="608.3" y="393.7" font-size="8.15" text-anchor="end" fill="#151515" transform="rotate(-90 608.3 393.7)" stroke="#151515" stroke-width="0.1">Hepatitis C</text>
<rect x="615.3" y="331.5" width="8.3" height="56.9" fill="#3B1C7A" stroke="#333" stroke-width="0.6"/>
<text x="621.3" y="393.7" font-size="8.15" text-anchor="end" fill="#151515" transform="rotate(-90 621.3 393.7)" stroke="#151515" stroke-width="0.1">Herpes simplex infection</text>
<rect x="628.3" y="329.7" width="8.3" height="58.7" fill="#F1E9F4" stroke="#333" stroke-width="0.6"/>
<text x="634.3" y="393.7" font-size="8.15" text-anchor="end" fill="#151515" transform="rotate(-90 634.3 393.7)" stroke="#151515" stroke-width="0.1">Alcoholism</text>
<rect x="641.3" y="329.7" width="8.3" height="58.7" fill="#6B5A6E" stroke="#333" stroke-width="0.6"/>
<text x="647.3" y="393.7" font-size="8.15" text-anchor="end" fill="#151515" transform="rotate(-90 647.3 393.7)" stroke="#151515" stroke-width="0.1">Platelet activation</text>
<rect x="654.3" y="333.7" width="8.3" height="54.7" fill="#7A7A5C" stroke="#333" stroke-width="0.6"/>
<text x="660.2" y="393.7" font-size="8.15" text-anchor="end" fill="#151515" transform="rotate(-90 660.2 393.7)" stroke="#151515" stroke-width="0.1">Focal adhesion</text>
<rect x="667.3" y="323.9" width="8.3" height="64.5" fill="#C4B6D8" stroke="#333" stroke-width="0.6"/>
<text x="673.2" y="393.7" font-size="8.15" text-anchor="end" fill="#151515" transform="rotate(-90 673.2 393.7)" stroke="#151515" stroke-width="0.1">Biosynthesis of amino acids</text>
<rect x="680.3" y="332.4" width="8.3" height="56" fill="#9A9A9A" stroke="#333" stroke-width="0.6"/>
<text x="686.2" y="393.7" font-size="8.15" text-anchor="end" fill="#151515" transform="rotate(-90 686.2 393.7)" stroke="#151515" stroke-width="0.1">cGMP - PKG signaling pathway</text>
<rect x="693.3" y="326.1" width="8.3" height="62.3" fill="#F9EC00" stroke="#333" stroke-width="0.6"/>
<text x="699.2" y="393.7" font-size="8.15" text-anchor="end" fill="#151515" transform="rotate(-90 699.2 393.7)" stroke="#151515" stroke-width="0.1">Renin secretion</text>
<rect x="706.3" y="333.7" width="8.3" height="54.7" fill="#74505F" stroke="#333" stroke-width="0.6"/>
<text x="712.2" y="393.7" font-size="8.15" text-anchor="end" fill="#151515" transform="rotate(-90 712.2 393.7)" stroke="#151515" stroke-width="0.1">Axon guidance</text>
<rect x="719.2" y="333.7" width="8.3" height="54.7" fill="#7E5648" stroke="#333" stroke-width="0.6"/>
<text x="725.2" y="393.7" font-size="8.15" text-anchor="end" fill="#151515" transform="rotate(-90 725.2 393.7)" stroke="#151515" stroke-width="0.1">Oxytocin signaling pathway</text>
<rect x="732.2" y="335.5" width="8.3" height="52.9" fill="#4D6B55" stroke="#333" stroke-width="0.6"/>
<text x="738.2" y="393.7" font-size="8.15" text-anchor="end" fill="#151515" transform="rotate(-90 738.2 393.7)" stroke="#151515" stroke-width="0.1">Rap1 signaling pathway</text>
<rect x="745.2" y="336.4" width="8.3" height="52" fill="#FCE0E8" stroke="#333" stroke-width="0.6"/>
<text x="751.2" y="393.7" font-size="8.15" text-anchor="end" fill="#151515" transform="rotate(-90 751.2 393.7)" stroke="#151515" stroke-width="0.1">PI3K-Akt signaling pathway</text>
<rect x="758.2" y="335.1" width="8.3" height="53.3" fill="#1C1C1C" stroke="#333" stroke-width="0.6"/>
<text x="764.2" y="393.7" font-size="8.15" text-anchor="end" fill="#151515" transform="rotate(-90 764.2 393.7)" stroke="#151515" stroke-width="0.1">Notch signaling pathway</text>
</svg>
</body></html>
